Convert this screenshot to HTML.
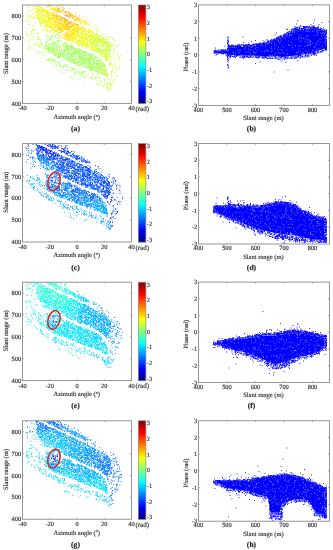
<!DOCTYPE html>
<html><head><meta charset="utf-8"><title>Figure</title>
<style>html,body{margin:0;padding:0;background:#fff;width:333px;height:550px;overflow:hidden}svg{display:block}</style>
</head><body>
<svg width="333" height="550" viewBox="0 0 333 550" text-rendering="geometricPrecision" font-family="'Liberation Serif', 'DejaVu Serif', serif"><defs><linearGradient id="jetg" x1="0" y1="0" x2="0" y2="1"><stop offset="0.0000" stop-color="#800000"/><stop offset="0.0312" stop-color="#9f0000"/><stop offset="0.0625" stop-color="#bf0000"/><stop offset="0.0938" stop-color="#df0000"/><stop offset="0.1250" stop-color="#ff0000"/><stop offset="0.1562" stop-color="#ff2000"/><stop offset="0.1875" stop-color="#ff4000"/><stop offset="0.2188" stop-color="#ff6000"/><stop offset="0.2500" stop-color="#ff8000"/><stop offset="0.2812" stop-color="#ff9f00"/><stop offset="0.3125" stop-color="#ffbf00"/><stop offset="0.3438" stop-color="#ffdf00"/><stop offset="0.3750" stop-color="#ffff00"/><stop offset="0.4062" stop-color="#dfff20"/><stop offset="0.4375" stop-color="#bfff40"/><stop offset="0.4688" stop-color="#9fff60"/><stop offset="0.5000" stop-color="#80ff80"/><stop offset="0.5312" stop-color="#60ff9f"/><stop offset="0.5625" stop-color="#40ffbf"/><stop offset="0.5938" stop-color="#20ffdf"/><stop offset="0.6250" stop-color="#00ffff"/><stop offset="0.6562" stop-color="#00dfff"/><stop offset="0.6875" stop-color="#00bfff"/><stop offset="0.7188" stop-color="#009fff"/><stop offset="0.7500" stop-color="#0080ff"/><stop offset="0.7812" stop-color="#0060ff"/><stop offset="0.8125" stop-color="#0040ff"/><stop offset="0.8438" stop-color="#0020ff"/><stop offset="0.8750" stop-color="#0000ff"/><stop offset="0.9062" stop-color="#0000df"/><stop offset="0.9375" stop-color="#0000bf"/><stop offset="0.9688" stop-color="#00009f"/><stop offset="1.0000" stop-color="#000080"/></linearGradient></defs>
<rect width="333" height="550" fill="#fff"/>
<g transform="scale(0.5)" stroke-width="1.7" stroke-linecap="square" fill="none" opacity="1.0"><path stroke="#59ffa6" d="M127 104h0m40 1h0m15 2h0m6 24h0"/><path stroke="#73ff8c" d="M116 69h0m-1 12h0m-19 2h0m10 3h0m-14 6h0m1 0h0m49 0h0m-34 2h0m35 1h0m-10 1h0m12 0h0m-2 1h0m11 0h0m-58 1h0m35 1h0m28 0h0m-24 1h0m-7 2h0m16 0h0m27 0h0m-16 1h0m-59 1h0m4 0h0m65 0h0m-30 2h0m4 0h0m14 0h0m1 1h0m-35 1h0m16 0h0m8 0h0m8 0h0m19 1h0m8 0h0m-22 1h0m10 0h0m5 0h0m19 0h0m-58 1h0m5 2h0m-15 1h0m42 0h0m2 0h0m18 0h0m-25 1h0m-19 1h0m31 0h0m11 0h0m-75 4h0m42 0h0m12 0h0m-51 1h0m33 0h0m57 0h0m-65 1h0m22 0h0m22 1h0m11 0h0m12 0h0m-32 1h0m-54 1h0m34 0h0m-3 1h0m46 0h0m-27 1h0m15 0h0m11 0h0m-31 1h0m36 0h0m-34 2h0m23 1h0m2 1h0m-58 1h0m49 3h0m11 0h0m-40 12h0m10 10h0m55 8h0"/><path stroke="#8cff73" d="M114 68h0m-61 2h0m68 2h0m-28 2h0m7 0h0m6 0h0m3 0h0m2 0h0m8 1h0m-20 1h0m3 2h0m-3 1h0m1 2h0m17 0h0m-24 1h0m28 0h0m-6 1h0m-24 1h0m23 0h0m103 0h0m-111 1h0m25 0h0m-26 1h0m27 0h0m-23 1h0m-40 1h0m33 0h0m6 0h0m1 0h0m24 0h0m-50 1h0m26 0h0m-8 1h0m1 0h0m8 0h0m-27 1h0m11 0h0m19 0h0m24 0h0m-2 1h0m1 0h0m-33 1h0m3 0h0m9 0h0m18 0h0m2 0h0m8 0h0m1 0h0m-41 1h0m32 0h0m5 0h0m4 0h0m-47 1h0m1 0h0m2 0h0m6 0h0m35 0h0m6 0h0m-32 1h0m19 0h0m2 0h0m1 0h0m7 0h0m-52 1h0m12 0h0m2 0h0m8 0h0m11 0h0m12 0h0m8 0h0m-37 1h0m1 0h0m24 0h0m2 0h0m12 0h0m7 0h0m65 0h0m-123 1h0m27 0h0m13 0h0m1 0h0m21 0h0m-62 1h0m10 0h0m1 0h0m42 0h0m2 0h0m2 0h0m7 0h0m50 0h0m-112 1h0m59 0h0m3 0h0m2 0h0m1 0h0m-90 1h0m33 0h0m1 0h0m27 0h0m25 0h0m62 0h0m-119 1h0m26 0h0m21 0h0m2 0h0m3 0h0m3 0h0m9 0h0m-86 1h0m21 0h0m1 0h0m27 0h0m13 0h0m4 0h0m10 0h0m5 0h0m-45 1h0m31 0h0m21 0h0m8 0h0m-38 1h0m7 0h0m1 0h0m24 0h0m4 0h0m-65 1h0m9 0h0m6 0h0m4 0h0m12 0h0m8 0h0m1 0h0m23 0h0m-39 1h0m5 0h0m1 0h0m25 0h0m1 0h0m6 0h0m11 0h0m-63 1h0m1 0h0m19 0h0m9 0h0m13 0h0m18 0h0m-71 1h0m2 0h0m7 0h0m9 0h0m15 0h0m1 0h0m2 0h0m15 0h0m16 0h0m2 0h0m3 0h0m2 0h0m-72 1h0m6 0h0m2 0h0m17 0h0m1 0h0m7 0h0m17 0h0m3 0h0m5 0h0m5 0h0m13 0h0m-50 1h0m6 0h0m3 0h0m6 0h0m1 0h0m7 0h0m18 0h0m-61 1h0m1 0h0m42 0h0m6 0h0m16 0h0m4 0h0m5 0h0m-61 1h0m3 0h0m3 0h0m6 0h0m6 0h0m15 0h0m1 0h0m17 0h0m8 0h0m8 0h0m-80 1h0m3 0h0m13 0h0m7 0h0m3 0h0m16 0h0m3 0h0m8 0h0m11 0h0m2 0h0m10 0h0m-73 1h0m12 0h0m1 0h0m3 0h0m12 0h0m44 0h0m1 0h0m-56 1h0m5 0h0m17 0h0m2 0h0m9 0h0m7 0h0m7 0h0m-52 1h0m5 0h0m9 0h0m1 0h0m25 0h0m3 0h0m3 0h0m7 0h0m6 0h0m-34 1h0m18 0h0m5 0h0m-81 1h0m5 0h0m3 0h0m40 0h0m23 0h0m3 0h0m9 0h0m11 0h0m-92 1h0m41 0h0m4 0h0m27 0h0m8 0h0m-34 1h0m13 0h0m16 0h0m3 0h0m3 0h0m6 0h0m2 0h0m4 0h0m1 0h0m4 0h0m1 0h0m3 0h0m-81 1h0m19 0h0m38 0h0m6 0h0m-73 1h0m31 0h0m9 0h0m2 0h0m6 0h0m12 0h0m7 0h0m7 0h0m-29 1h0m2 0h0m1 0h0m5 0h0m6 0h0m30 0h0m-91 1h0m45 0h0m7 0h0m1 0h0m3 0h0m13 0h0m1 0h0m4 0h0m5 0h0m-41 1h0m8 0h0m18 0h0m21 0h0m3 0h0m-18 1h0m3 0h0m3 0h0m7 0h0m1 0h0m3 0h0m9 0h0m1 0h0m-73 1h0m68 0h0m-82 1h0m76 0h0m3 0h0m3 0h0m-86 1h0m16 0h0m27 0h0m37 0h0m3 0h0m-70 1h0m35 0h0m34 0h0m9 0h0m-85 1h0m3 0h0m49 0h0m36 0h0m-85 1h0m3 0h0m7 0h0m1 0h0m50 0h0m18 0h0m7 0h0m-40 1h0m11 0h0m6 0h0m4 0h0m-10 1h0m4 0h0m2 0h0m18 0h0m-23 1h0m2 0h0m9 0h0m-47 1h0m54 0h0m-53 1h0m5 0h0m30 0h0m1 0h0m24 0h0m-22 1h0m6 0h0m-56 1h0m-19 1h0m74 0h0m1 0h0m-49 1h0m25 0h0m-44 1h0m23 0h0m13 0h0m36 1h0m9 0h0m-54 1h0m1 0h0m54 0h0m4 0h0m-48 1h0m5 0h0m46 1h0m-3 2h0m-43 2h0m6 2h0m19 1h0m2 1h0m-8 1h0m5 2h0m11 6h0m-4 4h0"/><path stroke="#a6ff59" d="M66 60h0m1 1h0m42 3h0m7 2h0m-41 1h0m43 3h0m-14 1h0m2 0h0m5 0h0m-17 1h0m-28 1h0m31 0h0m5 0h0m2 0h0m1 0h0m79 0h0m-109 1h0m1 0h0m138 0h0m-136 2h0m23 0h0m80 0h0m-79 1h0m13 0h0m-23 1h0m91 0h0m-105 1h0m108 0h0m2 0h0m16 0h0m-104 1h0m107 0h0m22 0h0m-148 1h0m25 0h0m85 0h0m10 0h0m8 1h0m2 0h0m2 0h0m-20 1h0m18 0h0m-159 1h0m41 0h0m17 0h0m15 0h0m75 0h0m-117 1h0m22 0h0m3 0h0m1 0h0m3 0h0m6 0h0m-25 1h0m96 0h0m-88 1h0m13 0h0m13 0h0m5 0h0m55 0h0m22 0h0m-138 1h0m11 0h0m28 0h0m2 0h0m12 0h0m5 0h0m52 0h0m31 0h0m-98 1h0m1 0h0m92 0h0m17 0h0m-136 1h0m28 0h0m10 0h0m1 0h0m64 0h0m-98 1h0m13 0h0m27 0h0m9 0h0m1 0h0m53 0h0m28 0h0m-118 1h0m1 0h0m6 0h0m3 0h0m5 0h0m8 0h0m4 0h0m5 0h0m7 0h0m46 0h0m5 0h0m18 0h0m-118 1h0m3 0h0m18 0h0m11 0h0m9 0h0m5 0h0m72 0h0m-121 1h0m3 0h0m50 0h0m60 0h0m10 0h0m17 0h0m-101 1h0m4 0h0m47 0h0m-87 1h0m1 0h0m3 0h0m11 0h0m1 0h0m1 0h0m6 0h0m9 0h0m7 0h0m-42 1h0m2 0h0m2 0h0m11 0h0m85 0h0m4 0h0m17 0h0m-123 1h0m3 0h0m3 0h0m1 0h0m2 0h0m3 0h0m1 0h0m2 0h0m1 0h0m13 0h0m9 0h0m7 0h0m2 0h0m1 0h0m4 0h0m5 0h0m3 0h0m49 0h0m27 0h0m-126 1h0m1 0h0m2 0h0m1 0h0m10 0h0m4 0h0m15 0h0m15 0h0m2 0h0m1 0h0m51 0h0m9 0h0m-112 1h0m1 0h0m7 0h0m21 0h0m8 0h0m5 0h0m8 0h0m13 0h0m43 0h0m-100 1h0m6 0h0m7 0h0m8 0h0m2 0h0m2 0h0m3 0h0m9 0h0m-48 1h0m2 0h0m13 0h0m2 0h0m2 0h0m1 0h0m8 0h0m1 0h0m9 0h0m5 0h0m2 0h0m2 0h0m15 0h0m52 0h0m-133 1h0m21 0h0m14 0h0m8 0h0m5 0h0m43 0h0m1 0h0m2 0h0m41 0h0m16 0h0m-124 1h0m25 0h0m7 0h0m17 0h0m2 0h0m4 0h0m5 0h0m7 0h0m26 0h0m2 0h0m-119 1h0m30 0h0m13 0h0m27 0h0m1 0h0m7 0h0m2 0h0m11 0h0m31 0h0m-103 1h0m9 0h0m1 0h0m14 0h0m2 0h0m8 0h0m25 0h0m3 0h0m3 0h0m4 0h0m2 0h0m27 0h0m14 0h0m2 0h0m-92 1h0m1 0h0m4 0h0m2 0h0m15 0h0m10 0h0m5 0h0m3 0h0m14 0h0m33 0h0m-97 1h0m5 0h0m7 0h0m3 0h0m1 0h0m16 0h0m2 0h0m2 0h0m1 0h0m6 0h0m3 0h0m6 0h0m4 0h0m-54 1h0m1 0h0m15 0h0m1 0h0m1 0h0m10 0h0m5 0h0m2 0h0m11 0h0m7 0h0m6 0h0m10 0h0m1 0h0m4 0h0m49 0h0m-123 1h0m6 0h0m2 0h0m5 0h0m2 0h0m2 0h0m19 0h0m17 0h0m2 0h0m18 0h0m24 0h0m-98 1h0m8 0h0m1 0h0m1 0h0m24 0h0m35 0h0m22 0h0m-82 1h0m10 0h0m19 0h0m6 0h0m2 0h0m18 0h0m4 0h0m3 0h0m2 0h0m-69 1h0m3 0h0m3 0h0m25 0h0m10 0h0m6 0h0m1 0h0m8 0h0m-56 1h0m12 0h0m55 0h0m31 0h0m-128 1h0m15 0h0m17 0h0m50 0h0m9 0h0m2 0h0m16 0h0m-68 1h0m16 0h0m13 0h0m8 0h0m20 0h0m10 0h0m5 0h0m41 0h0m-142 1h0m40 0h0m1 0h0m17 0h0m8 0h0m1 0h0m1 0h0m10 0h0m7 0h0m4 0h0m1 0h0m27 0h0m-113 1h0m2 0h0m31 0h0m16 0h0m16 0h0m2 0h0m12 0h0m5 0h0m4 0h0m-86 1h0m21 0h0m9 0h0m4 0h0m9 0h0m4 0h0m1 0h0m7 0h0m3 0h0m2 0h0m1 0h0m5 0h0m9 0h0m8 0h0m-94 1h0m3 0h0m13 0h0m19 0h0m11 0h0m2 0h0m11 0h0m3 0h0m2 0h0m4 0h0m2 0h0m13 0h0m2 0h0m11 0h0m5 0h0m-96 1h0m38 0h0m11 0h0m3 0h0m13 0h0m4 0h0m1 0h0m2 0h0m1 0h0m4 0h0m4 0h0m15 0h0m3 0h0m6 0h0m-55 1h0m11 0h0m6 0h0m2 0h0m8 0h0m-78 1h0m10 0h0m35 0h0m4 0h0m2 0h0m9 0h0m12 0h0m5 0h0m1 0h0m14 0h0m-85 1h0m16 0h0m31 0h0m16 0h0m2 0h0m5 0h0m7 0h0m8 0h0m-85 1h0m49 0h0m11 0h0m31 0h0m8 0h0m4 0h0m-63 1h0m3 0h0m5 0h0m1 0h0m15 0h0m4 0h0m5 0h0m14 0h0m5 0h0m5 0h0m2 0h0m-53 1h0m1 0h0m15 0h0m4 0h0m3 0h0m7 0h0m12 0h0m7 0h0m2 0h0m-38 1h0m4 0h0m3 0h0m3 0h0m3 0h0m3 0h0m2 0h0m7 0h0m2 0h0m6 0h0m-87 1h0m76 0h0m1 0h0m10 0h0m13 0h0m-94 1h0m39 0h0m11 0h0m6 0h0m4 0h0m4 0h0m3 0h0m2 0h0m2 0h0m2 0h0m16 0h0m-90 1h0m7 0h0m57 0h0m26 0h0m-32 1h0m2 0h0m3 0h0m2 0h0m4 0h0m10 0h0m2 0h0m14 0h0m1 0h0m-35 1h0m2 0h0m3 0h0m2 0h0m3 0h0m9 0h0m3 0h0m6 0h0m2 0h0m-34 1h0m9 0h0m1 0h0m2 0h0m2 0h0m6 0h0m4 0h0m5 0h0m12 0h0m-70 1h0m38 0h0m6 0h0m7 0h0m9 0h0m-82 1h0m8 0h0m48 0h0m16 0h0m4 0h0m1 0h0m3 0h0m1 0h0m-20 1h0m5 0h0m16 0h0m-57 1h0m13 0h0m18 0h0m20 0h0m3 0h0m6 0h0m-25 1h0m2 0h0m9 0h0m11 0h0m5 0h0m-56 1h0m30 0h0m2 0h0m6 0h0m2 0h0m10 0h0m1 0h0m-70 1h0m21 0h0m10 0h0m21 0h0m12 0h0m12 0h0m-12 1h0m2 0h0m3 0h0m-52 1h0m7 0h0m11 0h0m3 0h0m4 0h0m20 0h0m10 0h0m6 0h0m-47 1h0m44 0h0m-41 1h0m5 0h0m31 0h0m-44 1h0m7 0h0m38 0h0m9 0h0m4 0h0m-48 1h0m42 0h0m-2 1h0m7 0h0m-9 1h0m10 0h0m-49 1h0m27 0h0m-19 1h0m11 0h0m24 0h0m4 1h0m-67 1h0m44 0h0m-8 1h0m31 0h0m-70 1h0m26 0h0m15 0h0m29 0h0m-35 1h0m2 0h0m-33 1h0m34 0h0m-25 2h0m50 1h0m-39 2h0m43 2h0m-15 2h0m0 2h0m15 1h0m-6 1h0m4 4h0m10 2h0m2 0h0m-4 3h0"/><path stroke="#bfff40" d="M62 12h0m15 8h0m-18 1h0m-4 3h0m1 5h0m7 5h0m12 1h0m3 2h0m10 3h0m-7 1h0m6 1h0m1 1h0m-17 1h0m15 0h0m-27 2h0m22 0h0m-11 2h0m12 0h0m-25 1h0m24 1h0m10 3h0m-38 4h0m16 1h0m-4 2h0m-7 1h0m110 0h0m11 0h0m-116 2h0m33 0h0m106 1h0m-126 2h0m29 0h0m10 1h0m-62 1h0m15 0h0m10 0h0m95 0h0m18 0h0m-79 1h0m73 0h0m8 0h0m-137 1h0m3 0h0m57 0h0m55 0h0m23 0h0m-102 1h0m2 0h0m11 0h0m15 0h0m39 0h0m28 0h0m7 0h0m2 0h0m-93 1h0m74 0h0m10 0h0m-79 1h0m49 0h0m20 0h0m9 0h0m6 0h0m9 0h0m-87 1h0m47 0h0m33 0h0m26 0h0m-102 1h0m48 0h0m20 0h0m8 0h0m11 0h0m-130 1h0m77 0h0m21 0h0m23 0h0m-36 1h0m21 0h0m4 0h0m11 0h0m1 0h0m1 0h0m1 0h0m9 0h0m-144 1h0m39 0h0m15 0h0m72 0h0m35 0h0m-143 1h0m86 0h0m6 0h0m23 0h0m9 0h0m2 0h0m-133 1h0m45 0h0m60 0h0m5 0h0m7 0h0m8 0h0m5 0h0m-146 1h0m60 0h0m87 0h0m1 0h0m23 0h0m-173 1h0m121 0h0m11 0h0m4 0h0m5 0h0m1 0h0m1 0h0m-45 1h0m11 0h0m5 0h0m28 0h0m1 0h0m2 0h0m-20 1h0m3 0h0m3 0h0m8 0h0m2 0h0m10 0h0m5 0h0m1 0h0m-51 1h0m21 0h0m4 0h0m19 0h0m7 0h0m8 0h0m-137 1h0m100 0h0m19 0h0m5 0h0m1 0h0m4 0h0m1 0h0m-157 1h0m73 0h0m35 0h0m27 0h0m1 0h0m10 0h0m2 0h0m5 0h0m-138 1h0m23 0h0m32 0h0m91 0h0m-139 1h0m17 0h0m3 0h0m54 0h0m38 0h0m-121 1h0m12 0h0m37 0h0m12 0h0m2 0h0m51 0h0m2 0h0m10 0h0m12 0h0m26 0h0m-158 1h0m21 0h0m32 0h0m8 0h0m26 0h0m9 0h0m7 0h0m4 0h0m7 0h0m9 0h0m7 0h0m6 0h0m2 0h0m2 0h0m4 0h0m17 0h0m-148 1h0m1 0h0m18 0h0m23 0h0m46 0h0m15 0h0m22 0h0m5 0h0m6 0h0m-164 1h0m16 0h0m15 0h0m33 0h0m19 0h0m46 0h0m12 0h0m1 0h0m5 0h0m6 0h0m-159 1h0m24 0h0m11 0h0m8 0h0m77 0h0m5 0h0m40 0h0m-161 1h0m28 0h0m30 0h0m3 0h0m10 0h0m60 0h0m-17 1h0m22 0h0m16 0h0m7 0h0m-132 1h0m20 0h0m25 0h0m17 0h0m8 0h0m38 0h0m18 0h0m-156 1h0m84 0h0m45 0h0m4 0h0m9 0h0m9 0h0m4 0h0m-118 1h0m59 0h0m43 0h0m8 0h0m9 0h0m3 0h0m2 0h0m2 0h0m9 0h0m-119 1h0m20 0h0m28 0h0m31 0h0m2 0h0m7 0h0m2 0h0m2 0h0m11 0h0m3 0h0m-119 1h0m12 0h0m44 0h0m8 0h0m35 0h0m2 0h0m7 0h0m2 0h0m10 0h0m2 0h0m3 0h0m-121 1h0m30 0h0m1 0h0m13 0h0m47 0h0m7 0h0m1 0h0m-95 1h0m1 0h0m34 0h0m6 0h0m12 0h0m34 0h0m1 0h0m7 0h0m13 0h0m-109 1h0m11 0h0m26 0h0m16 0h0m10 0h0m36 0h0m11 0h0m2 0h0m2 0h0m2 0h0m-110 1h0m1 0h0m7 0h0m3 0h0m25 0h0m29 0h0m24 0h0m-116 1h0m3 0h0m69 0h0m58 0h0m1 0h0m3 0h0m-110 1h0m1 0h0m5 0h0m3 0h0m34 0h0m20 0h0m6 0h0m25 0h0m18 0h0m10 0h0m-122 1h0m20 0h0m1 0h0m1 0h0m74 0h0m7 0h0m26 0h0m-127 1h0m53 0h0m55 0h0m3 0h0m-105 1h0m97 0h0m15 0h0m-96 1h0m27 0h0m13 0h0m1 0h0m-80 1h0m33 0h0m2 0h0m11 0h0m6 0h0m24 0h0m35 0h0m14 0h0m2 0h0m-68 1h0m57 0h0m5 0h0m-48 1h0m12 0h0m4 0h0m8 0h0m3 0h0m18 0h0m-67 1h0m10 0h0m24 0h0m35 0h0m-96 1h0m27 0h0m27 0h0m2 0h0m38 0h0m4 0h0m-64 1h0m6 0h0m23 0h0m2 0h0m4 0h0m30 0h0m-45 1h0m11 0h0m6 0h0m24 0h0m-109 1h0m6 0h0m33 0h0m25 0h0m10 0h0m22 0h0m5 0h0m18 0h0m-125 1h0m51 0h0m49 0h0m16 0h0m-101 1h0m101 0h0m-72 1h0m14 0h0m14 0h0m9 0h0m11 0h0m9 0h0m17 0h0m-100 1h0m37 0h0m11 0h0m18 0h0m17 0h0m-48 1h0m18 0h0m16 0h0m1 0h0m10 0h0m-17 1h0m42 0h0m13 0h0m-122 1h0m39 0h0m-32 1h0m37 0h0m33 0h0m1 0h0m16 0h0m2 0h0m16 0h0m-32 1h0m17 0h0m11 0h0m2 0h0m-100 1h0m34 0h0m4 0h0m25 0h0m10 0h0m16 0h0m9 0h0m-88 1h0m27 0h0m2 0h0m37 0h0m9 0h0m-43 1h0m8 0h0m9 0h0m14 0h0m3 0h0m8 0h0m4 0h0m-81 1h0m38 0h0m67 0h0m7 0h0m-52 1h0m1 0h0m17 0h0m-79 1h0m57 0h0m8 0h0m7 0h0m7 0h0m1 0h0m15 0h0m-82 1h0m28 0h0m10 0h0m17 0h0m2 0h0m4 0h0m2 0h0m23 0h0m-79 1h0m38 0h0m27 0h0m26 0h0m-92 1h0m51 0h0m1 0h0m15 0h0m-63 1h0m63 0h0m-13 1h0m-18 1h0m6 0h0m20 0h0m3 0h0m2 0h0m2 0h0m-73 1h0m12 0h0m33 0h0m16 0h0m6 0h0m1 0h0m-51 1h0m34 0h0m2 0h0m2 0h0m8 0h0m7 0h0m1 0h0m-15 1h0m1 0h0m7 0h0m-8 1h0m1 0h0m1 0h0m6 0h0m8 0h0m1 0h0m8 0h0m-20 1h0m1 0h0m-77 1h0m53 0h0m25 0h0m8 0h0m-7 1h0m1 0h0m2 0h0m-48 1h0m46 0h0m2 0h0m7 0h0m-29 1h0m22 0h0m2 0h0m3 0h0m10 1h0m-10 1h0m3 0h0m-47 2h0m26 1h0m-56 1h0m59 0h0m1 0h0m-11 2h0m11 0h0m22 1h0m-12 1h0m8 0h0m14 1h0m-31 1h0m9 0h0m1 4h0m8 1h0m-5 2h0m8 0h0m-9 1h0m7 0h0m-19 1h0m5 2h0m9 1h0m2 1h0m-3 2h0m0 1h0m8 1h0m-4 4h0"/><path stroke="#d9ff26" d="M56 12h0m17 0h0m4 0h0m-11 1h0m-10 1h0m3 0h0m36 0h0m-12 1h0m1 0h0m-2 1h0m0 1h0m-8 1h0m5 0h0m1 0h0m-14 2h0m14 0h0m-1 1h0m-17 1h0m15 0h0m3 0h0m2 0h0m-9 1h0m13 0h0m2 0h0m-15 2h0m17 0h0m-16 1h0m5 1h0m14 1h0m-17 2h0m-24 2h0m2 0h0m43 1h0m-29 1h0m17 0h0m-20 2h0m2 0h0m6 0h0m1 0h0m3 0h0m6 0h0m9 0h0m-16 3h0m13 0h0m-35 1h0m35 0h0m13 0h0m72 0h0m-96 1h0m9 0h0m4 0h0m6 0h0m-17 1h0m1 0h0m-28 1h0m8 0h0m28 0h0m18 0h0m-22 1h0m18 0h0m-17 2h0m11 0h0m-17 1h0m3 0h0m7 0h0m10 0h0m63 0h0m9 0h0m5 0h0m-82 1h0m9 0h0m72 0h0m-118 1h0m112 0h0m-70 1h0m1 0h0m-12 1h0m2 1h0m3 0h0m10 0h0m1 0h0m-7 2h0m8 0h0m-4 1h0m-38 1h0m119 1h0m-98 1h0m8 0h0m14 0h0m43 1h0m43 0h0m-101 2h0m102 0h0m-83 2h0m62 1h0m4 0h0m1 0h0m4 0h0m3 0h0m10 0h0m-12 1h0m4 0h0m-124 1h0m-10 1h0m98 0h0m9 0h0m2 0h0m14 0h0m6 0h0m5 0h0m-11 1h0m13 0h0m4 0h0m19 0h0m-151 1h0m56 0h0m67 0h0m10 0h0m13 0h0m-59 1h0m12 0h0m2 0h0m1 0h0m35 0h0m-41 1h0m20 0h0m4 0h0m7 0h0m7 0h0m3 0h0m-63 1h0m23 0h0m8 0h0m18 0h0m2 0h0m18 0h0m-49 1h0m17 0h0m4 0h0m3 0h0m8 0h0m10 0h0m1 0h0m4 0h0m11 0h0m-146 1h0m85 0h0m1 0h0m6 0h0m5 0h0m26 0h0m19 0h0m12 0h0m-73 1h0m23 0h0m5 0h0m4 0h0m15 0h0m9 0h0m-42 1h0m7 0h0m2 0h0m1 0h0m10 0h0m8 0h0m1 0h0m2 0h0m12 0h0m1 0h0m2 0h0m17 0h0m-92 1h0m47 0h0m7 0h0m14 0h0m-141 1h0m18 0h0m73 0h0m31 0h0m3 0h0m1 0h0m5 0h0m3 0h0m20 0h0m13 0h0m-133 1h0m57 0h0m12 0h0m17 0h0m15 0h0m6 0h0m9 0h0m2 0h0m-81 1h0m29 0h0m11 0h0m4 0h0m3 0h0m1 0h0m15 0h0m7 0h0m3 0h0m2 0h0m-62 1h0m11 0h0m9 0h0m12 0h0m10 0h0m6 0h0m2 0h0m5 0h0m6 0h0m-101 1h0m49 0h0m26 0h0m1 0h0m1 0h0m13 0h0m3 0h0m10 0h0m10 0h0m-44 1h0m2 0h0m6 0h0m5 0h0m19 0h0m12 0h0m-68 1h0m8 0h0m7 0h0m15 0h0m4 0h0m7 0h0m7 0h0m2 0h0m-46 1h0m29 0h0m4 0h0m4 0h0m3 0h0m6 0h0m3 0h0m3 0h0m4 0h0m4 0h0m-138 1h0m79 0h0m20 0h0m12 0h0m1 0h0m1 0h0m-33 1h0m6 0h0m12 0h0m3 0h0m9 0h0m6 0h0m17 0h0m4 0h0m4 0h0m-133 1h0m75 0h0m6 0h0m10 0h0m2 0h0m6 0h0m2 0h0m19 0h0m5 0h0m8 0h0m-148 1h0m107 0h0m3 0h0m13 0h0m5 0h0m21 0h0m5 0h0m1 0h0m-95 1h0m31 0h0m33 0h0m7 0h0m3 0h0m27 0h0m3 0h0m-62 1h0m1 0h0m41 0h0m4 0h0m-137 1h0m29 0h0m56 0h0m5 0h0m5 0h0m14 0h0m18 0h0m1 0h0m9 0h0m-97 1h0m6 0h0m13 0h0m27 0h0m7 0h0m4 0h0m13 0h0m5 0h0m5 0h0m20 0h0m-33 1h0m5 0h0m2 0h0m20 0h0m6 0h0m-34 1h0m27 0h0m5 0h0m-112 1h0m66 0h0m37 0h0m7 0h0m-156 1h0m52 0h0m73 0h0m40 0h0m-156 1h0m25 0h0m103 0h0m-10 1h0m1 0h0m2 0h0m9 0h0m-85 1h0m67 0h0m3 0h0m3 0h0m7 0h0m3 0h0m-2 1h0m10 0h0m7 0h0m-59 1h0m51 0h0m3 0h0m7 0h0m17 0h0m-43 1h0m4 0h0m11 0h0m1 0h0m1 0h0m4 0h0m2 0h0m6 0h0m-95 1h0m69 0h0m16 0h0m4 0h0m16 0h0m-90 1h0m66 0h0m1 0h0m11 0h0m1 0h0m-14 1h0m6 0h0m-5 1h0m1 0h0m1 0h0m1 0h0m-122 2h0m55 0h0m70 0h0m4 0h0m7 0h0m-74 1h0m56 0h0m6 0h0m4 0h0m-122 1h0m127 0h0m11 0h0m14 0h0m-32 1h0m4 0h0m-9 1h0m3 0h0m5 0h0m3 0h0m2 0h0m4 0h0m-9 1h0m10 0h0m17 0h0m-29 1h0m2 1h0m24 1h0m1 0h0m3 0h0m-136 2h0m110 0h0m1 0h0m-1 1h0m15 0h0m-14 2h0m5 0h0m2 0h0m-121 2h0m49 2h0m73 2h0m-2 1h0m5 0h0m4 1h0m-63 1h0m43 1h0m10 0h0m8 1h0m-18 3h0m1 1h0m29 0h0m-1 1h0m-6 1h0m-39 2h0m2 0h0m28 1h0m-24 1h0m10 0h0m12 0h0m-18 1h0m-49 1h0m55 1h0m13 1h0m-13 1h0m3 2h0m21 1h0m-71 1h0m13 0h0m39 0h0m18 0h0m-5 3h0m2 4h0m-35 2h0m8 2h0m22 1h0m-4 1h0m-7 1h0m13 2h0m-12 1h0m7 1h0m-8 1h0m7 0h0m2 3h0m-8 2h0m2 4h0m3 0h0"/><path stroke="#f2ff0d" d="M94 11h0m-20 1h0m6 1h0m15 0h0m-15 2h0m3 1h0m-11 1h0m2 0h0m6 0h0m21 0h0m1 0h0m-34 1h0m17 0h0m-17 1h0m7 0h0m3 0h0m8 0h0m-16 1h0m22 0h0m-16 1h0m6 0h0m8 0h0m3 0h0m-8 1h0m5 0h0m-15 1h0m14 0h0m1 0h0m5 0h0m-19 1h0m2 0h0m1 0h0m4 0h0m2 0h0m-9 1h0m-1 1h0m5 0h0m13 0h0m3 0h0m-28 1h0m24 0h0m16 0h0m-12 1h0m-30 1h0m15 0h0m19 0h0m-22 1h0m1 0h0m8 0h0m9 0h0m-21 1h0m1 0h0m10 0h0m11 0h0m8 0h0m-21 1h0m7 0h0m-13 1h0m10 0h0m5 0h0m5 0h0m-29 1h0m5 0h0m4 0h0m5 0h0m5 0h0m1 0h0m5 0h0m-39 1h0m5 0h0m16 0h0m10 0h0m9 0h0m2 0h0m69 0h0m-87 1h0m7 0h0m3 0h0m8 0h0m71 0h0m-101 1h0m13 0h0m5 0h0m68 0h0m-75 1h0m9 0h0m3 0h0m7 0h0m63 0h0m-79 1h0m3 0h0m6 0h0m14 0h0m-19 1h0m7 0h0m5 0h0m8 0h0m55 0h0m-83 1h0m17 0h0m10 0h0m60 0h0m1 0h0m-87 2h0m6 0h0m2 0h0m-4 1h0m5 0h0m5 0h0m4 0h0m70 0h0m-86 1h0m6 0h0m21 0h0m65 0h0m-93 1h0m5 0h0m78 0h0m14 0h0m-90 1h0m9 0h0m18 0h0m57 0h0m5 0h0m1 0h0m-86 1h0m9 0h0m9 0h0m11 0h0m-21 1h0m8 0h0m63 0h0m-77 1h0m11 0h0m-8 1h0m10 0h0m10 0h0m58 0h0m-76 1h0m6 0h0m54 0h0m33 0h0m-89 1h0m7 0h0m55 0h0m-79 1h0m15 0h0m12 0h0m1 0h0m51 0h0m-68 1h0m8 0h0m24 0h0m22 0h0m-41 1h0m11 0h0m37 0h0m11 0h0m-65 1h0m2 0h0m75 0h0m-56 1h0m5 0h0m-24 1h0m4 0h0m10 0h0m31 0h0m7 0h0m34 0h0m-100 1h0m16 0h0m71 0h0m1 0h0m-83 1h0m14 0h0m13 0h0m35 0h0m3 0h0m5 0h0m6 0h0m7 0h0m5 0h0m16 0h0m-33 1h0m-46 1h0m6 0h0m15 0h0m22 0h0m11 0h0m7 0h0m-81 1h0m57 0h0m4 0h0m4 0h0m1 0h0m13 0h0m5 0h0m-85 1h0m1 0h0m48 0h0m25 0h0m-19 1h0m8 0h0m6 0h0m13 0h0m-48 1h0m32 0h0m4 0h0m2 0h0m-41 1h0m25 0h0m15 0h0m24 0h0m-44 1h0m6 0h0m9 0h0m5 0h0m20 0h0m-55 1h0m8 0h0m13 0h0m13 0h0m-36 1h0m10 0h0m11 0h0m1 0h0m10 0h0m10 0h0m3 0h0m1 0h0m7 0h0m4 0h0m-64 1h0m22 0h0m2 0h0m11 0h0m9 0h0m4 0h0m1 0h0m18 0h0m-55 1h0m21 0h0m12 0h0m19 0h0m-41 1h0m11 0h0m7 0h0m15 0h0m-43 1h0m11 0h0m2 0h0m27 0h0m12 0h0m-57 1h0m16 0h0m9 0h0m4 0h0m7 0h0m13 0h0m6 0h0m6 0h0m-48 1h0m5 0h0m6 0h0m14 0h0m3 0h0m13 0h0m4 0h0m15 0h0m-151 1h0m83 0h0m27 0h0m21 0h0m10 0h0m-61 1h0m2 0h0m2 0h0m8 0h0m17 0h0m7 0h0m3 0h0m1 0h0m3 0h0m37 0h0m-71 1h0m7 0h0m12 0h0m1 0h0m3 0h0m23 0h0m-56 1h0m21 0h0m5 0h0m19 0h0m13 0h0m-49 1h0m7 0h0m3 0h0m2 0h0m2 0h0m11 0h0m16 0h0m7 0h0m16 0h0m-51 1h0m1 0h0m2 0h0m4 0h0m4 0h0m16 0h0m4 0h0m20 0h0m-61 1h0m15 0h0m4 0h0m4 0h0m1 0h0m-28 1h0m23 0h0m8 0h0m-13 1h0m15 0h0m42 0h0m-62 1h0m2 0h0m4 0h0m1 0h0m5 0h0m15 0h0m1 0h0m19 0h0m12 0h0m-61 1h0m2 0h0m3 0h0m7 0h0m2 0h0m1 0h0m-11 1h0m6 0h0m3 0h0m3 0h0m3 0h0m9 0h0m2 0h0m29 0h0m-41 1h0m7 0h0m1 0h0m2 0h0m23 0h0m15 0h0m-45 1h0m39 0h0m-51 1h0m8 0h0m29 0h0m5 1h0m-40 1h0m12 0h0m15 0h0m31 0h0m-52 1h0m1 0h0m5 1h0m9 1h0m3 0h0m9 0h0m1 0h0m-12 1h0m29 0h0m-38 1h0m5 0h0m1 0h0m8 2h0m2 1h0m16 0h0m-15 3h0m20 2h0m-7 1h0m8 1h0m8 0h0m-22 1h0m12 1h0m-9 2h0m9 2h0m12 1h0m-15 1h0m2 1h0m7 0h0m8 2h0m9 0h0m5 0h0m-16 17h0m-1 5h0m-1 1h0m8 3h0m-22 4h0m13 5h0m0 14h0m-1 2h0"/><path stroke="#ff7300" d="M139 27h0m-9 4h0m6 13h0"/><path stroke="#ff8c00" d="M133 31h0m-23 1h0m26 1h0m2 0h0m-10 3h0m-6 1h0m6 0h0m1 0h0m-5 1h0m9 2h0m1 0h0m16 0h0m-28 4h0m20 0h0m-4 1h0m2 1h0m-2 1h0m-2 1h0m1 2h0"/><path stroke="#ffa600" d="M125 11h0m-4 1h0m-3 2h0m7 1h0m-7 2h0m-3 1h0m1 0h0m11 1h0m-13 1h0m12 1h0m-9 2h0m7 0h0m6 0h0m-2 1h0m5 0h0m4 0h0m-7 1h0m1 0h0m3 2h0m8 0h0m-30 1h0m27 1h0m-26 1h0m28 0h0m1 0h0m2 0h0m-35 1h0m26 0h0m8 0h0m-29 1h0m4 0h0m2 0h0m16 0h0m9 0h0m-29 1h0m17 0h0m9 0h0m-19 1h0m-1 1h0m17 0h0m16 0h0m-29 1h0m19 0h0m-18 1h0m17 0h0m-24 1h0m28 0h0m-24 1h0m5 0h0m-6 1h0m9 0h0m-2 1h0m20 0h0m4 0h0m-26 2h0m4 0h0m8 0h0m-10 2h0m18 0h0m-11 1h0m1 0h0m5 0h0m3 0h0m-22 1h0m6 1h0m5 0h0m7 0h0m-20 5h0m4 1h0m17 0h0m-7 1h0m-22 1h0m6 1h0m1 0h0m9 0h0m16 4h0m-25 3h0m10 6h0"/><path stroke="#ffbf00" d="M99 11h0m14 1h0m15 5h0m12 0h0m-33 1h0m5 0h0m-7 1h0m3 0h0m9 0h0m-2 1h0m4 0h0m1 0h0m-5 1h0m-5 1h0m1 0h0m4 1h0m5 0h0m-3 1h0m21 0h0m-18 1h0m3 0h0m11 0h0m4 0h0m-31 1h0m32 2h0m13 0h0m-55 1h0m35 0h0m4 0h0m2 1h0m1 0h0m2 1h0m3 0h0m1 0h0m-50 1h0m18 0h0m2 0h0m1 0h0m16 0h0m15 0h0m2 0h0m10 0h0m-49 1h0m2 0h0m7 0h0m31 0h0m-29 1h0m20 0h0m8 0h0m3 0h0m-29 1h0m-14 1h0m3 0h0m1 0h0m1 0h0m42 0h0m-55 1h0m6 0h0m38 0h0m10 0h0m-40 1h0m11 0h0m23 0h0m3 0h0m5 0h0m-42 1h0m5 0h0m3 0h0m10 0h0m17 0h0m10 0h0m-42 1h0m1 0h0m11 0h0m1 0h0m4 0h0m-17 1h0m13 0h0m5 0h0m-24 1h0m3 0h0m16 0h0m1 0h0m-21 1h0m9 0h0m9 0h0m2 0h0m-2 1h0m-10 1h0m16 0h0m6 0h0m-23 1h0m13 0h0m5 0h0m-14 1h0m3 0h0m7 0h0m20 0h0m-35 1h0m6 0h0m9 0h0m-7 1h0m2 0h0m1 0h0m5 0h0m14 0h0m4 0h0m2 0h0m2 0h0m-23 1h0m1 0h0m12 0h0m-15 1h0m1 0h0m3 0h0m10 0h0m3 0h0m1 0h0m6 0h0m-31 1h0m11 0h0m10 0h0m-11 1h0m1 0h0m3 0h0m1 0h0m4 0h0m14 0h0m-16 1h0m1 0h0m10 0h0m-34 1h0m12 0h0m9 0h0m2 0h0m2 0h0m-8 1h0m5 0h0m11 0h0m4 0h0m1 0h0m-36 1h0m13 0h0m4 0h0m16 0h0m9 0h0m-45 1h0m14 0h0m3 0h0m2 0h0m1 0h0m-13 1h0m7 0h0m8 0h0m4 0h0m5 0h0m7 1h0m1 0h0m-31 1h0m14 1h0m-18 3h0m18 1h0m-5 2h0m7 0h0m-15 1h0m13 0h0m6 0h0m8 0h0m-19 5h0m3 3h0"/><path stroke="#ffd900" d="M97 10h0m10 1h0m8 1h0m-21 1h0m3 0h0m5 0h0m9 3h0m4 0h0m12 0h0m-23 1h0m5 0h0m1 1h0m-25 1h0m22 0h0m13 0h0m-35 1h0m24 0h0m1 0h0m-23 1h0m33 0h0m3 0h0m1 0h0m-8 1h0m1 0h0m-24 1h0m20 0h0m-17 1h0m23 0h0m-24 1h0m10 0h0m48 0h0m-59 1h0m-5 1h0m15 0h0m2 0h0m1 1h0m20 0h0m24 0h0m-52 1h0m9 0h0m-22 1h0m12 0h0m7 0h0m3 0h0m-21 1h0m16 0h0m3 0h0m5 0h0m3 0h0m-22 1h0m13 0h0m7 0h0m5 0h0m26 0h0m3 0h0m4 0h0m-32 1h0m30 0h0m-39 1h0m3 0h0m1 0h0m4 0h0m30 0h0m-45 1h0m6 0h0m6 0h0m2 0h0m31 0h0m-49 1h0m1 0h0m5 0h0m11 0h0m45 0h0m-45 1h0m-13 1h0m10 0h0m5 0h0m42 0h0m-62 1h0m9 0h0m11 0h0m2 0h0m36 0h0m3 0h0m-60 1h0m8 0h0m2 0h0m16 0h0m35 0h0m-49 1h0m14 0h0m5 0h0m26 0h0m1 0h0m-58 1h0m12 0h0m14 0h0m1 0h0m1 0h0m7 0h0m27 0h0m-45 1h0m54 0h0m1 0h0m-56 1h0m5 0h0m1 0h0m39 0h0m11 0h0m-77 1h0m9 0h0m14 0h0m27 0h0m19 0h0m8 0h0m-79 1h0m15 0h0m13 0h0m51 0h0m-60 1h0m11 0h0m5 0h0m21 0h0m-23 1h0m4 0h0m1 0h0m2 0h0m7 0h0m5 0h0m5 0h0m2 0h0m2 0h0m-38 1h0m9 0h0m3 0h0m5 0h0m19 0h0m2 0h0m5 0h0m21 0h0m-70 1h0m1 0h0m5 0h0m3 0h0m6 0h0m1 0h0m23 0h0m2 0h0m4 0h0m-41 1h0m1 0h0m3 0h0m3 0h0m9 0h0m8 0h0m-36 1h0m22 0h0m5 0h0m4 0h0m5 0h0m9 0h0m7 0h0m-26 1h0m1 0h0m4 0h0m1 0h0m14 0h0m1 0h0m11 0h0m-69 1h0m12 0h0m15 0h0m7 0h0m1 0h0m9 0h0m2 0h0m9 0h0m10 0h0m2 0h0m39 0h0m-79 1h0m18 0h0m31 0h0m-55 1h0m2 0h0m3 0h0m3 0h0m14 0h0m3 0h0m3 0h0m28 0h0m-49 1h0m5 0h0m2 0h0m3 0h0m19 0h0m10 0h0m2 0h0m5 0h0m5 0h0m-63 1h0m16 0h0m1 0h0m28 0h0m7 0h0m5 0h0m6 0h0m3 0h0m-52 1h0m16 0h0m1 0h0m3 0h0m2 0h0m5 0h0m8 0h0m-36 1h0m1 0h0m1 0h0m1 0h0m4 0h0m8 0h0m1 0h0m10 0h0m-33 1h0m15 0h0m8 0h0m1 0h0m12 0h0m1 0h0m3 0h0m5 0h0m-55 1h0m12 0h0m2 0h0m7 0h0m2 0h0m1 0h0m2 0h0m21 0h0m5 0h0m1 0h0m-6 1h0m-26 1h0m12 0h0m20 0h0m1 0h0m1 0h0m18 0h0m-57 1h0m18 0h0m1 0h0m10 0h0m10 0h0m21 0h0m-52 1h0m7 0h0m3 0h0m7 0h0m8 0h0m7 0h0m-26 1h0m14 0h0m3 0h0m1 0h0m-6 1h0m8 0h0m14 0h0m16 0h0m-45 1h0m38 0h0m-38 1h0m11 0h0m19 0h0m-32 1h0m7 0h0m1 0h0m7 0h0m-8 1h0m5 0h0m-13 1h0m4 0h0m2 0h0m5 0h0m1 0h0m19 0h0m-40 1h0m11 0h0m4 0h0m3 0h0m-18 1h0m5 0h0m6 1h0m5 0h0m4 0h0m22 0h0m-36 1h0m3 1h0m8 0h0m-10 1h0m68 0h0m-62 1h0m0 1h0m9 0h0m21 0h0m-9 9h0m8 0h0m68 47h0"/><path stroke="#fff200" d="M100 11h0m2 0h0m3 0h0m-4 1h0m-31 1h0m5 0h0m21 1h0m1 0h0m10 0h0m-34 2h0m2 1h0m12 1h0m13 0h0m8 0h0m-28 1h0m10 0h0m-11 1h0m10 0h0m-11 1h0m6 0h0m8 0h0m5 0h0m-11 1h0m6 0h0m3 0h0m-17 1h0m6 0h0m-12 1h0m12 0h0m7 0h0m2 0h0m7 0h0m3 0h0m-21 1h0m1 0h0m1 0h0m12 0h0m4 0h0m5 1h0m-14 1h0m4 0h0m8 0h0m-1 1h0m4 0h0m-21 1h0m1 0h0m-14 1h0m23 0h0m9 0h0m-43 1h0m22 0h0m8 0h0m10 0h0m-8 1h0m9 0h0m4 0h0m1 0h0m-47 1h0m20 2h0m2 0h0m2 0h0m17 0h0m4 0h0m-14 1h0m11 0h0m1 0h0m-26 1h0m20 0h0m2 0h0m3 0h0m2 0h0m-28 1h0m23 0h0m10 0h0m-13 1h0m4 0h0m5 0h0m5 0h0m-14 1h0m15 0h0m4 0h0m47 0h0m3 0h0m-62 1h0m2 0h0m4 0h0m61 0h0m-84 1h0m3 0h0m5 0h0m2 0h0m7 0h0m11 0h0m44 0h0m7 0h0m1 0h0m-72 1h0m2 0h0m3 0h0m14 0h0m1 0h0m40 0h0m-64 1h0m7 0h0m4 0h0m24 0h0m37 0h0m-65 1h0m7 0h0m5 0h0m2 0h0m47 0h0m3 0h0m-67 1h0m7 0h0m7 0h0m4 0h0m10 0h0m41 0h0m-60 1h0m20 0h0m41 0h0m-54 1h0m15 0h0m50 0h0m-82 1h0m1 0h0m1 0h0m4 0h0m10 0h0m1 0h0m2 0h0m4 0h0m2 0h0m-24 1h0m11 0h0m2 0h0m8 0h0m4 0h0m3 0h0m4 0h0m2 0h0m3 0h0m25 0h0m1 0h0m-75 1h0m40 0h0m1 0h0m-58 1h0m33 0h0m8 0h0m5 0h0m18 0h0m29 0h0m5 0h0m-69 1h0m15 0h0m7 0h0m3 0h0m11 0h0m22 0h0m-55 1h0m11 0h0m9 0h0m3 0h0m37 0h0m7 0h0m2 0h0m-57 1h0m23 0h0m15 0h0m1 0h0m2 0h0m5 0h0m1 0h0m10 0h0m16 0h0m-62 1h0m27 0h0m-48 1h0m30 0h0m5 0h0m1 0h0m9 0h0m6 0h0m5 0h0m11 0h0m-78 1h0m16 0h0m42 0h0m1 0h0m1 0h0m12 0h0m-66 1h0m15 0h0m11 0h0m24 0h0m15 0h0m2 0h0m5 0h0m-73 1h0m20 0h0m11 0h0m26 0h0m6 0h0m2 0h0m15 0h0m-85 1h0m13 0h0m4 0h0m8 0h0m1 0h0m36 0h0m16 0h0m1 0h0m-65 1h0m8 0h0m11 0h0m13 0h0m6 0h0m2 0h0m27 0h0m1 0h0m2 0h0m5 0h0m-64 1h0m1 0h0m24 0h0m1 0h0m3 0h0m1 0h0m3 0h0m5 0h0m15 0h0m3 0h0m4 0h0m9 0h0m-40 1h0m10 0h0m6 0h0m25 0h0m-39 1h0m1 0h0m10 0h0m5 0h0m-42 1h0m18 0h0m9 0h0m3 0h0m12 0h0m13 0h0m-39 1h0m32 0h0m-28 1h0m9 0h0m5 0h0m-15 1h0m4 0h0m4 0h0m6 0h0m32 0h0m-53 1h0m7 0h0m3 0h0m1 0h0m-12 1h0m10 0h0m5 0h0m3 0h0m-17 1h0m4 0h0m11 0h0m4 0h0m5 0h0m14 0h0m8 0h0m-41 1h0m14 0h0m18 0h0m15 0h0m-54 1h0m4 0h0m6 0h0m45 0h0m4 0h0m-42 1h0m18 0h0m-35 1h0m14 0h0m3 0h0m1 0h0m-9 1h0m8 0h0m4 0h0m4 0h0m17 0h0m-38 1h0m6 0h0m4 0h0m20 0h0m10 0h0m2 0h0m1 0h0m21 0h0m9 0h0m-63 1h0m4 0h0m-8 1h0m5 0h0m5 0h0m55 0h0m-44 1h0m-20 1h0m20 0h0m3 0h0m2 0h0m-21 1h0m1 0h0m25 0h0m-26 1h0m12 0h0m4 0h0m10 1h0m6 0h0m4 0h0m-28 1h0m44 1h0m-34 1h0m-2 1h0m6 0h0m9 1h0m-2 1h0m-92 1h0m95 0h0m5 0h0m5 1h0m2 0h0m3 1h0m-7 4h0m22 1h0m-10 3h0m29 43h0m4 1h0m-3 16h0"/></g>
<g transform="scale(0.5)" stroke-width="1.7" stroke-linecap="square" fill="none" opacity="1.0"><path stroke="#0000d9" d="M107 293h0"/><path stroke="#0000f2" d="M95 291h0m1 1h0m15 0h0m-9 1h0m9 0h0m-29 1h0m7 1h0m3 1h0m17 0h0m-22 1h0m9 2h0m-14 2h0m11 1h0m30 3h0m-10 1h0m-2 54h0m-8 10h0"/><path stroke="#000dff" d="M90 288h0m7 0h0m-5 1h0m13 0h0m-30 3h0m35 0h0m13 0h0m-25 1h0m-21 1h0m6 0h0m2 0h0m23 0h0m7 0h0m-32 1h0m3 0h0m1 0h0m-7 1h0m22 0h0m-20 1h0m11 0h0m13 0h0m10 0h0m8 0h0m-41 1h0m8 0h0m1 0h0m31 0h0m-36 1h0m2 0h0m4 0h0m-1 1h0m-4 1h0m30 0h0m4 0h0m6 0h0m-36 1h0m4 0h0m5 0h0m34 0h0m-57 1h0m45 0h0m-41 1h0m10 0h0m1 0h0m2 0h0m4 0h0m6 0h0m24 0h0m-37 1h0m2 0h0m-1 1h0m5 0h0m3 1h0m7 0h0m2 0h0m-24 1h0m11 0h0m19 1h0m36 2h0m-40 1h0m-2 2h0m-3 3h0m60 1h0m-42 1h0m6 3h0m48 2h0m-29 2h0m-20 7h0m67 0h0m-25 1h0m-16 6h0m33 4h0m39 12h0m-75 2h0m78 3h0m-24 3h0m-47 4h0m76 2h0m-92 1h0m-36 2h0m105 2h0m0 3h0m20 0h0m6 2h0m-27 1h0m-13 3h0m-51 4h0m71 1h0m-7 4h0m-3 1h0m22 6h0m-4 11h0m8 12h0"/><path stroke="#0026ff" d="M91 287h0m-18 1h0m26 1h0m7 0h0m-5 1h0m-27 1h0m2 0h0m22 0h0m20 0h0m14 0h0m-54 1h0m26 0h0m30 0h0m-53 1h0m2 0h0m-31 1h0m50 0h0m1 0h0m2 0h0m1 0h0m7 0h0m1 0h0m3 0h0m14 0h0m-50 1h0m29 0h0m4 0h0m-35 1h0m36 0h0m14 0h0m-43 1h0m19 0h0m6 0h0m14 0h0m-41 1h0m1 0h0m1 0h0m41 0h0m-51 1h0m9 0h0m43 0h0m-54 1h0m6 0h0m13 0h0m5 0h0m31 0h0m-42 1h0m1 0h0m2 0h0m6 0h0m1 0h0m22 0h0m-19 1h0m0 0h0m22 0h0m-31 1h0m3 0h0m8 0h0m0 0h0m23 0h0m2 0h0m8 0h0m2 0h0m6 0h0m1 0h0m-58 1h0m5 0h0m10 0h0m8 0h0m21 0h0m3 0h0m-57 1h0m8 0h0m23 0h0m30 0h0m-42 1h0m13 0h0m0 0h0m3 0h0m-12 1h0m8 0h0m26 0h0m-28 1h0m1 0h0m11 0h0m-2 1h0m-13 1h0m0 0h0m5 0h0m3 0h0m2 0h0m2 0h0m32 0h0m-61 1h0m12 0h0m6 0h0m5 0h0m3 0h0m4 0h0m1 0h0m25 0h0m6 0h0m-43 1h0m3 0h0m3 0h0m6 0h0m32 0h0m7 0h0m-56 1h0m10 0h0m1 0h0m43 0h0m4 0h0m-66 1h0m21 0h0m-13 1h0m8 0h0m17 0h0m2 0h0m26 1h0m3 0h0m-46 1h0m5 0h0m9 0h0m29 0h0m7 0h0m-48 1h0m2 0h0m20 0h0m5 0h0m14 0h0m4 0h0m-21 1h0m25 0h0m-40 1h0m11 0h0m-13 1h0m53 0h0m-25 1h0m-1 1h0m5 0h0m23 0h0m-50 1h0m42 0h0m9 0h0m4 0h0m-33 1h0m27 0h0m2 0h0m2 0h0m-38 1h0m42 0h0m-53 1h0m30 0h0m-23 1h0m-14 1h0m1 0h0m16 0h0m26 0h0m-44 1h0m16 0h0m19 0h0m-21 1h0m18 0h0m40 0h0m-69 2h0m5 0h0m13 0h0m2 0h0m26 1h0m-46 1h0m28 0h0m24 0h0m-9 1h0m31 0h0m-77 1h0m28 0h0m29 0h0m1 0h0m1 0h0m-52 1h0m33 0h0m17 0h0m-46 1h0m2 0h0m2 0h0m33 0h0m12 0h0m-61 2h0m53 0h0m-35 1h0m37 0h0m5 0h0m4 0h0m-48 1h0m45 0h0m14 0h0m-41 1h0m26 0h0m1 0h0m10 0h0m-53 1h0m19 1h0m-23 1h0m16 0h0m-18 1h0m27 0h0m10 0h0m1 1h0m23 0h0m28 0h0m-81 1h0m14 0h0m-11 1h0m-2 1h0m-31 1h0m4 0h0m26 0h0m11 0h0m24 0h0m3 0h0m4 0h0m-72 1h0m62 0h0m15 0h0m34 0h0m-114 1h0m7 0h0m18 0h0m19 0h0m32 0h0m13 0h0m-82 1h0m19 0h0m35 0h0m33 0h0m-49 1h0m54 0h0m1 0h0m-91 1h0m115 0h0m-75 1h0m11 0h0m19 1h0m19 0h0m9 0h0m3 0h0m-111 1h0m62 0h0m48 0h0m-11 1h0m29 0h0m-38 1h0m15 0h0m21 0h0m-67 1h0m54 0h0m9 0h0m-117 1h0m2 0h0m95 0h0m11 0h0m1 0h0m-108 1h0m3 0h0m42 0h0m40 0h0m18 0h0m6 0h0m-53 1h0m5 0h0m31 0h0m14 0h0m-47 1h0m32 0h0m11 0h0m7 0h0m-51 1h0m8 0h0m25 0h0m2 0h0m11 0h0m1 0h0m-52 1h0m40 0h0m9 0h0m2 0h0m6 0h0m-49 1h0m46 0h0m16 0h0m-128 1h0m6 0h0m78 0h0m12 0h0m3 0h0m15 0h0m-23 1h0m-92 1h0m67 0h0m62 0h0m7 0h0m-56 2h0m33 0h0m-31 1h0m1 1h0m10 0h0m-50 1h0m57 0h0m13 0h0m-21 1h0m-52 1h0m69 0h0m1 0h0m-11 2h0m3 0h0m11 0h0m-21 1h0m8 0h0m11 0h0m6 0h0m-53 2h0m38 0h0m5 0h0m6 0h0m2 0h0m21 1h0m-22 1h0m-35 1h0m28 0h0m-4 1h0m2 0h0m8 0h0m-30 1h0m20 0h0m7 0h0m0 0h0m1 0h0m-3 1h0m2 0h0m10 0h0m-42 1h0m26 0h0m37 1h0m-31 1h0m9 0h0m-47 2h0m37 0h0m2 6h0m6 0h0m0 1h0m-5 1h0m15 13h0m-3 4h0m-2 2h0m-4 3h0m9 1h0m-9 7h0m2 3h0m1 7h0m-3 7h0m2 1h0m-2 1h0"/><path stroke="#0040ff" d="M122 287h0m-67 1h0m46 2h0m8 0h0m-34 1h0m3 0h0m1 0h0m25 0h0m1 0h0m-21 1h0m17 0h0m-26 1h0m3 0h0m1 0h0m29 0h0m2 1h0m1 0h0m-33 1h0m8 0h0m27 0h0m18 0h0m-56 1h0m1 0h0m1 1h0m55 0h0m3 0h0m-82 1h0m29 0h0m5 0h0m-15 1h0m9 0h0m10 0h0m37 0h0m-42 2h0m17 0h0m-36 1h0m7 0h0m5 0h0m1 0h0m4 0h0m4 0h0m4 1h0m1 0h0m34 0h0m1 0h0m8 0h0m-35 1h0m23 0h0m9 0h0m16 0h0m-53 1h0m32 0h0m1 0h0m12 0h0m-40 1h0m34 0h0m4 0h0m-77 1h0m16 0h0m14 0h0m4 0h0m7 0h0m32 0h0m-50 1h0m30 0h0m16 0h0m3 0h0m11 0h0m-58 1h0m7 0h0m2 0h0m8 0h0m2 0h0m5 0h0m35 0h0m-66 1h0m3 0h0m37 0h0m22 0h0m-85 1h0m19 0h0m16 0h0m14 0h0m12 0h0m5 0h0m13 0h0m2 0h0m-62 1h0m13 0h0m19 0h0m11 0h0m32 0h0m-50 1h0m2 0h0m15 0h0m4 0h0m20 0h0m13 0h0m-46 1h0m5 0h0m1 0h0m11 0h0m19 0h0m4 0h0m5 0h0m-78 1h0m24 0h0m54 0h0m5 0h0m-66 1h0m7 0h0m16 0h0m6 0h0m9 0h0m2 0h0m13 0h0m4 0h0m5 0h0m8 0h0m5 0h0m-65 1h0m12 0h0m6 0h0m11 0h0m4 0h0m17 0h0m4 0h0m7 0h0m-68 1h0m22 0h0m8 0h0m9 0h0m1 0h0m3 0h0m15 0h0m1 0h0m9 0h0m-108 1h0m21 0h0m18 0h0m6 0h0m3 0h0m2 0h0m23 0h0m3 0h0m1 0h0m20 0h0m15 0h0m-75 1h0m12 0h0m9 0h0m13 0h0m1 0h0m1 0h0m1 0h0m2 0h0m5 0h0m0 0h0m2 0h0m30 0h0m6 0h0m-73 1h0m42 0h0m20 0h0m4 0h0m-51 1h0m4 0h0m4 0h0m5 0h0m12 0h0m3 0h0m18 0h0m1 0h0m4 0h0m-52 1h0m7 0h0m0 0h0m16 0h0m5 0h0m2 0h0m13 0h0m8 0h0m9 0h0m-58 1h0m9 0h0m5 0h0m6 0h0m4 0h0m1 0h0m28 0h0m-58 1h0m8 0h0m1 0h0m4 0h0m2 0h0m8 0h0m4 0h0m-13 1h0m45 0h0m-58 1h0m1 0h0m23 0h0m4 0h0m0 0h0m1 0h0m1 0h0m11 0h0m-41 1h0m5 0h0m1 0h0m7 0h0m-15 1h0m2 0h0m11 0h0m11 0h0m8 0h0m3 0h0m12 0h0m2 0h0m-50 1h0m7 0h0m6 0h0m3 0h0m7 0h0m2 0h0m2 0h0m4 0h0m18 0h0m3 0h0m1 0h0m-38 1h0m20 0h0m6 0h0m2 0h0m22 0h0m-52 1h0m10 0h0m1 0h0m6 0h0m10 0h0m-34 1h0m10 0h0m9 0h0m3 0h0m2 0h0m29 0h0m2 0h0m8 0h0m-65 1h0m1 0h0m13 0h0m9 0h0m4 0h0m13 0h0m4 0h0m7 0h0m7 0h0m-59 1h0m5 0h0m6 0h0m5 0h0m15 0h0m2 0h0m8 0h0m1 0h0m3 0h0m5 0h0m7 0h0m2 0h0m8 0h0m-63 1h0m18 0h0m6 0h0m4 0h0m21 0h0m5 0h0m3 0h0m-58 1h0m7 0h0m13 0h0m6 0h0m57 0h0m-79 1h0m2 0h0m4 0h0m0 0h0m22 0h0m2 0h0m3 0h0m7 0h0m4 0h0m7 0h0m6 0h0m-60 1h0m8 0h0m24 0h0m1 0h0m3 0h0m4 0h0m6 0h0m1 0h0m12 0h0m15 0h0m-72 1h0m4 0h0m6 0h0m24 0h0m9 0h0m13 0h0m2 0h0m-65 1h0m12 0h0m7 0h0m0 0h0m1 0h0m3 0h0m1 0h0m9 0h0m11 0h0m14 0h0m3 0h0m2 0h0m13 0h0m-45 1h0m3 0h0m1 0h0m36 0h0m-47 1h0m13 0h0m8 0h0m3 0h0m3 0h0m1 0h0m11 0h0m1 0h0m-49 1h0m21 0h0m1 0h0m3 0h0m22 0h0m16 0h0m13 0h0m-79 1h0m11 0h0m1 0h0m1 0h0m16 0h0m32 0h0m11 0h0m-73 1h0m18 0h0m2 0h0m5 0h0m3 0h0m15 0h0m3 0h0m10 0h0m15 0h0m-82 1h0m15 0h0m1 0h0m9 0h0m5 0h0m2 0h0m11 0h0m10 0h0m21 0h0m6 0h0m-75 1h0m4 0h0m11 0h0m17 0h0m2 0h0m29 0h0m8 0h0m9 0h0m-48 1h0m8 0h0m8 0h0m4 0h0m7 0h0m2 0h0m24 0h0m-82 1h0m11 0h0m15 0h0m1 0h0m17 0h0m4 0h0m9 0h0m1 0h0m17 0h0m6 0h0m-74 1h0m11 0h0m12 0h0m5 0h0m9 0h0m1 0h0m4 0h0m4 0h0m19 0h0m11 0h0m1 0h0m-96 1h0m20 0h0m3 0h0m14 0h0m7 0h0m12 0h0m7 0h0m28 0h0m-72 1h0m3 0h0m9 0h0m4 0h0m1 0h0m21 0h0m4 0h0m1 0h0m11 0h0m8 0h0m6 0h0m-76 1h0m13 0h0m4 0h0m12 0h0m3 0h0m3 0h0m12 0h0m6 0h0m6 0h0m14 0h0m9 0h0m4 0h0m-73 1h0m11 0h0m13 0h0m5 0h0m13 0h0m15 0h0m11 0h0m6 0h0m2 0h0m-99 1h0m26 0h0m12 0h0m6 0h0m3 0h0m1 0h0m19 0h0m31 0h0m2 0h0m3 0h0m-75 1h0m9 0h0m4 0h0m15 0h0m3 0h0m27 0h0m19 0h0m1 0h0m-111 1h0m45 0h0m14 0h0m11 0h0m30 0h0m-68 1h0m26 0h0m4 0h0m0 0h0m4 0h0m14 0h0m7 0h0m2 0h0m1 0h0m-45 1h0m2 0h0m0 0h0m2 0h0m28 0h0m10 0h0m15 0h0m7 0h0m-111 1h0m50 0h0m8 0h0m10 0h0m25 0h0m6 0h0m1 0h0m6 0h0m-105 1h0m7 0h0m47 0h0m9 0h0m14 0h0m14 0h0m32 0h0m-82 1h0m31 0h0m12 0h0m2 0h0m16 0h0m1 0h0m4 0h0m4 0h0m2 0h0m-66 1h0m0 0h0m22 0h0m10 0h0m18 0h0m7 0h0m-53 1h0m23 0h0m3 0h0m9 0h0m2 0h0m4 0h0m7 0h0m5 0h0m1 0h0m1 0h0m9 0h0m-80 1h0m18 0h0m8 0h0m6 0h0m8 0h0m27 0h0m1 0h0m6 0h0m14 0h0m-64 1h0m1 0h0m4 0h0m13 0h0m27 0h0m9 0h0m-114 1h0m62 0h0m10 0h0m5 0h0m46 0h0m-63 1h0m8 0h0m11 0h0m3 0h0m8 0h0m22 0h0m-76 1h0m9 0h0m17 0h0m2 0h0m5 0h0m1 0h0m17 0h0m5 0h0m9 0h0m12 0h0m-73 1h0m32 0h0m3 0h0m5 0h0m3 0h0m7 0h0m9 0h0m13 0h0m10 0h0m15 0h0m-130 1h0m34 0h0m7 0h0m23 0h0m32 0h0m2 0h0m3 0h0m1 0h0m5 0h0m5 0h0m1 0h0m-117 1h0m13 0h0m62 0h0m6 0h0m1 0h0m7 0h0m2 0h0m11 0h0m13 0h0m-37 1h0m9 0h0m14 0h0m-104 1h0m1 0h0m50 0h0m46 0h0m7 0h0m12 0h0m-34 1h0m13 0h0m8 0h0m10 0h0m7 0h0m-92 1h0m4 0h0m50 0h0m6 0h0m15 0h0m1 0h0m7 0h0m1 0h0m-54 1h0m21 0h0m12 0h0m24 0h0m-99 1h0m36 0h0m33 0h0m12 1h0m8 0h0m7 0h0m-70 1h0m9 0h0m4 0h0m38 0h0m1 0h0m13 0h0m1 0h0m8 0h0m7 0h0m-67 1h0m44 0h0m8 0h0m7 0h0m22 0h0m-93 1h0m3 0h0m26 0h0m28 0h0m3 0h0m2 0h0m6 0h0m-91 1h0m19 0h0m5 0h0m6 0h0m19 0h0m30 0h0m17 0h0m-64 1h0m17 0h0m36 0h0m9 0h0m0 0h0m-59 1h0m57 0h0m4 0h0m7 0h0m-38 1h0m28 0h0m9 0h0m-80 1h0m13 0h0m12 0h0m3 0h0m-25 1h0m40 0h0m14 0h0m15 0h0m-28 1h0m15 0h0m3 2h0m3 0h0m-41 1h0m45 0h0m-34 1h0m9 0h0m21 0h0m-27 1h0m41 0h0m-63 1h0m21 0h0m6 0h0m21 0h0m4 1h0m31 0h0m-64 1h0m47 0h0m-73 1h0m28 0h0m39 0h0m7 1h0m-6 1h0m1 0h0m-2 2h0m15 0h0m5 0h0m-3 1h0m-5 2h0m-16 2h0m2 0h0m15 1h0m-9 3h0m1 4h0m8 9h0m-10 1h0m-2 1h0m10 0h0m-12 10h0m9 0h0m-10 1h0m1 5h0m4 1h0m-4 1h0m4 6h0"/><path stroke="#0059ff" d="M72 288h0m-6 1h0m6 0h0m-15 1h0m0 1h0m28 2h0m-6 1h0m-25 3h0m3 0h0m17 0h0m-1 1h0m63 2h0m-79 1h0m17 0h0m2 0h0m55 0h0m-67 1h0m12 1h0m0 1h0m1 0h0m1 1h0m60 0h0m-64 1h0m58 0h0m-59 1h0m2 0h0m2 0h0m61 0h0m9 0h0m-71 1h0m27 0h0m-29 1h0m2 0h0m16 0h0m42 0h0m-81 1h0m51 0h0m-29 1h0m12 0h0m56 0h0m5 0h0m10 0h0m-79 1h0m3 0h0m3 0h0m0 0h0m2 0h0m6 0h0m56 0h0m-69 1h0m0 0h0m7 0h0m10 0h0m26 0h0m20 0h0m20 0h0m-75 1h0m6 0h0m8 0h0m22 0h0m6 0h0m17 0h0m4 0h0m-91 1h0m1 0h0m22 0h0m3 0h0m1 0h0m8 0h0m7 0h0m3 0h0m3 1h0m26 0h0m-58 1h0m8 0h0m2 0h0m2 0h0m1 0h0m9 0h0m1 0h0m3 0h0m2 0h0m5 0h0m10 0h0m2 0h0m-24 1h0m1 0h0m11 0h0m13 0h0m4 0h0m-46 1h0m12 0h0m6 0h0m1 0h0m1 0h0m7 0h0m4 0h0m19 0h0m-47 1h0m13 0h0m19 0h0m11 0h0m2 0h0m13 0h0m13 0h0m9 0h0m-81 1h0m4 0h0m10 0h0m4 0h0m6 0h0m14 0h0m6 0h0m5 0h0m1 0h0m-44 1h0m3 0h0m2 0h0m42 0h0m-43 1h0m26 0h0m48 0h0m4 0h0m-76 1h0m12 0h0m1 0h0m23 0h0m5 0h0m11 0h0m1 0h0m-44 1h0m13 0h0m55 0h0m-82 1h0m15 0h0m6 0h0m16 0h0m9 0h0m2 0h0m7 0h0m5 0h0m7 0h0m-48 1h0m16 0h0m2 0h0m3 0h0m4 0h0m19 0h0m4 0h0m-43 1h0m11 0h0m24 0h0m7 0h0m-29 1h0m9 0h0m12 0h0m2 0h0m4 0h0m-48 1h0m3 0h0m12 0h0m4 0h0m6 0h0m2 0h0m1 0h0m13 0h0m-52 1h0m16 0h0m11 0h0m4 0h0m1 0h0m12 0h0m3 0h0m9 0h0m15 0h0m-60 1h0m1 0h0m10 0h0m26 0h0m3 0h0m4 0h0m5 0h0m5 0h0m1 0h0m2 0h0m-93 1h0m42 0h0m5 0h0m8 0h0m2 0h0m3 0h0m16 0h0m12 0h0m3 0h0m11 0h0m-54 1h0m20 0h0m6 0h0m14 0h0m10 0h0m1 0h0m3 0h0m-53 1h0m4 0h0m1 0h0m3 0h0m7 0h0m25 0h0m6 0h0m-50 1h0m8 0h0m7 0h0m6 0h0m12 0h0m2 0h0m12 0h0m-41 1h0m13 0h0m10 0h0m-36 1h0m13 0h0m19 0h0m14 0h0m3 0h0m7 0h0m5 0h0m11 0h0m1 0h0m-23 1h0m4 0h0m5 0h0m4 0h0m4 0h0m1 0h0m-49 1h0m25 0h0m10 0h0m12 0h0m8 0h0m11 0h0m-80 1h0m3 0h0m2 0h0m0 0h0m6 0h0m3 0h0m12 0h0m6 0h0m2 0h0m4 0h0m4 0h0m14 0h0m4 0h0m1 0h0m7 0h0m-65 1h0m10 0h0m2 0h0m1 0h0m1 0h0m10 0h0m17 0h0m1 0h0m6 0h0m2 0h0m16 0h0m-62 1h0m29 0h0m9 0h0m3 0h0m6 0h0m2 0h0m-58 1h0m7 0h0m6 0h0m3 0h0m32 0h0m17 0h0m-7 1h0m4 0h0m7 0h0m2 0h0m9 0h0m-69 1h0m11 0h0m2 0h0m20 0h0m16 0h0m11 0h0m1 0h0m7 0h0m-79 1h0m7 0h0m13 0h0m21 0h0m4 0h0m4 0h0m0 0h0m1 0h0m5 0h0m4 0h0m6 0h0m2 0h0m-65 1h0m2 0h0m32 0h0m16 0h0m10 0h0m1 0h0m14 0h0m-49 1h0m11 0h0m3 0h0m14 0h0m9 0h0m6 0h0m6 0h0m3 0h0m-79 1h0m3 0h0m10 0h0m11 0h0m32 0h0m1 0h0m6 0h0m4 0h0m7 0h0m15 0h0m-86 1h0m29 0h0m18 0h0m7 0h0m9 0h0m2 0h0m12 0h0m-49 1h0m22 0h0m0 0h0m3 0h0m2 0h0m6 0h0m8 0h0m2 0h0m9 0h0m3 0h0m19 0h0m-88 1h0m7 0h0m4 0h0m2 0h0m15 0h0m4 0h0m41 0h0m-70 1h0m3 0h0m8 0h0m1 0h0m1 0h0m18 0h0m32 0h0m13 0h0m5 0h0m-80 1h0m27 0h0m8 0h0m7 0h0m0 0h0m8 0h0m5 0h0m8 0h0m3 0h0m28 0h0m-90 1h0m1 0h0m6 0h0m2 0h0m7 0h0m24 0h0m2 0h0m1 0h0m4 0h0m9 0h0m-54 1h0m2 0h0m3 0h0m18 0h0m8 0h0m6 0h0m4 0h0m2 0h0m10 0h0m4 0h0m6 0h0m8 0h0m-57 1h0m4 0h0m9 0h0m3 0h0m20 0h0m10 0h0m27 0h0m-84 1h0m2 0h0m12 0h0m7 0h0m4 0h0m14 0h0m11 0h0m0 0h0m9 0h0m8 0h0m-68 1h0m23 0h0m2 0h0m2 0h0m3 0h0m8 0h0m16 0h0m8 0h0m-55 1h0m7 0h0m14 0h0m8 0h0m0 0h0m3 0h0m19 0h0m-46 1h0m5 0h0m4 0h0m8 0h0m20 0h0m8 0h0m8 0h0m-43 1h0m2 0h0m11 0h0m22 0h0m19 0h0m-51 1h0m6 0h0m19 0h0m4 0h0m24 0h0m5 0h0m-69 1h0m4 0h0m10 0h0m17 0h0m6 0h0m4 0h0m-73 1h0m46 0h0m39 0h0m3 0h0m1 0h0m-95 1h0m1 0h0m24 0h0m14 0h0m15 0h0m15 0h0m14 0h0m0 0h0m9 0h0m6 0h0m1 0h0m-77 1h0m2 0h0m24 0h0m17 0h0m3 0h0m1 0h0m15 0h0m2 0h0m29 0h0m-97 1h0m26 0h0m11 0h0m8 0h0m4 0h0m23 0h0m-80 1h0m44 0h0m4 0h0m3 0h0m5 0h0m6 0h0m13 0h0m14 0h0m2 0h0m2 0h0m-110 1h0m17 0h0m47 0h0m8 0h0m26 0h0m1 0h0m-103 1h0m71 0h0m3 0h0m2 0h0m6 0h0m7 0h0m13 0h0m6 0h0m-73 1h0m3 0h0m0 0h0m6 0h0m5 0h0m21 0h0m1 0h0m23 0h0m22 0h0m-48 1h0m9 0h0m5 0h0m1 0h0m6 0h0m1 0h0m2 0h0m13 0h0m5 0h0m-113 1h0m72 0h0m9 0h0m15 0h0m1 0h0m11 0h0m-104 1h0m25 0h0m5 0h0m2 0h0m4 0h0m6 0h0m10 0h0m26 0h0m3 0h0m2 0h0m3 0h0m7 0h0m13 0h0m1 0h0m-98 1h0m4 0h0m32 0h0m4 0h0m1 0h0m1 0h0m23 0h0m15 0h0m-60 1h0m18 0h0m36 0h0m4 0h0m2 0h0m6 0h0m13 0h0m7 0h0m0 0h0m-70 1h0m39 0h0m1 0h0m4 0h0m9 0h0m3 0h0m0 0h0m-109 1h0m33 0h0m1 0h0m1 0h0m5 0h0m9 0h0m4 0h0m6 0h0m13 0h0m-39 1h0m25 0h0m5 0h0m3 0h0m6 0h0m34 0h0m9 0h0m-107 1h0m43 0h0m2 0h0m8 0h0m10 0h0m27 0h0m6 0h0m3 0h0m11 0h0m3 0h0m-75 1h0m19 0h0m35 0h0m10 0h0m5 0h0m-98 1h0m31 0h0m6 0h0m6 0h0m11 0h0m8 0h0m25 0h0m0 0h0m8 0h0m-58 1h0m3 0h0m5 0h0m19 0h0m33 0h0m3 0h0m-65 1h0m5 0h0m14 0h0m14 0h0m29 0h0m-94 1h0m46 0h0m4 0h0m42 0h0m1 0h0m-77 1h0m23 0h0m27 0h0m3 0h0m27 0h0m-86 1h0m19 0h0m5 0h0m27 0h0m38 0h0m-98 1h0m31 0h0m21 0h0m23 0h0m1 0h0m14 0h0m-54 1h0m15 0h0m4 0h0m5 0h0m2 0h0m4 0h0m-36 1h0m1 0h0m14 0h0m14 0h0m10 0h0m-62 1h0m30 0h0m30 0h0m-38 1h0m3 0h0m23 0h0m9 0h0m1 0h0m1 0h0m2 0h0m-6 1h0m6 0h0m7 0h0m1 0h0m20 0h0m19 0h0m-86 1h0m19 0h0m18 0h0m-46 1h0m18 0h0m23 0h0m-19 1h0m16 0h0m8 0h0m1 0h0m36 0h0m1 1h0m-32 1h0m1 0h0m6 0h0m-45 1h0m3 0h0m17 0h0m19 1h0m9 0h0m-52 2h0m57 0h0m-44 1h0m78 3h0m-32 7h0m24 3h0m-6 3h0m6 2h0m-9 7h0m3 4h0m1 0h0m-5 16h0"/><path stroke="#0073ff" d="M56 293h0m7 7h0m-7 4h0m7 2h0m13 2h0m5 1h0m-2 2h0m11 0h0m-12 1h0m3 0h0m-17 1h0m12 0h0m7 0h0m-18 2h0m14 0h0m8 0h0m3 0h0m32 0h0m-52 1h0m17 0h0m1 0h0m36 0h0m36 0h0m-95 1h0m12 0h0m1 0h0m5 0h0m10 0h0m2 0h0m-13 1h0m1 0h0m7 0h0m7 1h0m13 0h0m-44 1h0m4 0h0m18 0h0m1 0h0m3 0h0m31 0h0m-35 1h0m-8 2h0m11 0h0m4 0h0m10 0h0m3 0h0m1 0h0m27 0h0m4 0h0m-49 1h0m2 0h0m4 0h0m6 0h0m-17 1h0m1 0h0m10 0h0m12 0h0m15 0h0m-40 1h0m10 0h0m2 0h0m53 0h0m-57 1h0m45 0h0m21 0h0m-71 1h0m14 0h0m12 0h0m-21 1h0m6 0h0m43 0h0m-25 1h0m-9 1h0m-9 1h0m50 0h0m-46 1h0m1 0h0m10 0h0m35 0h0m-34 1h0m1 1h0m1 0h0m1 0h0m45 0h0m4 0h0m-60 1h0m1 0h0m21 0h0m28 0h0m-48 1h0m32 0h0m8 0h0m-46 1h0m11 0h0m11 0h0m40 0h0m-66 1h0m17 0h0m4 0h0m10 0h0m-17 1h0m43 0h0m27 0h0m-18 1h0m18 0h0m-36 1h0m9 0h0m3 0h0m11 0h0m-48 1h0m-11 1h0m12 0h0m15 0h0m11 0h0m13 0h0m4 0h0m20 0h0m-52 1h0m6 0h0m5 0h0m0 0h0m21 0h0m-35 1h0m38 0h0m10 0h0m-64 1h0m71 0h0m9 0h0m6 0h0m-81 1h0m24 0h0m50 0h0m-33 1h0m-20 1h0m25 0h0m10 0h0m-40 1h0m18 0h0m35 0h0m1 0h0m-95 1h0m38 0h0m8 0h0m17 0h0m37 0h0m10 0h0m-39 1h0m18 0h0m9 0h0m-53 1h0m60 0h0m9 0h0m-92 1h0m3 0h0m7 0h0m76 0h0m2 0h0m-100 1h0m13 0h0m17 0h0m21 0h0m7 0h0m24 0h0m3 0h0m8 0h0m5 0h0m-84 1h0m26 0h0m6 0h0m2 0h0m-1 1h0m22 0h0m15 0h0m-73 1h0m39 0h0m21 0h0m6 0h0m-83 1h0m22 0h0m29 0h0m38 0h0m10 0h0m-80 1h0m1 0h0m44 0h0m23 0h0m5 0h0m9 0h0m-45 1h0m18 0h0m-76 1h0m8 0h0m43 0h0m16 1h0m29 1h0m-65 1h0m7 0h0m3 0h0m1 0h0m39 0h0m12 0h0m7 0h0m-75 2h0m5 0h0m5 0h0m4 0h0m41 0h0m15 0h0m-86 1h0m2 0h0m24 0h0m7 0h0m4 0h0m-49 1h0m2 0h0m28 0h0m0 0h0m5 1h0m4 0h0m9 0h0m49 0h0m-74 1h0m1 0h0m12 0h0m11 0h0m32 0h0m-71 1h0m31 0h0m7 0h0m3 0h0m42 0h0m-68 1h0m1 0h0m0 0h0m14 0h0m1 0h0m1 0h0m17 0h0m22 0h0m-59 1h0m10 0h0m63 0h0m-76 1h0m25 0h0m18 0h0m64 0h0m-87 1h0m3 0h0m25 0h0m-34 1h0m5 0h0m23 0h0m38 0h0m-95 1h0m14 0h0m5 0h0m2 0h0m4 0h0m7 0h0m1 0h0m4 0h0m21 0h0m6 0h0m33 0h0m31 0h0m-110 1h0m4 0h0m1 0h0m4 0h0m22 0h0m1 0h0m4 0h0m13 0h0m35 0h0m-81 1h0m6 0h0m1 0h0m1 0h0m5 0h0m2 0h0m11 0h0m5 0h0m1 0h0m7 0h0m2 0h0m10 0h0m-53 1h0m4 0h0m7 0h0m30 0h0m1 0h0m8 0h0m2 0h0m2 0h0m1 0h0m2 0h0m-35 1h0m5 0h0m4 0h0m5 0h0m2 0h0m14 0h0m8 0h0m3 0h0m-93 1h0m31 0h0m25 0h0m7 0h0m16 0h0m1 0h0m0 0h0m6 0h0m-43 1h0m2 0h0m7 0h0m17 0h0m10 0h0m6 0h0m-60 1h0m3 0h0m7 0h0m12 0h0m7 0h0m23 0h0m10 0h0m-54 1h0m10 0h0m18 0h0m1 0h0m14 0h0m5 0h0m9 0h0m11 0h0m-58 1h0m10 0h0m1 0h0m24 0h0m1 0h0m9 0h0m-54 1h0m13 0h0m2 0h0m4 0h0m4 0h0m18 0h0m7 0h0m8 0h0m1 0h0m11 0h0m2 0h0m2 0h0m-94 1h0m39 0h0m4 0h0m12 0h0m8 0h0m3 0h0m5 0h0m11 0h0m13 0h0m-76 1h0m5 0h0m7 0h0m13 0h0m3 0h0m15 0h0m9 0h0m-71 1h0m52 0h0m30 0h0m12 0h0m1 0h0m-64 1h0m8 0h0m60 0h0m0 0h0m-74 1h0m3 0h0m21 0h0m2 0h0m7 0h0m2 0h0m1 0h0m0 0h0m12 0h0m3 0h0m1 0h0m12 0h0m8 0h0m6 0h0m10 0h0m-66 1h0m19 0h0m7 0h0m2 0h0m1 0h0m26 0h0m-95 1h0m40 0h0m9 0h0m1 0h0m4 0h0m34 0h0m8 0h0m-71 1h0m35 0h0m11 0h0m3 0h0m4 0h0m18 0h0m3 0h0m-65 1h0m15 0h0m13 0h0m19 0h0m11 0h0m3 0h0m-100 1h0m59 0h0m38 0h0m5 0h0m-53 1h0m10 0h0m1 0h0m1 0h0m10 0h0m5 0h0m7 0h0m4 0h0m-35 1h0m12 0h0m5 0h0m15 0h0m18 0h0m-46 1h0m9 0h0m19 0h0m7 0h0m5 0h0m-42 1h0m17 0h0m-18 1h0m36 0h0m7 0h0m7 0h0m-48 1h0m5 1h0m12 0h0m0 0h0m15 0h0m11 0h0m0 0h0m9 0h0m-5 1h0m-39 1h0m30 0h0m-26 1h0m22 0h0m-24 1h0m3 0h0m4 0h0m7 0h0m2 0h0m-8 1h0m20 0h0m-41 1h0m27 0h0m19 0h0m1 0h0m-56 1h0m32 0h0m11 0h0m-48 2h0m9 2h0m86 1h0m-20 2h0m2 1h0m-5 3h0m-1 1h0m2 0h0m6 2h0m-2 1h0m2 0h0m-32 3h0m29 1h0m12 2h0m-21 8h0m0 1h0m3 0h0m1 1h0m8 0h0m4 2h0m-5 8h0"/><path stroke="#008cff" d="M58 306h0m17 3h0m-8 6h0m13 1h0m-4 1h0m3 0h0m3 0h0m3 1h0m9 0h0m-16 1h0m9 0h0m6 0h0m-15 1h0m1 1h0m2 1h0m9 0h0m-21 1h0m27 0h0m-43 1h0m13 0h0m17 0h0m6 0h0m3 0h0m-21 1h0m11 0h0m16 0h0m6 0h0m-18 1h0m1 0h0m12 0h0m-38 1h0m20 1h0m11 0h0m4 0h0m13 0h0m-42 1h0m26 0h0m17 0h0m-12 1h0m-16 1h0m15 0h0m0 0h0m12 0h0m-31 1h0m6 0h0m6 0h0m18 0h0m2 0h0m-45 1h0m22 0h0m6 1h0m-7 1h0m2 0h0m12 0h0m3 0h0m4 0h0m-45 1h0m32 0h0m-3 1h0m4 0h0m5 0h0m2 0h0m-7 1h0m1 1h0m-3 1h0m3 0h0m8 0h0m31 0h0m12 4h0m-38 4h0m4 0h0m-22 1h0m15 0h0m-11 1h0m2 0h0m6 0h0m19 0h0m-28 1h0m22 0h0m-23 1h0m50 1h0m-49 1h0m9 0h0m86 0h0m-114 1h0m4 1h0m22 0h0m2 0h0m-24 4h0m22 0h0m-5 1h0m20 0h0m-57 1h0m41 0h0m6 0h0m2 0h0m8 0h0m-22 1h0m8 1h0m24 0h0m-29 1h0m1 0h0m1 0h0m6 0h0m7 0h0m8 0h0m-5 1h0m10 0h0m-25 1h0m21 0h0m7 0h0m1 0h0m2 0h0m2 0h0m3 0h0m-45 1h0m74 0h0m-30 1h0m-38 1h0m11 0h0m-23 1h0m9 0h0m1 0h0m1 0h0m38 0h0m-21 1h0m19 0h0m3 0h0m1 0h0m13 0h0m-34 1h0m29 0h0m-49 1h0m10 0h0m5 0h0m14 0h0m4 0h0m-29 1h0m20 0h0m12 0h0m-30 1h0m8 0h0m2 0h0m2 0h0m30 0h0m-46 1h0m20 0h0m20 0h0m1 0h0m5 0h0m-45 1h0m5 0h0m23 0h0m3 0h0m-35 1h0m18 0h0m34 0h0m-16 1h0m4 0h0m34 0h0m-68 1h0m15 0h0m19 0h0m12 0h0m-44 1h0m7 0h0m54 0h0m-65 1h0m10 0h0m28 0h0m40 0h0m-74 1h0m2 0h0m3 0h0m1 0h0m3 0h0m9 0h0m3 0h0m9 0h0m-25 1h0m1 0h0m5 0h0m2 0h0m27 0h0m3 0h0m22 0h0m-57 1h0m1 0h0m3 0h0m3 0h0m18 0h0m27 0h0m2 0h0m14 0h0m-59 1h0m1 0h0m1 0h0m17 0h0m8 0h0m13 0h0m-38 1h0m9 0h0m13 0h0m14 0h0m9 0h0m-53 1h0m21 0h0m8 0h0m21 0h0m-42 1h0m3 0h0m1 0h0m4 0h0m2 0h0m12 0h0m48 0h0m-107 1h0m32 0h0m7 0h0m2 0h0m1 0h0m2 0h0m11 0h0m5 0h0m17 0h0m5 0h0m-44 1h0m29 0h0m2 0h0m-66 1h0m5 0h0m54 0h0m22 0h0m4 0h0m4 0h0m10 0h0m8 0h0m4 0h0m-106 1h0m33 0h0m11 0h0m8 0h0m19 0h0m-38 1h0m7 0h0m9 0h0m3 0h0m4 0h0m10 0h0m1 0h0m15 0h0m-51 1h0m24 0h0m23 0h0m6 0h0m24 0h0m-93 1h0m40 0h0m2 0h0m20 0h0m1 0h0m17 0h0m15 0h0m1 0h0m-105 1h0m1 0h0m52 0h0m12 0h0m5 0h0m5 0h0m15 0h0m-53 1h0m3 0h0m1 0h0m5 0h0m1 0h0m12 0h0m13 0h0m6 0h0m4 0h0m22 0h0m-56 1h0m2 0h0m20 0h0m20 0h0m5 0h0m7 0h0m23 0h0m-84 1h0m15 0h0m2 0h0m18 0h0m9 0h0m3 0h0m0 0h0m15 0h0m-85 1h0m27 0h0m2 0h0m8 0h0m3 0h0m19 0h0m1 0h0m19 0h0m8 0h0m2 0h0m-82 1h0m37 0h0m20 0h0m1 0h0m8 0h0m1 0h0m10 0h0m0 0h0m-47 1h0m2 0h0m19 0h0m3 0h0m16 0h0m-43 1h0m11 0h0m4 0h0m24 0h0m17 0h0m2 0h0m-55 1h0m1 0h0m2 0h0m4 0h0m4 0h0m5 0h0m20 0h0m-27 1h0m3 0h0m4 0h0m3 0h0m9 0h0m2 0h0m21 0h0m-74 1h0m29 0h0m20 0h0m1 0h0m4 0h0m11 0h0m-35 1h0m2 0h0m13 0h0m3 0h0m1 0h0m15 0h0m-21 1h0m0 0h0m2 0h0m1 0h0m6 0h0m1 0h0m3 0h0m-50 1h0m51 0h0m10 0h0m1 0h0m7 0h0m7 0h0m-37 1h0m8 0h0m12 0h0m7 0h0m-73 1h0m16 0h0m30 0h0m6 0h0m7 0h0m4 0h0m2 0h0m5 0h0m6 0h0m2 0h0m-35 1h0m3 0h0m7 1h0m7 0h0m3 0h0m12 0h0m3 0h0m-3 1h0m-69 1h0m59 0h0m8 0h0m1 0h0m4 0h0m-68 1h0m23 0h0m20 0h0m11 0h0m-55 1h0m12 0h0m39 0h0m10 0h0m8 0h0m6 0h0m-23 1h0m0 0h0m16 2h0m5 0h0m-32 2h0m31 1h0m-31 1h0m4 0h0m21 0h0m4 0h0m3 0h0m1 0h0m2 0h0m-5 1h0m-46 2h0m19 0h0m33 3h0m-31 2h0m2 0h0m-3 1h0m8 0h0m3 1h0m-4 1h0m16 2h0m0 3h0m11 1h0m-14 3h0m16 2h0m-11 2h0m13 2h0m-5 2h0m2 0h0m0 4h0m2 0h0"/><path stroke="#00a6ff" d="M80 314h0m-2 2h0m12 3h0m2 0h0m0 3h0m-4 1h0m-6 3h0m1 0h0m10 0h0m9 0h0m-5 1h0m5 1h0m-9 1h0m1 1h0m2 0h0m-1 1h0m-8 1h0m18 0h0m0 2h0m-10 2h0m16 0h0m-30 1h0m9 0h0m1 0h0m12 0h0m-11 1h0m5 1h0m8 0h0m-14 7h0m89 1h0m-84 3h0m-41 1h0m44 1h0m-33 2h0m29 0h0m-34 1h0m34 0h0m2 0h0m-4 1h0m1 1h0m26 2h0m-47 1h0m28 0h0m-41 1h0m14 0h0m6 0h0m13 0h0m-38 1h0m3 0h0m-5 1h0m39 1h0m-6 1h0m50 0h0m-43 1h0m6 0h0m9 1h0m-44 1h0m66 0h0m5 0h0m-39 1h0m24 0h0m-60 1h0m18 0h0m21 0h0m1 0h0m37 0h0m-53 1h0m5 0h0m8 0h0m-4 2h0m3 0h0m3 0h0m1 0h0m-32 1h0m22 0h0m44 0h0m1 0h0m-68 1h0m34 0h0m26 0h0m1 0h0m10 0h0m-70 1h0m26 0h0m6 0h0m-25 1h0m13 0h0m7 0h0m11 0h0m-39 1h0m26 0h0m6 0h0m10 0h0m-1 1h0m-5 1h0m1 0h0m5 0h0m-39 1h0m31 0h0m-5 1h0m22 0h0m15 0h0m-24 2h0m26 0h0m-56 1h0m2 1h0m37 0h0m-28 1h0m-8 1h0m11 0h0m16 1h0m12 0h0m65 0h0m-98 1h0m23 0h0m21 0h0m-37 1h0m17 0h0m18 0h0m-14 1h0m-15 1h0m18 0h0m10 0h0m4 0h0m5 0h0m4 0h0m11 0h0m-60 1h0m27 0h0m3 0h0m1 0h0m11 0h0m11 0h0m-14 1h0m33 0h0m2 0h0m-34 1h0m17 0h0m-48 1h0m34 0h0m22 0h0m-28 1h0m26 0h0m13 0h0m30 0h0m-50 1h0m18 0h0m-65 1h0m1 0h0m13 0h0m20 0h0m-21 1h0m30 0h0m25 0h0m6 0h0m2 0h0m19 0h0m-92 1h0m14 0h0m30 0h0m6 0h0m5 0h0m5 0h0m5 0h0m3 0h0m5 0h0m-58 1h0m38 0h0m3 0h0m9 0h0m3 0h0m2 0h0m-69 1h0m15 0h0m10 0h0m29 0h0m11 0h0m1 0h0m16 0h0m7 0h0m-39 1h0m11 0h0m1 0h0m25 0h0m2 0h0m9 0h0m-49 1h0m18 0h0m18 0h0m7 0h0m0 0h0m11 0h0m-49 1h0m4 0h0m9 0h0m3 0h0m6 0h0m19 0h0m-74 1h0m50 0h0m4 0h0m7 0h0m8 0h0m4 0h0m4 0h0m-67 1h0m53 0h0m14 0h0m2 0h0m4 0h0m-83 1h0m47 0h0m7 0h0m1 0h0m6 0h0m3 0h0m1 0h0m15 0h0m-42 1h0m15 0h0m13 0h0m1 0h0m7 0h0m3 0h0m-76 1h0m45 0h0m6 0h0m33 0h0m-59 1h0m21 0h0m2 0h0m14 0h0m5 0h0m2 0h0m6 0h0m6 0h0m-55 1h0m49 0h0m4 0h0m-65 1h0m11 0h0m34 0h0m16 0h0m-69 1h0m1 0h0m10 0h0m30 0h0m6 0h0m9 0h0m1 0h0m2 0h0m4 0h0m10 0h0m3 0h0m2 0h0m-59 1h0m55 0h0m3 0h0m2 0h0m-58 1h0m31 0h0m6 0h0m7 0h0m10 0h0m-53 1h0m38 0h0m1 0h0m3 0h0m3 0h0m7 0h0m-61 1h0m10 0h0m6 0h0m31 0h0m3 0h0m10 0h0m3 0h0m0 0h0m2 0h0m0 0h0m-16 1h0m3 0h0m6 0h0m2 0h0m-39 1h0m2 0h0m25 0h0m-42 1h0m6 0h0m13 0h0m28 0h0m3 0h0m7 0h0m3 0h0m-10 1h0m2 0h0m4 0h0m-55 1h0m61 0h0m-8 1h0m-67 1h0m28 0h0m1 0h0m4 1h0m0 2h0m6 1h0m5 0h0m-2 1h0m5 0h0m5 0h0m7 0h0m3 0h0m-24 1h0m-35 2h0m64 2h0m-3 1h0m-31 2h0m23 0h0m15 1h0m7 0h0m-16 2h0m-9 1h0m24 0h0m-15 1h0m12 2h0m3 2h0m-4 1h0m3 1h0m1 4h0m2 1h0m2 1h0m-1 2h0"/><path stroke="#00bfff" d="M74 351h0m-13 2h0m41 2h0m-37 2h0m11 0h0m1 0h0m-1 1h0m-8 1h0m1 1h0m10 5h0m13 0h0m-23 2h0m-8 1h0m2 0h0m2 0h0m1 0h0m13 0h0m3 1h0m10 0h0m-26 1h0m-4 2h0m7 1h0m12 0h0m31 0h0m-48 2h0m4 2h0m39 0h0m-30 5h0m27 0h0m2 0h0m-23 7h0m39 1h0m35 0h0m-29 3h0m3 0h0m5 0h0m-39 1h0m-1 1h0m-3 1h0m48 1h0m-33 3h0m28 0h0m-36 1h0m69 0h0m-51 2h0m61 0h0m16 0h0m1 2h0m-28 1h0m24 0h0m-71 1h0m5 1h0m46 0h0m8 0h0m4 0h0m-52 1h0m32 1h0m38 0h0m-32 1h0m25 0h0m4 0h0m2 0h0m6 0h0m-87 1h0m7 0h0m-3 1h0m86 0h0m-80 2h0m65 0h0m17 0h0m-85 1h0m6 0h0m14 0h0m49 0h0m5 0h0m1 0h0m3 0h0m4 0h0m-14 1h0m15 0h0m-8 1h0m7 1h0m-11 1h0m-29 1h0m43 0h0m-11 1h0m5 1h0m-52 1h0m48 0h0m-47 1h0m51 0h0m7 0h0m-1 1h0m-1 1h0m-42 1h0m2 0h0m-4 1h0m-15 2h0m17 0h0m-28 1h0m12 0h0m39 2h0m10 1h0m-55 2h0m23 2h0m-2 3h0m33 4h0m8 0h0m10 12h0"/><path stroke="#00d9ff" d="M62 355h0m4 3h0m11 1h0m-2 2h0m6 3h0m-24 3h0m19 0h0m-6 7h0m5 6h0m5 1h0m11 7h0m6 12h0m91 6h0m-77 1h0m20 7h0m70 0h0m5 1h0m-81 1h0m3 0h0m70 2h0m-52 3h0m63 1h0m-4 2h0m-76 1h0m38 0h0m-11 1h0m10 0h0m1 0h0m-10 3h0m35 1h0m-52 2h0"/><path stroke="#00f2ff" d="M121 409h0"/></g>
<g transform="scale(0.5)" stroke-width="1.7" stroke-linecap="square" fill="none" opacity="1.0"><path stroke="#000dff" d="M113 643h0"/><path stroke="#0026ff" d="M106 636h0m-2 12h0"/><path stroke="#0040ff" d="M106 631h0m6 12h0m0 2h0m-5 8h0"/><path stroke="#0059ff" d="M111 632h0m-3 1h0m-1 10h0m3 1h0m0 2h0m1 3h0m-7 1h0m5 1h0m-4 1h0m113 11h0"/><path stroke="#0073ff" d="M202 616h0m3 11h0m-90 4h0m0 0h0m90 0h0m-98 1h0m-2 1h0m4 1h0m120 1h0m-121 3h0m64 0h0m19 0h0m11 2h0m-95 1h0m127 2h0m-27 1h0m6 0h0m15 0h0m-124 1h0m83 0h0m0 0h0m9 0h0m25 0h0m-12 1h0m-21 1h0m-82 2h0m109 0h0m4 0h0m2 0h0m-21 3h0m-96 1h0m86 0h0m13 3h0m-4 2h0m10 0h0m33 0h0m-47 1h0m24 1h0m1 1h0m15 0h0m-27 2h0m-2 1h0m4 1h0m3 1h0m20 0h0m1 21h0m-13 14h0"/><path stroke="#008cff" d="M169 609h0m18 0h0m9 3h0m-21 4h0m-9 1h0m16 0h0m22 0h0m-23 1h0m3 0h0m-13 1h0m9 2h0m0 2h0m26 1h0m-29 1h0m5 0h0m-70 1h0m66 0h0m1 0h0m11 0h0m2 0h0m7 1h0m4 0h0m-11 1h0m17 0h0m-7 1h0m-14 1h0m10 0h0m-17 1h0m10 0h0m-10 1h0m6 0h0m5 0h0m2 0h0m13 0h0m-95 1h0m51 0h0m24 0h0m24 0h0m-3 1h0m1 0h0m3 0h0m1 0h0m-12 1h0m-27 1h0m8 0h0m8 0h0m13 0h0m-97 1h0m84 0h0m21 0h0m-51 1h0m35 0h0m13 0h0m2 0h0m12 0h0m-10 1h0m1 0h0m-26 1h0m16 0h0m-10 1h0m5 0h0m15 0h0m-111 1h0m63 0h0m31 0h0m3 0h0m7 0h0m2 0h0m15 0h0m-118 1h0m92 0h0m9 0h0m-22 1h0m8 0h0m2 0h0m4 0h0m2 0h0m-3 1h0m1 0h0m14 0h0m-36 1h0m5 0h0m20 0h0m7 0h0m26 0h0m-54 1h0m22 0h0m1 0h0m5 0h0m12 0h0m1 0h0m18 0h0m-30 1h0m23 0h0m-52 1h0m23 0h0m2 0h0m1 0h0m8 0h0m-108 1h0m91 0h0m12 0h0m4 0h0m16 0h0m4 0h0m-40 1h0m11 0h0m11 0h0m1 0h0m-111 1h0m4 0h0m78 0h0m5 0h0m16 0h0m19 0h0m3 0h0m-27 1h0m16 0h0m10 0h0m-48 1h0m41 0h0m5 0h0m8 0h0m-33 1h0m6 0h0m3 0h0m24 0h0m1 0h0m-48 1h0m4 0h0m17 1h0m14 0h0m-26 1h0m1 0h0m13 0h0m-11 1h0m3 0h0m28 0h0m-21 1h0m0 0h0m4 0h0m-11 1h0m1 0h0m1 0h0m21 0h0m-50 1h0m40 0h0m4 1h0m5 0h0m14 0h0m-36 1h0m18 0h0m1 0h0m-13 1h0m3 0h0m2 0h0m22 0h0m-21 1h0m-6 1h0m1 0h0m1 0h0m6 1h0m15 0h0m-41 1h0m21 0h0m21 0h0m1 0h0m-25 2h0m3 0h0m20 0h0m-8 1h0m-13 1h0m22 0h0m-20 1h0m4 0h0m5 0h0m-31 1h0m28 0h0m-5 1h0m-15 1h0m27 0h0m-5 5h0m8 2h0m8 0h0m-10 1h0m11 2h0m-8 7h0m-6 10h0"/><path stroke="#00a6ff" d="M157 592h0m5 2h0m5 1h0m2 1h0m3 3h0m-11 1h0m11 0h0m4 0h0m-6 1h0m2 0h0m2 0h0m4 1h0m-6 2h0m13 0h0m7 4h0m-28 2h0m2 0h0m2 0h0m-6 3h0m7 0h0m2 1h0m3 0h0m1 0h0m27 1h0m-36 1h0m8 0h0m3 0h0m17 1h0m-18 1h0m6 0h0m-16 1h0m7 0h0m1 0h0m1 0h0m-7 1h0m8 0h0m-8 1h0m2 0h0m28 0h0m7 0h0m-34 1h0m7 0h0m-13 1h0m3 0h0m4 0h0m8 0h0m6 0h0m5 0h0m5 0h0m-35 1h0m8 0h0m2 0h0m19 0h0m1 0h0m3 0h0m1 0h0m22 0h0m-60 1h0m13 0h0m15 0h0m-25 1h0m6 0h0m2 0h0m3 0h0m5 0h0m7 0h0m20 0h0m15 0h0m-27 1h0m-13 1h0m2 0h0m14 0h0m14 0h0m-96 1h0m65 0h0m13 0h0m-21 1h0m25 0h0m-6 1h0m1 0h0m1 0h0m9 0h0m9 0h0m-47 1h0m3 0h0m26 0h0m6 0h0m2 0h0m2 0h0m-41 1h0m24 0h0m1 0h0m5 0h0m2 0h0m1 0h0m1 0h0m4 0h0m4 0h0m2 0h0m1 0h0m-41 1h0m10 0h0m19 0h0m0 0h0m3 0h0m-33 1h0m7 0h0m2 0h0m3 0h0m6 0h0m7 0h0m19 0h0m-50 1h0m8 0h0m15 0h0m7 0h0m3 0h0m18 0h0m1 0h0m-42 1h0m1 0h0m6 0h0m4 0h0m9 0h0m11 0h0m3 0h0m4 0h0m8 0h0m-40 1h0m15 0h0m3 0h0m2 0h0m6 0h0m1 0h0m3 0h0m2 0h0m5 0h0m4 0h0m3 0h0m-44 1h0m4 0h0m8 0h0m6 0h0m8 0h0m2 0h0m2 0h0m5 0h0m7 0h0m2 0h0m-29 1h0m4 0h0m9 0h0m6 0h0m2 0h0m16 0h0m-52 1h0m8 0h0m4 0h0m5 0h0m3 0h0m8 0h0m6 0h0m10 0h0m3 0h0m-64 1h0m5 0h0m3 0h0m6 0h0m0 0h0m1 0h0m27 0h0m10 0h0m9 0h0m-54 1h0m20 0h0m5 0h0m23 0h0m10 0h0m-62 1h0m12 0h0m15 0h0m4 0h0m4 0h0m0 0h0m16 0h0m6 0h0m0 0h0m3 0h0m2 0h0m-107 1h0m50 0h0m6 0h0m2 0h0m7 0h0m22 0h0m8 0h0m2 0h0m16 0h0m-55 1h0m3 0h0m11 0h0m3 0h0m1 1h0m24 0h0m3 0h0m-39 1h0m10 0h0m5 0h0m0 0h0m22 0h0m1 0h0m2 0h0m-103 1h0m59 0h0m11 0h0m3 0h0m4 0h0m7 0h0m1 0h0m9 0h0m8 0h0m4 0h0m-20 1h0m20 0h0m18 0h0m-54 1h0m7 0h0m5 0h0m10 0h0m4 0h0m7 0h0m-12 1h0m4 0h0m5 0h0m3 0h0m4 0h0m-26 1h0m3 0h0m10 0h0m17 0h0m-41 1h0m34 0h0m3 0h0m-75 1h0m56 0h0m5 0h0m13 0h0m-125 1h0m107 0h0m13 0h0m5 0h0m-23 1h0m1 0h0m6 0h0m13 0h0m9 0h0m14 0h0m-94 1h0m61 0h0m1 0h0m-4 1h0m4 0h0m-9 1h0m-57 1h0m57 0h0m7 0h0m5 0h0m1 0h0m8 0h0m-17 1h0m3 0h0m2 0h0m4 0h0m-13 1h0m2 0h0m8 0h0m9 0h0m-85 1h0m68 0h0m8 0h0m1 0h0m6 0h0m19 0h0m10 1h0m-90 1h0m57 0h0m4 0h0m-79 1h0m56 0h0m13 0h0m-14 1h0m16 0h0m7 0h0m0 0h0m-57 1h0m31 0h0m31 1h0m-8 1h0m1 0h0m1 0h0m2 0h0m-31 1h0m7 0h0m37 0h0m-5 1h0m-57 1h0m67 0h0m-54 1h0m9 1h0m32 0h0m21 0h0m-46 1h0m26 1h0m22 0h0m-43 1h0m1 0h0m-36 1h0m26 0h0m11 0h0m-29 1h0m7 0h0m11 1h0m3 0h0m1 0h0m29 0h0m1 1h0m-45 1h0m14 0h0m3 0h0m3 0h0m-32 1h0m54 0h0m-23 1h0m28 0h0m-3 1h0m-21 1h0m-10 1h0m38 4h0m4 2h0m-15 9h0m1 2h0m9 1h0m-6 2h0m-5 5h0m-25 1h0m27 3h0m0 8h0m0 8h0"/><path stroke="#00bfff" d="M165 594h0m2 3h0m-4 1h0m4 1h0m4 0h0m-9 2h0m-7 1h0m19 0h0m1 0h0m-7 1h0m6 1h0m-20 1h0m24 0h0m-20 1h0m-9 1h0m39 0h0m-6 1h0m6 0h0m5 0h0m-34 1h0m31 0h0m-32 1h0m8 0h0m2 0h0m3 0h0m6 0h0m-8 1h0m4 0h0m26 0h0m-38 1h0m12 0h0m-27 1h0m32 0h0m-16 1h0m15 0h0m-29 1h0m4 0h0m8 0h0m7 0h0m2 0h0m-26 1h0m20 0h0m4 0h0m11 0h0m-41 1h0m13 0h0m18 0h0m11 0h0m-22 1h0m1 0h0m2 0h0m12 0h0m1 0h0m5 0h0m-8 1h0m10 0h0m7 0h0m-56 1h0m26 0h0m3 0h0m3 0h0m2 0h0m4 0h0m6 0h0m1 0h0m1 0h0m9 0h0m17 0h0m-51 1h0m12 0h0m2 0h0m11 0h0m8 0h0m2 0h0m-35 1h0m7 0h0m7 0h0m20 0h0m3 0h0m2 0h0m9 0h0m13 0h0m-80 1h0m25 0h0m5 0h0m4 0h0m26 0h0m-39 1h0m8 0h0m3 0h0m17 0h0m2 0h0m-44 1h0m20 0h0m2 0h0m1 0h0m5 0h0m5 0h0m10 0h0m3 0h0m-24 1h0m1 0h0m12 0h0m2 0h0m-27 1h0m3 0h0m23 0h0m7 0h0m4 0h0m-33 1h0m4 0h0m1 0h0m2 0h0m14 0h0m6 0h0m1 0h0m14 0h0m-45 1h0m15 0h0m0 0h0m7 0h0m6 0h0m9 0h0m-28 1h0m0 0h0m25 0h0m16 0h0m-30 1h0m0 0h0m7 0h0m5 0h0m2 0h0m17 0h0m4 0h0m4 0h0m-66 1h0m19 0h0m12 0h0m29 0h0m-71 1h0m15 0h0m2 0h0m7 0h0m4 0h0m4 0h0m6 0h0m5 0h0m12 0h0m29 0h0m-45 1h0m2 0h0m3 0h0m14 0h0m9 0h0m1 0h0m11 0h0m-59 1h0m6 0h0m2 0h0m16 0h0m2 0h0m14 0h0m-52 1h0m9 0h0m7 0h0m5 0h0m35 0h0m-55 1h0m18 0h0m1 0h0m19 0h0m2 0h0m8 0h0m5 0h0m-71 1h0m21 0h0m18 0h0m10 0h0m18 0h0m12 0h0m4 0h0m-48 1h0m17 0h0m7 0h0m18 0h0m4 0h0m-57 1h0m7 0h0m2 0h0m13 0h0m16 0h0m-67 1h0m7 0h0m7 0h0m31 0h0m9 0h0m1 0h0m7 0h0m33 0h0m-51 1h0m12 0h0m2 0h0m38 0h0m1 0h0m-61 1h0m10 0h0m3 0h0m0 0h0m8 0h0m7 0h0m-84 1h0m73 0h0m3 0h0m3 0h0m2 0h0m1 0h0m4 0h0m18 0h0m-96 1h0m12 0h0m38 0h0m4 0h0m5 0h0m52 0h0m-59 1h0m13 0h0m1 0h0m1 0h0m3 0h0m9 0h0m6 0h0m1 0h0m3 0h0m10 0h0m-89 1h0m44 0h0m8 0h0m7 0h0m2 0h0m13 0h0m27 0h0m-47 1h0m4 0h0m6 0h0m8 0h0m12 0h0m14 0h0m1 0h0m-119 1h0m25 0h0m4 0h0m48 0h0m9 0h0m22 0h0m-110 1h0m4 0h0m29 0h0m1 0h0m2 0h0m5 0h0m54 0h0m-88 1h0m79 0h0m-44 1h0m64 0h0m-91 1h0m26 0h0m45 0h0m15 0h0m-99 1h0m11 0h0m33 0h0m46 0h0m1 0h0m32 0h0m-113 1h0m25 0h0m26 0h0m34 0h0m4 0h0m10 0h0m-67 1h0m6 0h0m13 0h0m39 0h0m9 0h0m-76 1h0m19 0h0m14 0h0m27 0h0m2 0h0m18 0h0m2 0h0m2 0h0m24 0h0m-141 1h0m17 0h0m11 0h0m21 0h0m1 0h0m3 0h0m22 0h0m31 0h0m2 0h0m5 0h0m-54 1h0m36 0h0m0 0h0m20 0h0m2 0h0m1 0h0m4 0h0m-105 1h0m21 0h0m41 0h0m28 0h0m-88 1h0m19 0h0m34 0h0m29 0h0m9 0h0m-54 1h0m19 0h0m7 0h0m24 0h0m-66 1h0m19 0h0m13 0h0m-59 1h0m5 0h0m12 0h0m22 0h0m17 0h0m45 0h0m5 0h0m-96 1h0m8 0h0m33 0h0m9 0h0m15 0h0m17 0h0m-55 1h0m7 0h0m5 0h0m16 0h0m33 0h0m-82 1h0m8 0h0m38 0h0m6 0h0m7 0h0m20 0h0m9 0h0m4 0h0m-53 1h0m12 0h0m30 0h0m6 0h0m4 0h0m-87 1h0m3 0h0m0 0h0m27 0h0m52 0h0m-32 1h0m13 0h0m3 0h0m1 0h0m35 0h0m-55 1h0m32 0h0m34 0h0m-112 1h0m4 0h0m38 0h0m3 0h0m10 0h0m54 0h0m-99 1h0m38 0h0m8 0h0m1 0h0m7 0h0m5 0h0m-50 1h0m2 0h0m9 0h0m0 0h0m18 0h0m11 0h0m-36 1h0m34 0h0m5 0h0m2 0h0m3 0h0m5 0h0m-22 1h0m15 0h0m8 0h0m-63 1h0m50 0h0m1 0h0m-44 1h0m14 0h0m9 0h0m19 1h0m4 0h0m9 0h0m26 0h0m-84 1h0m56 0h0m-32 2h0m1 0h0m9 0h0m6 0h0m1 0h0m7 0h0m24 0h0m10 0h0m-51 1h0m13 0h0m-57 1h0m40 0h0m29 0h0m-91 1h0m76 0h0m6 0h0m46 0h0m-62 1h0m14 0h0m1 0h0m17 0h0m-47 1h0m43 0h0m2 0h0m-64 1h0m40 0h0m1 0h0m13 0h0m7 0h0m6 0h0m-25 1h0m13 0h0m3 0h0m11 0h0m-76 1h0m53 0h0m9 0h0m2 0h0m9 0h0m3 0h0m-28 1h0m11 0h0m12 0h0m-29 1h0m4 0h0m8 1h0m-5 1h0m16 0h0m5 0h0m2 0h0m5 0h0m-20 1h0m2 0h0m8 0h0m6 0h0m26 0h0m-43 1h0m6 0h0m6 0h0m21 0h0m-29 1h0m16 0h0m3 0h0m-22 1h0m9 0h0m14 0h0m-14 1h0m30 1h0m-52 2h0m31 3h0m-1 2h0m-26 2h0m10 0h0m3 2h0m-3 2h0m25 1h0m-14 1h0m3 1h0m17 3h0m4 0h0m-22 1h0m4 1h0m14 0h0m-7 2h0m9 0h0m-17 2h0m1 1h0m4 0h0m2 2h0m-2 3h0"/><path stroke="#00d9ff" d="M116 575h0m39 8h0m-24 1h0m15 1h0m11 3h0m2 1h0m-10 2h0m11 1h0m-9 2h0m8 0h0m4 0h0m-3 1h0m1 0h0m3 0h0m0 0h0m-2 1h0m-19 2h0m13 0h0m15 0h0m-9 1h0m11 0h0m-92 1h0m92 0h0m-82 1h0m75 0h0m1 0h0m-20 1h0m5 0h0m14 0h0m4 0h0m7 0h0m-124 1h0m115 0h0m-15 1h0m36 1h0m-96 1h0m65 0h0m-51 1h0m34 0h0m6 0h0m12 0h0m1 0h0m-46 1h0m43 0h0m2 0h0m-25 1h0m5 0h0m8 0h0m4 0h0m16 0h0m-83 1h0m59 0h0m1 0h0m19 0h0m-23 1h0m27 0h0m4 0h0m-84 1h0m69 0h0m4 0h0m6 0h0m-68 1h0m37 0h0m-44 1h0m54 0h0m5 0h0m11 0h0m9 0h0m8 0h0m-29 1h0m15 0h0m-74 1h0m47 0h0m12 0h0m7 0h0m8 0h0m1 0h0m-10 1h0m7 0h0m-31 1h0m9 0h0m22 0h0m1 0h0m14 0h0m-32 1h0m13 0h0m2 0h0m21 0h0m-45 1h0m18 0h0m-16 1h0m2 0h0m3 0h0m2 0h0m1 0h0m2 0h0m12 0h0m7 0h0m5 0h0m1 0h0m-18 1h0m3 0h0m-25 1h0m12 1h0m14 0h0m5 0h0m20 1h0m2 0h0m-51 1h0m10 0h0m3 0h0m1 0h0m4 0h0m-100 1h0m42 0h0m39 0h0m24 0h0m-78 1h0m13 0h0m55 0h0m14 0h0m3 0h0m9 0h0m-82 1h0m41 0h0m7 0h0m4 0h0m1 0h0m5 0h0m5 0h0m17 0h0m11 0h0m15 0h0m-96 1h0m36 0h0m1 0h0m42 0h0m-118 1h0m18 0h0m23 0h0m5 0h0m3 0h0m34 0h0m11 0h0m5 0h0m6 0h0m39 0h0m-91 1h0m1 0h0m19 0h0m21 0h0m28 0h0m-91 1h0m41 0h0m9 0h0m2 0h0m0 0h0m2 0h0m3 0h0m0 0h0m37 0h0m-136 1h0m21 0h0m30 0h0m13 0h0m2 0h0m26 0h0m12 0h0m-56 1h0m40 0h0m15 0h0m11 0h0m29 0h0m20 0h0m-55 1h0m23 0h0m-82 1h0m14 0h0m2 0h0m24 0h0m5 0h0m3 0h0m2 0h0m-54 1h0m21 0h0m26 0h0m11 0h0m0 0h0m-75 1h0m15 0h0m21 0h0m27 0h0m7 0h0m2 0h0m9 0h0m0 0h0m1 0h0m1 0h0m23 0h0m-99 1h0m5 0h0m83 0h0m1 0h0m14 0h0m8 0h0m-102 1h0m62 0h0m4 0h0m23 0h0m-93 1h0m7 0h0m17 0h0m10 0h0m7 0h0m38 0h0m19 0h0m-73 1h0m53 0h0m15 0h0m50 0h0m-140 1h0m9 0h0m11 0h0m2 0h0m12 1h0m31 0h0m3 0h0m7 0h0m16 0h0m12 0h0m-65 1h0m1 0h0m74 0h0m-114 1h0m22 0h0m17 0h0m12 0h0m-50 1h0m10 0h0m29 0h0m1 0h0m2 0h0m39 0h0m38 0h0m-112 1h0m38 0h0m3 0h0m32 0h0m32 0h0m-121 1h0m26 0h0m20 0h0m10 0h0m10 0h0m22 0h0m28 0h0m-114 1h0m13 0h0m10 0h0m4 0h0m6 0h0m7 0h0m-36 1h0m2 0h0m33 0h0m1 0h0m4 0h0m12 0h0m4 0h0m5 0h0m32 0h0m-88 1h0m23 0h0m8 0h0m3 0h0m5 0h0m16 0h0m2 0h0m4 0h0m-63 1h0m24 0h0m6 0h0m17 0h0m19 0h0m-69 1h0m6 0h0m7 0h0m32 0h0m7 0h0m13 0h0m4 0h0m28 0h0m-70 1h0m3 0h0m7 0h0m13 0h0m27 0h0m-66 1h0m2 0h0m23 0h0m6 0h0m22 0h0m2 0h0m-57 1h0m5 0h0m6 0h0m5 0h0m12 0h0m8 0h0m10 0h0m1 0h0m12 0h0m5 0h0m3 0h0m-70 1h0m3 0h0m1 0h0m15 0h0m1 0h0m4 0h0m6 0h0m6 0h0m0 0h0m17 0h0m7 0h0m5 0h0m1 0h0m8 0h0m29 0h0m-92 1h0m16 0h0m27 0h0m4 0h0m4 0h0m17 0h0m16 0h0m22 0h0m-134 1h0m27 0h0m10 0h0m2 0h0m12 0h0m5 0h0m3 0h0m12 0h0m9 0h0m1 0h0m3 0h0m6 0h0m4 0h0m32 0h0m-98 1h0m21 0h0m12 0h0m13 0h0m1 0h0m11 0h0m1 0h0m6 0h0m-70 1h0m1 0h0m18 0h0m3 0h0m6 0h0m6 0h0m7 0h0m65 0h0m-127 1h0m0 0h0m28 0h0m1 0h0m2 0h0m3 0h0m6 0h0m11 0h0m2 0h0m5 0h0m10 0h0m6 0h0m2 0h0m24 0h0m-60 1h0m6 0h0m1 0h0m15 0h0m1 0h0m19 0h0m7 0h0m2 0h0m1 0h0m-59 1h0m2 0h0m9 0h0m5 0h0m2 0h0m7 0h0m3 0h0m4 0h0m18 0h0m4 0h0m41 0h0m17 0h0m-142 1h0m35 0h0m5 0h0m4 0h0m5 0h0m11 0h0m6 0h0m5 0h0m6 0h0m13 0h0m6 0h0m8 0h0m-106 1h0m32 0h0m13 0h0m50 0h0m4 0h0m22 0h0m-119 1h0m42 0h0m10 0h0m24 0h0m5 0h0m9 0h0m10 0h0m8 0h0m4 0h0m-100 1h0m18 0h0m7 0h0m3 0h0m2 0h0m17 0h0m7 0h0m3 0h0m6 0h0m5 0h0m5 0h0m1 0h0m15 0h0m-68 1h0m12 0h0m4 0h0m6 0h0m16 0h0m1 0h0m4 0h0m-73 1h0m40 0h0m8 0h0m13 0h0m9 0h0m12 0h0m3 0h0m0 0h0m1 0h0m7 0h0m7 0h0m9 0h0m-74 1h0m5 0h0m3 0h0m4 0h0m22 0h0m1 0h0m10 0h0m2 0h0m7 0h0m15 0h0m1 0h0m-100 1h0m46 0h0m13 0h0m10 0h0m3 0h0m19 0h0m7 0h0m8 0h0m1 0h0m-90 1h0m26 0h0m23 0h0m3 0h0m27 0h0m26 0h0m-83 1h0m28 0h0m5 0h0m19 0h0m8 0h0m1 0h0m6 0h0m-36 1h0m5 0h0m3 0h0m3 0h0m11 0h0m2 0h0m2 0h0m-84 1h0m42 0h0m11 0h0m1 0h0m3 0h0m10 0h0m10 0h0m10 0h0m-84 1h0m37 0h0m9 0h0m3 0h0m1 0h0m12 0h0m0 0h0m2 0h0m4 0h0m11 0h0m1 0h0m2 0h0m-31 1h0m3 0h0m8 0h0m3 1h0m2 0h0m-64 1h0m45 0h0m1 0h0m6 0h0m1 0h0m6 0h0m17 0h0m4 0h0m2 0h0m-37 1h0m4 0h0m3 0h0m7 0h0m2 0h0m13 0h0m8 0h0m2 0h0m14 0h0m-97 1h0m42 0h0m2 0h0m11 0h0m5 0h0m1 0h0m0 0h0m5 0h0m12 0h0m2 0h0m-34 1h0m2 0h0m7 0h0m8 0h0m26 0h0m7 0h0m-91 1h0m53 0h0m25 0h0m11 0h0m-42 1h0m10 0h0m3 0h0m27 0h0m-69 1h0m38 0h0m6 0h0m5 0h0m3 0h0m18 0h0m-81 1h0m41 0h0m3 0h0m2 0h0m6 0h0m15 0h0m16 0h0m2 0h0m-78 1h0m36 0h0m8 0h0m6 0h0m1 0h0m8 0h0m2 0h0m4 0h0m6 0h0m1 0h0m19 0h0m-93 1h0m15 0h0m35 0h0m14 0h0m17 0h0m1 0h0m-29 1h0m1 0h0m1 0h0m4 0h0m15 0h0m8 0h0m-63 1h0m30 0h0m1 0h0m1 0h0m14 0h0m13 0h0m-25 1h0m7 0h0m1 0h0m6 0h0m16 0h0m-17 1h0m18 0h0m19 0h0m-83 1h0m33 0h0m12 0h0m-26 1h0m25 0h0m2 0h0m0 0h0m6 0h0m-85 1h0m79 0h0m11 0h0m3 0h0m-12 1h0m0 0h0m-54 1h0m60 1h0m2 0h0m4 0h0m-73 1h0m68 0h0m7 0h0m0 1h0m2 0h0m-6 1h0m-22 1h0m19 0h0m3 0h0m3 0h0m4 0h0m-28 1h0m24 0h0m-50 1h0m22 0h0m27 0h0m4 0h0m-75 1h0m72 0h0m-31 2h0m7 0h0m-42 1h0m43 0h0m11 3h0m18 1h0m-2 2h0m-9 1h0m11 0h0m-12 1h0m5 1h0m8 0h0m-11 1h0m2 0h0m6 1h0m2 0h0m8 0h0m-16 1h0m3 0h0m3 1h0m1 2h0m2 0h0m-6 1h0m8 0h0m-9 3h0m8 5h0"/><path stroke="#00f2ff" d="M73 565h0m-11 1h0m6 2h0m54 0h0m-40 3h0m-28 2h0m11 0h0m13 2h0m33 1h0m-28 7h0m55 0h0m-48 1h0m36 0h0m-45 1h0m21 0h0m36 1h0m5 0h0m4 0h0m-65 2h0m65 0h0m2 1h0m1 0h0m-97 1h0m114 0h0m-112 1h0m72 0h0m-30 1h0m60 0h0m-64 1h0m56 0h0m5 0h0m3 0h0m-39 1h0m32 0h0m6 0h0m-64 1h0m5 0h0m57 0h0m-77 1h0m17 0h0m29 0h0m5 0h0m38 0h0m-85 1h0m20 0h0m56 0h0m7 0h0m-82 1h0m1 0h0m12 0h0m51 0h0m11 0h0m-88 1h0m10 0h0m8 0h0m55 0h0m5 0h0m-65 1h0m7 0h0m2 0h0m15 0h0m13 0h0m29 0h0m-67 1h0m6 0h0m6 0h0m2 0h0m16 0h0m14 0h0m7 0h0m14 0h0m2 0h0m1 0h0m-63 1h0m12 0h0m42 0h0m1 0h0m-60 1h0m5 0h0m7 0h0m6 0h0m2 0h0m11 0h0m14 0h0m11 0h0m6 0h0m2 0h0m4 0h0m1 0h0m1 0h0m1 0h0m19 0h0m-86 1h0m9 0h0m4 0h0m9 0h0m7 0h0m19 0h0m3 0h0m9 0h0m3 0h0m7 0h0m3 0h0m-69 1h0m2 0h0m10 0h0m50 0h0m-97 1h0m8 0h0m35 0h0m2 0h0m11 0h0m29 0h0m10 0h0m6 0h0m-61 1h0m24 0h0m20 0h0m4 0h0m1 0h0m5 0h0m6 0h0m1 0h0m-41 1h0m44 0h0m3 0h0m0 0h0m-63 1h0m11 0h0m7 0h0m4 0h0m13 0h0m22 0h0m-82 1h0m1 0h0m16 0h0m4 0h0m4 0h0m2 0h0m1 0h0m7 0h0m18 0h0m10 0h0m10 0h0m2 0h0m9 0h0m3 0h0m-64 1h0m8 0h0m35 0h0m3 0h0m22 0h0m-101 1h0m27 0h0m3 0h0m11 0h0m6 0h0m1 0h0m9 0h0m12 0h0m11 0h0m10 0h0m-65 1h0m6 0h0m36 0h0m1 0h0m7 0h0m9 0h0m9 0h0m-94 1h0m48 0h0m-14 1h0m7 0h0m26 0h0m6 0h0m2 0h0m10 0h0m4 0h0m-52 1h0m11 0h0m19 0h0m2 0h0m7 0h0m3 0h0m7 0h0m0 0h0m5 0h0m-87 1h0m33 0h0m32 0h0m4 0h0m3 0h0m16 0h0m-50 1h0m15 0h0m3 0h0m8 0h0m10 0h0m2 0h0m4 0h0m8 0h0m3 0h0m4 0h0m18 0h0m-51 1h0m4 0h0m2 0h0m2 0h0m1 0h0m8 0h0m9 0h0m30 0h0m-118 1h0m37 0h0m11 0h0m5 0h0m18 0h0m2 0h0m8 0h0m-38 1h0m12 0h0m13 0h0m6 0h0m1 0h0m18 0h0m-36 1h0m1 0h0m20 0h0m-38 1h0m24 0h0m2 0h0m8 0h0m2 0h0m-15 1h0m2 0h0m10 0h0m3 0h0m11 0h0m-42 1h0m15 0h0m20 0h0m3 0h0m10 0h0m-90 1h0m65 0h0m7 0h0m9 0h0m39 0h0m-112 1h0m37 0h0m8 0h0m8 0h0m6 0h0m15 0h0m-83 1h0m3 0h0m25 0h0m44 0h0m3 0h0m2 0h0m-78 1h0m27 0h0m5 0h0m36 0h0m1 0h0m2 0h0m0 0h0m3 1h0m-54 1h0m39 0h0m5 0h0m0 0h0m27 0h0m-25 1h0m15 0h0m1 0h0m-66 1h0m17 0h0m16 0h0m3 0h0m15 0h0m-39 1h0m1 0h0m45 0h0m-6 1h0m1 0h0m0 0h0m12 0h0m12 0h0m-75 1h0m8 0h0m3 0h0m54 0h0m-86 1h0m76 0h0m16 0h0m-100 1h0m21 0h0m5 0h0m19 0h0m22 0h0m-66 1h0m92 0h0m10 0h0m-58 1h0m7 0h0m8 0h0m-54 1h0m29 0h0m9 0h0m17 0h0m-61 1h0m35 0h0m5 0h0m28 0h0m55 0h0m-103 1h0m18 0h0m26 0h0m16 0h0m3 0h0m-77 1h0m34 0h0m38 0h0m2 1h0m1 0h0m-75 1h0m17 0h0m2 0h0m11 0h0m7 0h0m2 0h0m18 0h0m12 0h0m3 0h0m7 0h0m-58 1h0m15 0h0m1 0h0m2 0h0m27 0h0m2 0h0m6 0h0m-56 1h0m6 0h0m62 0h0m19 0h0m-83 1h0m9 0h0m30 0h0m4 0h0m8 0h0m3 0h0m10 0h0m-48 1h0m17 0h0m20 0h0m8 0h0m-61 1h0m11 0h0m4 0h0m15 0h0m11 0h0m5 0h0m5 0h0m-40 1h0m47 0h0m-78 1h0m45 0h0m3 0h0m1 0h0m16 0h0m16 0h0m6 0h0m-58 1h0m1 0h0m4 0h0m3 0h0m15 0h0m33 0h0m4 0h0m6 0h0m-64 1h0m4 0h0m9 0h0m2 0h0m2 0h0m5 0h0m19 0h0m1 0h0m17 0h0m5 0h0m1 0h0m2 0h0m1 0h0m-31 1h0m12 0h0m2 0h0m7 0h0m6 0h0m9 0h0m-68 1h0m2 0h0m9 0h0m1 0h0m1 0h0m1 0h0m2 0h0m16 0h0m1 0h0m9 0h0m1 0h0m18 0h0m1 0h0m-64 1h0m15 0h0m6 0h0m2 0h0m11 0h0m3 0h0m21 0h0m2 0h0m2 0h0m1 0h0m2 0h0m11 0h0m-100 1h0m30 0h0m14 0h0m15 0h0m24 0h0m-58 1h0m20 0h0m4 0h0m43 0h0m8 0h0m-67 1h0m3 0h0m1 0h0m11 0h0m7 0h0m17 0h0m3 0h0m8 0h0m-75 1h0m38 0h0m5 0h0m2 0h0m8 0h0m25 0h0m13 0h0m1 0h0m7 0h0m-98 1h0m28 0h0m8 0h0m18 0h0m10 0h0m6 0h0m19 0h0m3 0h0m3 0h0m7 0h0m-75 1h0m3 0h0m22 0h0m3 0h0m22 0h0m1 0h0m7 0h0m14 0h0m7 0h0m-80 1h0m6 0h0m13 0h0m5 0h0m11 0h0m2 0h0m1 0h0m9 0h0m24 0h0m-100 1h0m27 0h0m6 0h0m11 0h0m30 0h0m8 0h0m11 0h0m-64 1h0m14 0h0m19 0h0m3 0h0m4 0h0m4 0h0m6 0h0m20 0h0m11 0h0m-96 1h0m33 0h0m6 0h0m17 0h0m0 0h0m1 0h0m13 0h0m-50 1h0m5 0h0m3 0h0m8 0h0m4 0h0m5 0h0m12 0h0m11 0h0m2 0h0m10 0h0m4 0h0m10 0h0m5 0h0m-69 1h0m3 0h0m2 0h0m4 0h0m7 0h0m10 0h0m-20 1h0m8 0h0m6 0h0m22 0h0m2 0h0m13 0h0m2 0h0m12 0h0m-61 1h0m4 0h0m5 0h0m0 0h0m3 0h0m4 0h0m10 0h0m5 0h0m-32 1h0m11 0h0m12 0h0m30 0h0m-49 1h0m2 0h0m4 0h0m2 0h0m10 0h0m19 0h0m-78 1h0m13 0h0m0 0h0m4 0h0m23 0h0m6 0h0m11 0h0m1 0h0m12 0h0m-29 1h0m1 0h0m1 0h0m2 0h0m1 0h0m9 0h0m9 0h0m5 0h0m5 0h0m2 0h0m10 0h0m1 0h0m-71 1h0m32 0h0m42 0h0m15 0h0m-56 1h0m2 0h0m12 0h0m21 0h0m7 0h0m-81 1h0m10 0h0m25 0h0m8 0h0m5 0h0m8 0h0m5 0h0m15 0h0m3 0h0m12 0h0m-74 1h0m38 0h0m7 0h0m9 0h0m27 0h0m-95 1h0m37 0h0m5 0h0m33 0h0m-70 1h0m4 0h0m6 0h0m1 0h0m1 0h0m26 0h0m2 0h0m1 0h0m1 0h0m5 0h0m14 0h0m8 0h0m4 0h0m-76 1h0m54 0h0m19 0h0m6 0h0m1 0h0m-68 1h0m4 0h0m26 0h0m7 1h0m19 0h0m8 0h0m2 0h0m12 0h0m-90 1h0m17 0h0m43 0h0m12 0h0m1 0h0m-63 1h0m43 0h0m27 0h0m8 0h0m-76 1h0m2 0h0m17 0h0m21 0h0m6 0h0m9 0h0m9 0h0m7 0h0m-24 1h0m1 0h0m-2 1h0m6 0h0m5 0h0m15 0h0m11 0h0m-72 1h0m43 0h0m2 0h0m23 0h0m7 0h0m1 0h0m-66 1h0m35 0h0m10 0h0m21 1h0m-7 2h0m5 0h0m-41 1h0m38 0h0m-63 1h0m19 0h0m9 0h0m29 0h0m14 0h0m-22 1h0m4 0h0m-75 1h0m26 0h0m12 0h0m36 0h0m10 0h0m-73 1h0m70 0h0m1 0h0m-49 1h0m4 0h0m19 0h0m29 0h0m9 0h0m-8 1h0m-42 1h0m4 0h0m4 0h0m-12 1h0m52 0h0m0 1h0m-37 1h0m35 0h0m4 0h0m-42 1h0m41 0h0m-34 2h0m1 0h0m-11 1h0m19 0h0m-43 1h0m7 0h0m63 1h0m-26 1h0m8 0h0m-40 3h0m38 1h0m7 3h0m10 0h0m2 0h0m-6 2h0m11 3h0m-9 4h0m5 6h0"/><path stroke="#0dfff2" d="M53 565h0m41 0h0m4 0h0m2 1h0m8 0h0m14 0h0m-58 1h0m17 0h0m-12 1h0m7 0h0m-24 1h0m5 0h0m52 0h0m1 0h0m-5 1h0m3 0h0m-41 1h0m63 0h0m-50 1h0m7 0h0m2 0h0m25 0h0m-48 1h0m12 0h0m1 0h0m10 0h0m18 0h0m-25 2h0m40 0h0m-64 1h0m31 0h0m6 0h0m14 0h0m-49 1h0m35 0h0m34 0h0m-53 1h0m6 0h0m3 0h0m1 0h0m1 0h0m5 0h0m2 0h0m19 0h0m25 0h0m-63 1h0m58 0h0m-1 1h0m1 0h0m1 0h0m-69 1h0m26 0h0m0 0h0m5 0h0m7 0h0m27 0h0m-68 1h0m16 0h0m5 0h0m2 0h0m20 0h0m19 0h0m2 0h0m4 0h0m3 0h0m-41 1h0m8 0h0m30 0h0m2 0h0m8 0h0m-55 1h0m-12 1h0m19 0h0m5 0h0m46 0h0m1 0h0m3 0h0m-59 1h0m7 0h0m16 0h0m25 0h0m6 0h0m-66 1h0m12 0h0m3 0h0m13 0h0m13 0h0m16 0h0m16 0h0m-70 1h0m13 0h0m4 0h0m10 0h0m33 0h0m4 0h0m1 0h0m2 0h0m0 0h0m1 0h0m-73 1h0m7 0h0m11 0h0m56 0h0m3 0h0m-52 1h0m15 0h0m10 0h0m2 0h0m4 0h0m17 0h0m-69 1h0m21 0h0m1 0h0m5 0h0m7 0h0m6 0h0m0 0h0m29 0h0m8 0h0m-72 1h0m5 0h0m4 0h0m35 0h0m-45 1h0m8 0h0m2 0h0m26 0h0m2 0h0m14 0h0m18 0h0m-69 1h0m1 0h0m1 0h0m20 0h0m6 0h0m11 0h0m11 0h0m-56 1h0m9 0h0m1 0h0m8 0h0m4 0h0m5 0h0m51 0h0m1 0h0m-78 1h0m40 0h0m11 0h0m-35 1h0m18 0h0m2 0h0m2 0h0m2 0h0m13 0h0m-46 1h0m14 0h0m1 0h0m1 0h0m4 0h0m21 0h0m14 0h0m-42 1h0m0 0h0m2 0h0m2 0h0m31 0h0m-37 1h0m7 0h0m1 0h0m16 0h0m5 0h0m-68 1h0m23 0h0m1 0h0m25 0h0m3 0h0m4 0h0m20 0h0m5 0h0m7 0h0m6 0h0m-67 1h0m7 0h0m11 0h0m25 0h0m12 0h0m-79 1h0m29 0h0m3 0h0m29 0h0m15 0h0m5 0h0m2 0h0m5 0h0m-90 1h0m28 0h0m10 0h0m7 0h0m5 0h0m3 0h0m10 0h0m8 0h0m2 0h0m8 0h0m0 0h0m5 0h0m1 0h0m-50 1h0m7 0h0m1 0h0m8 0h0m3 0h0m3 0h0m2 0h0m7 0h0m2 0h0m15 1h0m-51 1h0m12 0h0m28 0h0m2 0h0m4 0h0m-41 1h0m1 0h0m18 0h0m4 0h0m20 0h0m14 0h0m-60 1h0m4 0h0m12 0h0m1 0h0m18 0h0m9 0h0m9 0h0m-77 1h0m37 0h0m4 0h0m17 0h0m9 0h0m5 0h0m-88 1h0m43 0h0m9 0h0m25 0h0m8 0h0m12 0h0m4 0h0m-42 1h0m0 0h0m10 0h0m4 0h0m12 0h0m1 0h0m3 0h0m-25 1h0m1 0h0m13 0h0m23 0h0m2 0h0m-65 1h0m3 0h0m13 0h0m6 0h0m2 0h0m5 0h0m2 0h0m13 0h0m11 0h0m-52 1h0m11 0h0m2 0h0m10 0h0m7 0h0m2 0h0m5 0h0m2 0h0m-81 1h0m59 0h0m2 0h0m5 0h0m4 0h0m3 0h0m1 0h0m11 0h0m13 0h0m-41 1h0m3 0h0m4 0h0m7 0h0m18 0h0m-35 1h0m1 0h0m1 0h0m6 0h0m19 0h0m-21 1h0m11 0h0m5 0h0m0 0h0m14 0h0m-35 1h0m7 0h0m28 0h0m12 0h0m-83 1h0m48 0h0m6 0h0m12 0h0m10 0h0m3 0h0m-26 1h0m2 0h0m-59 1h0m40 0h0m16 0h0m2 0h0m11 0h0m14 0h0m-2 1h0m3 0h0m-74 1h0m52 0h0m2 0h0m-71 1h0m4 0h0m51 0h0m2 0h0m29 0h0m-43 1h0m14 0h0m3 0h0m3 0h0m10 0h0m9 1h0m8 0h0m-80 1h0m71 1h0m-37 1h0m27 0h0m-55 1h0m9 2h0m54 0h0m1 1h0m-69 1h0m35 0h0m-28 1h0m44 3h0m-46 1h0m-23 2h0m38 0h0m36 0h0m-46 1h0m18 0h0m26 1h0m6 0h0m-49 1h0m13 0h0m1 0h0m19 0h0m13 0h0m11 0h0m-59 2h0m49 1h0m-43 1h0m5 0h0m46 0h0m-69 1h0m73 0h0m-13 1h0m2 0h0m19 0h0m-29 1h0m3 0h0m33 0h0m-48 1h0m34 0h0m-71 1h0m24 0h0m16 0h0m36 0h0m-27 1h0m-45 1h0m19 0h0m23 0h0m-13 1h0m8 0h0m-32 1h0m48 0h0m-31 1h0m5 0h0m26 0h0m-1 1h0m-19 1h0m24 0h0m3 0h0m29 0h0m-50 1h0m71 0h0m-67 2h0m18 0h0m-27 1h0m26 0h0m13 0h0m14 0h0m-53 1h0m7 0h0m11 0h0m33 0h0m3 0h0m5 0h0m18 0h0m-93 1h0m4 0h0m64 0h0m18 0h0m-16 2h0m-17 1h0m4 0h0m-6 1h0m25 0h0m-40 1h0m29 0h0m-63 1h0m47 1h0m11 1h0m39 0h0m-84 1h0m1 0h0m44 0h0m23 0h0m5 0h0m-45 1h0m17 0h0m30 0h0m-72 1h0m45 0h0m4 0h0m-44 2h0m-12 1h0m61 1h0m11 0h0m-44 1h0m19 0h0m-34 1h0m15 1h0m29 1h0m7 0h0m6 0h0m-28 1h0m-1 1h0m64 1h0m-40 1h0m-32 5h0m15 4h0m18 0h0m-2 1h0m38 0h0m6 1h0m-58 1h0m-2 1h0m7 0h0m9 0h0m-3 1h0m43 0h0m-66 1h0m37 4h0m-22 6h0"/><path stroke="#26ffd9" d="M92 565h0m10 1h0m1 0h0m-30 1h0m2 0h0m3 0h0m24 0h0m6 0h0m23 0h0m-33 1h0m2 0h0m8 0h0m4 0h0m-14 1h0m5 0h0m1 0h0m27 0h0m-53 1h0m5 0h0m0 0h0m31 0h0m1 0h0m-46 1h0m15 0h0m16 0h0m11 0h0m-7 1h0m8 0h0m3 0h0m-32 1h0m2 0h0m27 0h0m9 0h0m1 0h0m-41 2h0m53 0h0m-59 1h0m10 0h0m0 0h0m5 0h0m2 0h0m5 0h0m17 0h0m-36 1h0m2 0h0m6 0h0m3 0h0m24 0h0m-58 1h0m33 0h0m7 0h0m7 0h0m10 0h0m10 0h0m2 0h0m5 0h0m1 0h0m-58 1h0m16 0h0m5 0h0m5 0h0m20 0h0m5 0h0m7 0h0m5 0h0m-82 1h0m27 0h0m2 0h0m12 0h0m6 0h0m-27 1h0m8 0h0m7 0h0m5 0h0m2 0h0m10 0h0m1 0h0m2 0h0m26 0h0m-53 1h0m1 0h0m2 0h0m11 0h0m5 0h0m2 0h0m1 0h0m0 0h0m35 0h0m-61 1h0m13 0h0m2 0h0m4 0h0m5 0h0m24 0h0m-51 1h0m12 0h0m3 0h0m12 0h0m1 0h0m5 0h0m34 0h0m0 0h0m1 0h0m-67 1h0m1 0h0m3 0h0m5 0h0m4 0h0m5 0h0m1 0h0m4 0h0m1 0h0m6 0h0m6 0h0m3 0h0m-21 1h0m6 0h0m1 0h0m-27 1h0m17 0h0m10 0h0m15 0h0m17 0h0m6 0h0m6 0h0m4 0h0m-84 1h0m21 0h0m24 0h0m6 0h0m21 0h0m-49 1h0m1 0h0m27 0h0m2 0h0m4 0h0m17 0h0m-60 1h0m10 0h0m14 0h0m0 0h0m21 0h0m-61 1h0m23 0h0m7 0h0m1 0h0m13 0h0m40 0h0m-83 1h0m13 0h0m12 0h0m2 0h0m9 0h0m1 0h0m1 0h0m3 0h0m12 0h0m-38 1h0m6 0h0m1 0h0m5 0h0m13 0h0m4 0h0m2 0h0m5 0h0m3 0h0m4 0h0m2 0h0m7 0h0m1 0h0m-53 1h0m19 0h0m24 0h0m2 0h0m6 0h0m5 0h0m-58 1h0m12 0h0m2 0h0m1 0h0m10 0h0m9 0h0m4 0h0m5 0h0m5 0h0m-40 1h0m7 0h0m22 0h0m5 0h0m8 0h0m1 0h0m7 0h0m0 0h0m-32 1h0m25 0h0m5 0h0m9 0h0m-51 1h0m3 0h0m14 0h0m16 0h0m10 0h0m9 0h0m-62 1h0m30 0h0m3 0h0m13 0h0m4 0h0m1 0h0m9 0h0m1 0h0m-52 1h0m11 0h0m12 0h0m2 0h0m1 0h0m14 0h0m11 0h0m4 0h0m0 0h0m-55 1h0m19 0h0m7 0h0m4 0h0m2 0h0m1 0h0m-23 1h0m6 0h0m27 0h0m6 0h0m-37 1h0m8 0h0m9 0h0m7 0h0m8 0h0m-44 1h0m6 0h0m2 0h0m0 0h0m16 0h0m8 0h0m-10 1h0m6 0h0m3 0h0m2 0h0m6 0h0m5 0h0m-15 1h0m3 0h0m0 0h0m12 0h0m2 0h0m1 0h0m1 0h0m-32 1h0m6 0h0m2 0h0m23 0h0m-17 1h0m3 0h0m1 0h0m1 0h0m3 0h0m19 0h0m-43 1h0m20 0h0m6 0h0m-32 1h0m27 0h0m5 0h0m1 0h0m-21 1h0m10 0h0m7 0h0m-9 1h0m12 0h0m7 0h0m-30 1h0m21 0h0m-41 1h0m31 0h0m5 0h0m19 0h0m-22 1h0m4 0h0m3 0h0m0 0h0m7 0h0m-35 2h0m9 0h0m11 1h0m-8 2h0m5 0h0m11 0h0m2 1h0m7 0h0m12 0h0m-27 1h0m6 2h0m18 2h0m-15 4h0m9 1h0m-73 5h0m-7 2h0m18 0h0m-17 5h0m28 2h0m46 3h0m-78 1h0m86 0h0m-14 7h0m-20 3h0m18 6h0m-7 3h0m22 0h0m-22 10h0m31 15h0m10 4h0m30 12h0"/><path stroke="#40ffbf" d="M70 565h0m43 0h0m-19 1h0m10 0h0m5 0h0m-37 1h0m2 1h0m31 0h0m6 0h0m-2 1h0m-33 1h0m35 0h0m1 0h0m-22 2h0m20 0h0m7 0h0m3 0h0m-45 1h0m38 0h0m-5 1h0m-23 1h0m33 0h0m-44 1h0m7 0h0m38 0h0m3 0h0m-64 1h0m33 0h0m8 0h0m13 0h0m-52 1h0m28 0h0m5 0h0m1 0h0m5 0h0m15 0h0m3 0h0m0 0h0m13 0h0m-53 1h0m10 0h0m13 0h0m27 0h0m-38 1h0m8 0h0m8 0h0m-22 1h0m9 0h0m3 0h0m3 0h0m41 0h0m-59 1h0m6 0h0m10 0h0m3 0h0m14 0h0m23 0h0m-47 1h0m22 0h0m21 0h0m-6 1h0m14 0h0m-41 1h0m31 0h0m-40 1h0m17 0h0m34 0h0m-56 1h0m10 0h0m7 0h0m12 0h0m2 0h0m-21 1h0m-13 1h0m27 1h0m2 0h0m17 0h0m-26 1h0m6 0h0m6 0h0m1 0h0m6 0h0m-30 1h0m15 0h0m-20 1h0m22 0h0m18 0h0m-31 2h0m22 0h0m13 0h0m2 0h0m3 1h0m-53 1h0m1 0h0m2 0h0m28 0h0m27 0h0m-15 1h0m5 0h0m-16 1h0m15 0h0m3 0h0m2 1h0m2 0h0m1 0h0m-16 1h0m12 0h0m2 0h0m0 1h0m-12 1h0m11 0h0m4 0h0m-29 1h0m5 0h0m9 0h0m-10 1h0m19 0h0m-18 1h0m1 0h0m3 0h0m-20 1h0m32 0h0m4 0h0m-4 1h0m-3 1h0m3 1h0m-17 3h0m0 2h0m7 0h0m1 1h0m-19 3h0m24 7h0"/><path stroke="#59ffa6" d="M101 567h0m28 2h0m-32 1h0m16 0h0m-6 1h0m14 3h0m-23 9h0m10 0h0m-8 1h0m11 2h0m1 0h0m6 1h0m-11 5h0m-13 2h0m31 1h0m-38 1h0m40 2h0m-7 3h0m7 2h0"/><path stroke="#73ff8c" d="M111 583h0m-6 6h0"/></g>
<g transform="scale(0.5)" stroke-width="1.7" stroke-linecap="square" fill="none" opacity="1.0"><path stroke="#0000bf" d="M112 923h0"/><path stroke="#0000d9" d="M111 912h0m-4 1h0m4 2h0m-4 1h0m3 1h0m-1 1h0m1 1h0m-1 1h0m-4 4h0m-3 2h0m1 2h0m3 0h0m-2 3h0"/><path stroke="#0000f2" d="M106 911h0m2 1h0m6 1h0m-10 3h0m3 2h0m3 5h0m0 4h0"/><path stroke="#000dff" d="M106 909h0m9 0h0m-9 4h0m9 0h0m-3 8h0m-5 2h0m-3 5h0m3 0h0m-4 1h0m1 0h0m2 0h0"/><path stroke="#0026ff" d="M93 857h0m10 60h0"/><path stroke="#0040ff" d="M101 843h0m-8 1h0m-11 2h0m15 0h0m-13 2h0m2 0h0m1 2h0m17 0h0m-18 1h0m36 0h0m-36 2h0m0 2h0m6 0h0m26 0h0m71 49h0m-9 3h0m-66 4h0m101 1h0m-1 1h0m-4 6h0m-14 2h0m10 4h0m8 5h0m7 0h0m-3 1h0m11 0h0m-5 4h0m-5 1h0m4 0h0m-4 3h0m-13 1h0m8 3h0m-9 3h0m4 2h0m14 12h0"/><path stroke="#0059ff" d="M106 842h0m-3 1h0m4 0h0m-32 1h0m42 0h0m-21 1h0m10 0h0m15 0h0m-42 1h0m6 1h0m1 0h0m20 0h0m3 0h0m1 0h0m-2 1h0m-31 1h0m30 0h0m6 0h0m2 0h0m-39 1h0m6 0h0m10 0h0m21 0h0m-27 1h0m5 0h0m-9 1h0m11 0h0m20 0h0m-23 1h0m1 0h0m24 0h0m-31 1h0m10 0h0m17 0h0m4 0h0m11 0h0m-44 1h0m14 0h0m-12 1h0m17 0h0m-11 1h0m6 0h0m24 0h0m16 0h0m-45 1h0m65 2h0m-44 3h0m34 5h0m26 11h0m16 9h0m-11 11h0m12 2h0m-14 1h0m-7 1h0m22 3h0m15 1h0m-6 2h0m11 0h0m17 0h0m-51 1h0m6 0h0m13 1h0m-1 2h0m-29 1h0m23 0h0m26 0h0m-52 1h0m50 0h0m-2 1h0m16 1h0m-48 1h0m50 0h0m-13 1h0m5 1h0m-19 1h0m-9 1h0m5 0h0m10 1h0m21 0h0m-12 1h0m-15 1h0m1 0h0m4 0h0m12 0h0m15 0h0m-45 1h0m2 0h0m14 0h0m6 0h0m14 0h0m-9 2h0m6 0h0m-29 1h0m25 0h0m1 0h0m16 0h0m-51 1h0m17 0h0m19 0h0m18 0h0m-57 1h0m36 0h0m-9 1h0m4 0h0m8 0h0m-29 1h0m2 0h0m24 0h0m1 0h0m-17 1h0m10 0h0m16 0h0m-36 1h0m14 1h0m16 0h0m1 0h0m-18 1h0m13 0h0m2 0h0m-14 1h0m2 0h0m33 0h0m-34 1h0m5 1h0m13 0h0m-14 1h0m8 0h0m-4 1h0m2 0h0m-5 2h0m5 0h0m5 0h0m3 1h0m-11 2h0m0 1h0m15 0h0m-15 1h0m2 0h0m14 1h0m12 0h0m-4 2h0m2 2h0m-22 5h0m21 1h0m-20 2h0m11 0h0m12 8h0m-7 2h0m-1 4h0m0 4h0m-7 1h0m-2 10h0m-3 1h0m4 9h0"/><path stroke="#0073ff" d="M73 842h0m3 0h0m12 0h0m2 0h0m6 0h0m10 0h0m6 0h0m7 0h0m-3 1h0m-17 1h0m-26 1h0m7 0h0m19 0h0m3 0h0m2 0h0m1 0h0m2 0h0m2 0h0m0 0h0m1 0h0m-29 1h0m29 0h0m-31 1h0m0 0h0m21 0h0m1 0h0m6 0h0m8 0h0m7 0h0m-49 1h0m25 0h0m1 0h0m13 0h0m-36 1h0m33 0h0m8 0h0m3 0h0m3 0h0m6 0h0m-54 1h0m10 0h0m32 0h0m-32 1h0m33 0h0m6 0h0m-31 1h0m15 0h0m1 0h0m1 0h0m13 0h0m13 0h0m1 0h0m-56 1h0m44 0h0m-40 1h0m38 0h0m3 0h0m-50 1h0m4 0h0m3 0h0m7 0h0m8 0h0m17 0h0m2 0h0m3 0h0m7 0h0m4 0h0m-49 1h0m2 0h0m4 0h0m6 0h0m4 0h0m2 0h0m19 0h0m7 0h0m23 0h0m-64 1h0m4 0h0m2 0h0m40 0h0m3 0h0m-59 1h0m47 0h0m-41 1h0m11 0h0m2 0h0m9 0h0m5 0h0m3 0h0m-34 1h0m5 0h0m3 0h0m12 0h0m37 0h0m-50 2h0m50 0h0m-49 1h0m8 0h0m52 1h0m-25 1h0m33 1h0m-35 1h0m34 0h0m-21 1h0m19 0h0m-36 1h0m35 0h0m-41 1h0m23 0h0m-38 1h0m74 3h0m2 0h0m1 1h0m2 0h0m-28 1h0m22 0h0m-42 1h0m23 0h0m21 1h0m4 0h0m-3 1h0m-1 1h0m-17 1h0m20 0h0m19 3h0m-49 1h0m26 1h0m8 0h0m0 0h0m-31 3h0m36 4h0m-10 1h0m1 1h0m11 0h0m3 1h0m3 0h0m-35 1h0m27 0h0m5 0h0m-6 1h0m-9 1h0m3 0h0m8 1h0m10 0h0m9 0h0m-58 1h0m54 0h0m-23 1h0m6 0h0m1 1h0m2 0h0m5 0h0m20 0h0m-20 1h0m10 0h0m24 0h0m-47 1h0m2 0h0m13 0h0m6 0h0m-13 1h0m30 0h0m-42 2h0m1 0h0m55 0h0m-66 2h0m17 0h0m12 0h0m5 0h0m-21 1h0m2 0h0m10 0h0m16 0h0m7 0h0m5 0h0m9 0h0m-70 1h0m41 0h0m5 0h0m-7 1h0m-16 1h0m0 0h0m5 0h0m14 0h0m4 0h0m2 0h0m7 0h0m1 0h0m3 0h0m4 0h0m2 0h0m-49 1h0m24 0h0m16 0h0m2 0h0m3 0h0m19 0h0m-62 1h0m6 0h0m35 0h0m-29 1h0m30 0h0m5 0h0m13 0h0m-74 1h0m18 0h0m3 0h0m14 0h0m8 0h0m3 0h0m4 0h0m4 0h0m22 0h0m-56 1h0m11 0h0m3 0h0m5 0h0m18 0h0m2 0h0m-44 1h0m15 0h0m6 0h0m4 0h0m10 0h0m6 0h0m7 0h0m-48 1h0m9 0h0m5 0h0m1 0h0m12 0h0m2 0h0m10 0h0m13 0h0m-106 1h0m91 0h0m9 0h0m15 0h0m-69 1h0m5 0h0m11 0h0m9 0h0m12 0h0m1 0h0m19 0h0m-4 1h0m-40 1h0m2 0h0m5 0h0m4 0h0m11 0h0m17 0h0m2 0h0m-82 1h0m52 0h0m6 0h0m2 0h0m7 0h0m-15 1h0m34 0h0m-30 1h0m8 0h0m2 0h0m10 0h0m17 0h0m-55 1h0m27 0h0m6 0h0m-15 1h0m6 0h0m4 0h0m11 0h0m3 0h0m20 0h0m-45 1h0m12 0h0m0 0h0m2 0h0m3 0h0m13 0h0m-41 1h0m17 0h0m2 0h0m7 0h0m1 0h0m2 0h0m1 0h0m1 0h0m2 0h0m1 0h0m-19 1h0m5 0h0m2 0h0m-7 1h0m3 0h0m1 0h0m8 0h0m2 0h0m31 0h0m-70 1h0m36 0h0m4 0h0m2 0h0m5 0h0m3 0h0m-74 1h0m44 0h0m6 0h0m3 0h0m8 0h0m1 0h0m7 0h0m1 0h0m-6 1h0m5 0h0m-61 1h0m50 0h0m32 0h0m-111 1h0m79 0h0m7 0h0m-59 1h0m61 0h0m4 0h0m2 0h0m1 0h0m-20 1h0m3 0h0m0 0h0m15 1h0m11 0h0m-20 1h0m3 0h0m1 0h0m3 0h0m1 0h0m18 0h0m6 0h0m-35 1h0m7 0h0m1 0h0m9 0h0m-31 1h0m15 0h0m-22 1h0m12 0h0m10 0h0m3 0h0m20 0h0m3 0h0m-60 1h0m38 0h0m3 0h0m1 0h0m1 0h0m6 0h0m2 0h0m7 0h0m-19 1h0m4 0h0m-4 1h0m5 0h0m0 0h0m27 0h0m-30 1h0m13 2h0m-7 1h0m13 0h0m-6 1h0m-28 1h0m30 0h0m14 0h0m-27 1h0m1 2h0m9 4h0m17 1h0m-20 2h0m5 4h0m8 0h0m-1 3h0m-13 6h0m9 0h0m6 2h0m-14 10h0m1 6h0m0 1h0m2 3h0m1 7h0"/><path stroke="#008cff" d="M71 843h0m3 0h0m3 0h0m19 0h0m3 0h0m16 0h0m-41 1h0m29 0h0m-7 1h0m2 1h0m3 0h0m7 0h0m-39 2h0m5 0h0m7 0h0m0 1h0m2 0h0m49 0h0m-52 2h0m1 0h0m34 0h0m-38 2h0m3 0h0m10 0h0m24 0h0m0 0h0m8 0h0m-45 1h0m18 0h0m34 0h0m1 0h0m-31 1h0m19 1h0m17 0h0m-68 1h0m7 0h0m1 0h0m1 0h0m3 0h0m9 0h0m12 0h0m3 0h0m1 0h0m2 0h0m11 0h0m14 0h0m13 0h0m-37 1h0m2 0h0m14 0h0m17 0h0m-66 1h0m5 0h0m1 0h0m25 0h0m2 0h0m15 0h0m2 0h0m10 0h0m1 0h0m-57 1h0m0 0h0m2 0h0m3 0h0m8 0h0m34 0h0m-42 1h0m6 0h0m2 0h0m7 0h0m40 0h0m-62 1h0m12 0h0m3 0h0m15 0h0m8 0h0m14 0h0m16 0h0m1 0h0m12 0h0m-92 1h0m19 0h0m26 0h0m5 0h0m14 0h0m9 0h0m0 0h0m13 0h0m-75 1h0m13 0h0m11 0h0m5 0h0m13 0h0m31 0h0m-42 1h0m5 0h0m1 0h0m4 0h0m26 0h0m5 0h0m4 0h0m1 0h0m-77 1h0m12 0h0m6 0h0m21 0h0m8 0h0m-45 1h0m13 0h0m28 0h0m0 0h0m3 0h0m3 0h0m16 0h0m7 0h0m8 0h0m-79 1h0m49 0h0m2 0h0m0 0h0m15 0h0m2 0h0m6 0h0m4 0h0m3 0h0m-44 1h0m4 0h0m9 0h0m25 0h0m6 0h0m-74 1h0m19 0h0m25 0h0m23 0h0m8 0h0m-61 1h0m22 0h0m1 0h0m29 0h0m-32 1h0m6 0h0m35 0h0m7 0h0m-63 1h0m15 0h0m33 0h0m6 0h0m8 0h0m-57 1h0m68 0h0m-121 1h0m44 0h0m2 0h0m20 0h0m12 0h0m6 0h0m1 0h0m1 0h0m21 0h0m-62 1h0m26 0h0m10 0h0m24 0h0m3 0h0m7 0h0m-79 1h0m42 0h0m34 0h0m-39 1h0m16 0h0m2 0h0m5 0h0m18 0h0m-70 1h0m51 0h0m25 0h0m3 0h0m4 0h0m-87 1h0m37 0h0m6 0h0m2 0h0m16 0h0m19 0h0m-48 1h0m2 0h0m5 0h0m47 0h0m-98 1h0m7 0h0m50 0h0m5 0h0m-48 1h0m49 0h0m15 0h0m-49 1h0m18 0h0m14 1h0m6 0h0m0 0h0m3 0h0m6 0h0m7 0h0m-43 1h0m12 0h0m7 0h0m17 0h0m2 0h0m8 0h0m-50 1h0m34 0h0m17 0h0m0 0h0m16 0h0m-83 1h0m33 1h0m14 0h0m3 0h0m4 0h0m1 0h0m12 0h0m1 0h0m-109 1h0m70 0h0m19 0h0m9 0h0m15 0h0m0 0h0m-26 1h0m1 0h0m6 0h0m19 0h0m2 0h0m13 0h0m-54 1h0m3 0h0m4 0h0m3 0h0m21 0h0m-17 1h0m40 0h0m-49 1h0m6 0h0m32 0h0m-30 1h0m14 0h0m7 0h0m-26 1h0m16 0h0m11 0h0m1 0h0m11 0h0m-15 1h0m19 0h0m-50 1h0m5 0h0m22 0h0m7 0h0m17 0h0m1 0h0m-43 1h0m13 0h0m5 0h0m26 0h0m-43 1h0m4 0h0m41 0h0m-42 1h0m23 0h0m0 0h0m1 0h0m4 0h0m2 0h0m4 0h0m2 0h0m5 0h0m-61 1h0m12 0h0m13 0h0m10 0h0m0 0h0m22 0h0m-47 1h0m6 0h0m16 0h0m6 0h0m7 0h0m4 0h0m-17 1h0m13 0h0m1 0h0m23 0h0m-36 1h0m15 0h0m5 0h0m1 0h0m5 0h0m1 0h0m0 0h0m7 0h0m8 0h0m-75 1h0m26 0h0m6 0h0m1 0h0m3 0h0m4 0h0m3 0h0m2 0h0m2 0h0m11 0h0m7 0h0m1 0h0m-53 1h0m9 0h0m7 0h0m20 0h0m2 0h0m21 0h0m-49 1h0m30 0h0m4 0h0m1 0h0m8 0h0m12 0h0m-65 1h0m12 0h0m2 0h0m12 0h0m2 0h0m1 0h0m5 0h0m6 0h0m25 0h0m-65 1h0m27 0h0m4 0h0m9 0h0m13 0h0m7 0h0m-32 1h0m9 0h0m2 0h0m7 0h0m2 0h0m-52 1h0m0 0h0m26 0h0m18 0h0m1 0h0m21 0h0m9 0h0m-69 1h0m6 0h0m13 0h0m17 0h0m3 0h0m5 0h0m8 0h0m0 0h0m4 0h0m-58 1h0m20 0h0m9 0h0m11 0h0m23 0h0m7 0h0m-59 1h0m4 0h0m9 0h0m4 0h0m16 0h0m3 0h0m5 0h0m-76 1h0m34 0h0m8 0h0m3 0h0m11 0h0m1 0h0m7 0h0m1 0h0m1 0h0m1 0h0m1 0h0m13 0h0m7 0h0m-46 1h0m40 0h0m8 0h0m10 0h0m-84 1h0m18 0h0m17 0h0m12 0h0m5 0h0m12 0h0m15 0h0m2 0h0m4 0h0m-91 1h0m28 0h0m12 0h0m0 0h0m8 0h0m2 0h0m24 0h0m-74 1h0m24 0h0m3 0h0m4 0h0m21 0h0m13 0h0m0 0h0m3 0h0m0 0h0m11 0h0m10 0h0m0 0h0m1 0h0m-55 1h0m1 0h0m33 0h0m6 0h0m20 0h0m-94 1h0m10 0h0m45 0h0m14 0h0m20 0h0m9 0h0m-55 1h0m4 0h0m19 0h0m7 0h0m1 0h0m9 0h0m1 0h0m1 0h0m19 0h0m-69 1h0m6 0h0m18 0h0m14 0h0m-41 1h0m6 0h0m18 0h0m26 0h0m-70 1h0m34 0h0m11 0h0m3 0h0m15 0h0m15 0h0m0 0h0m-100 1h0m50 0h0m5 0h0m7 0h0m8 0h0m22 0h0m2 0h0m-70 1h0m42 0h0m20 0h0m2 0h0m-51 1h0m48 0h0m8 0h0m-115 1h0m47 0h0m1 0h0m12 0h0m34 0h0m4 0h0m6 0h0m-39 1h0m26 0h0m1 0h0m14 0h0m6 0h0m4 0h0m-77 1h0m46 0h0m12 0h0m22 0h0m-99 1h0m26 0h0m10 0h0m5 0h0m4 0h0m-55 1h0m38 0h0m24 0h0m19 0h0m13 0h0m3 0h0m10 0h0m1 0h0m-99 1h0m16 0h0m64 0h0m10 0h0m-71 1h0m1 0h0m1 0h0m57 0h0m-89 1h0m12 0h0m21 0h0m20 0h0m11 0h0m1 0h0m2 0h0m51 0h0m-75 1h0m9 0h0m38 0h0m2 0h0m-69 1h0m22 0h0m5 1h0m8 0h0m12 0h0m4 0h0m4 0h0m19 0h0m-52 1h0m1 0h0m28 0h0m47 0h0m-108 1h0m31 0h0m28 0h0m5 0h0m3 0h0m35 0h0m11 0h0m-85 1h0m4 0h0m8 0h0m29 0h0m25 0h0m23 0h0m1 0h0m-72 1h0m5 0h0m8 0h0m1 0h0m28 0h0m2 0h0m-37 1h0m5 0h0m11 0h0m2 0h0m19 0h0m-45 1h0m52 0h0m6 0h0m-51 1h0m4 0h0m-7 1h0m26 0h0m-38 1h0m17 0h0m8 0h0m1 0h0m7 0h0m5 0h0m25 0h0m22 0h0m-89 1h0m16 0h0m20 0h0m27 0h0m-56 1h0m-1 1h0m19 0h0m25 0h0m-10 1h0m22 0h0m29 0h0m-43 1h0m28 0h0m4 0h0m-60 1h0m28 0h0m-26 1h0m63 0h0m-78 1h0m79 0h0m-23 1h0m-50 1h0m-10 1h0m45 2h0m37 0h0m-1 1h0m-67 3h0m50 1h0m4 1h0m10 0h0m-1 1h0m-89 7h0m80 0h0m12 2h0m-10 4h0m6 2h0m-8 1h0m2 2h0m0 1h0m-4 4h0m-25 1h0m13 0h0m13 7h0m4 0h0m-3 9h0"/><path stroke="#00a6ff" d="M53 843h0m21 1h0m25 2h0m-24 3h0m2 1h0m26 0h0m7 1h0m-31 2h0m-24 1h0m0 0h0m63 0h0m-43 1h0m8 0h0m17 0h0m30 1h0m-55 1h0m27 0h0m-25 1h0m19 0h0m-20 1h0m3 0h0m14 0h0m2 1h0m3 0h0m3 0h0m5 0h0m0 0h0m-31 1h0m9 0h0m3 0h0m7 0h0m2 0h0m17 0h0m22 0h0m-54 1h0m16 0h0m2 0h0m37 0h0m6 0h0m1 0h0m-84 1h0m18 0h0m23 0h0m1 0h0m33 0h0m7 0h0m5 0h0m-86 1h0m14 0h0m24 0h0m13 0h0m4 0h0m3 0h0m22 0h0m6 0h0m-93 1h0m1 0h0m19 0h0m7 0h0m3 0h0m1 0h0m24 0h0m0 0h0m2 0h0m52 0h0m-87 1h0m6 0h0m8 0h0m6 0h0m2 0h0m21 0h0m33 0h0m-71 1h0m14 0h0m3 0h0m15 0h0m12 0h0m3 0h0m14 0h0m-59 1h0m2 0h0m19 0h0m45 0h0m-72 1h0m6 0h0m8 0h0m14 0h0m2 0h0m11 0h0m3 0h0m1 0h0m-42 1h0m5 0h0m4 0h0m10 0h0m3 0h0m13 0h0m1 0h0m7 0h0m-20 1h0m9 0h0m10 0h0m1 0h0m27 0h0m12 0h0m2 0h0m-77 1h0m22 0h0m11 0h0m3 0h0m2 0h0m2 0h0m6 0h0m2 0h0m20 0h0m0 0h0m11 0h0m-87 1h0m13 0h0m4 0h0m3 0h0m5 0h0m5 0h0m1 0h0m0 0h0m1 0h0m3 0h0m2 0h0m10 0h0m2 0h0m3 0h0m11 0h0m-62 1h0m4 0h0m3 0h0m50 0h0m20 0h0m2 0h0m-73 1h0m0 0h0m10 0h0m12 0h0m24 0h0m10 0h0m5 0h0m-57 1h0m10 0h0m2 0h0m5 0h0m12 0h0m2 0h0m4 0h0m5 0h0m5 0h0m2 0h0m1 0h0m10 0h0m18 0h0m-51 1h0m2 0h0m13 0h0m14 0h0m1 0h0m-64 1h0m3 0h0m3 0h0m7 0h0m6 0h0m15 0h0m2 0h0m17 0h0m15 0h0m-41 1h0m19 0h0m12 0h0m6 0h0m3 0h0m2 0h0m21 0h0m-82 1h0m40 0h0m7 0h0m4 0h0m2 0h0m13 0h0m-43 1h0m6 0h0m9 0h0m8 0h0m8 0h0m12 0h0m-65 1h0m4 0h0m7 0h0m4 0h0m4 0h0m1 0h0m11 0h0m1 0h0m1 0h0m17 0h0m8 0h0m9 0h0m-51 1h0m16 0h0m22 0h0m2 0h0m2 0h0m6 0h0m2 0h0m0 0h0m-49 1h0m18 0h0m7 0h0m15 0h0m2 0h0m4 0h0m1 0h0m3 0h0m4 0h0m-40 1h0m8 0h0m20 0h0m-41 1h0m1 0h0m24 0h0m6 0h0m15 0h0m1 0h0m-54 1h0m15 0h0m7 0h0m6 0h0m14 0h0m10 0h0m7 0h0m2 0h0m8 0h0m14 0h0m-69 1h0m9 0h0m5 0h0m3 0h0m3 0h0m3 0h0m1 0h0m16 0h0m6 0h0m5 0h0m6 0h0m-45 1h0m2 0h0m5 0h0m7 0h0m1 0h0m1 0h0m25 0h0m22 0h0m-100 1h0m23 0h0m4 0h0m1 0h0m7 0h0m31 0h0m4 0h0m-38 1h0m21 0h0m5 0h0m13 0h0m6 0h0m8 0h0m-67 1h0m22 0h0m5 0h0m7 0h0m11 0h0m12 0h0m10 0h0m1 0h0m-67 1h0m43 0h0m12 0h0m8 0h0m6 0h0m-73 1h0m26 0h0m2 0h0m5 0h0m19 0h0m0 0h0m2 0h0m6 0h0m18 0h0m-54 1h0m9 0h0m6 0h0m2 0h0m12 0h0m3 0h0m0 0h0m5 0h0m34 0h0m-72 1h0m1 0h0m12 0h0m18 0h0m9 0h0m1 0h0m3 0h0m-60 1h0m11 0h0m9 0h0m1 0h0m2 0h0m13 0h0m3 0h0m9 0h0m14 0h0m5 0h0m-64 1h0m10 0h0m14 0h0m4 0h0m3 0h0m5 0h0m0 0h0m5 0h0m19 0h0m2 0h0m3 0h0m-31 1h0m2 0h0m6 0h0m10 0h0m5 0h0m5 0h0m6 0h0m-70 1h0m1 0h0m31 0h0m5 0h0m4 0h0m5 0h0m1 0h0m5 0h0m-55 1h0m37 0h0m10 0h0m14 0h0m13 0h0m-55 1h0m4 0h0m1 0h0m24 0h0m14 0h0m12 0h0m-58 1h0m8 0h0m8 0h0m6 0h0m1 0h0m1 0h0m1 0h0m2 0h0m0 0h0m2 0h0m4 0h0m22 0h0m17 0h0m-91 1h0m23 0h0m8 0h0m15 0h0m26 0h0m-39 1h0m11 0h0m11 0h0m8 0h0m3 0h0m5 0h0m5 0h0m3 0h0m17 0h0m2 0h0m-87 1h0m17 0h0m3 0h0m20 0h0m4 0h0m0 0h0m3 0h0m12 0h0m7 0h0m9 0h0m-56 1h0m13 0h0m5 0h0m7 0h0m7 0h0m24 0h0m-130 1h0m74 0h0m5 0h0m1 0h0m5 0h0m11 0h0m2 0h0m18 0h0m-74 1h0m26 0h0m9 0h0m10 0h0m1 0h0m19 0h0m7 0h0m3 0h0m14 0h0m4 0h0m1 0h0m0 0h0m2 0h0m-67 1h0m16 0h0m5 0h0m14 0h0m18 0h0m0 0h0m42 0h0m-174 1h0m84 0h0m4 0h0m5 0h0m10 0h0m2 0h0m5 0h0m2 0h0m4 0h0m17 0h0m-103 1h0m59 0h0m2 0h0m8 0h0m10 0h0m5 0h0m10 0h0m1 0h0m-33 1h0m63 0h0m-70 1h0m10 0h0m10 0h0m9 0h0m5 0h0m-54 1h0m27 0h0m4 0h0m6 0h0m6 0h0m2 0h0m2 0h0m11 0h0m8 0h0m-41 1h0m6 0h0m20 0h0m2 0h0m1 0h0m1 0h0m-88 1h0m61 0h0m9 0h0m7 0h0m8 0h0m1 0h0m13 0h0m4 0h0m6 0h0m6 0h0m-73 1h0m27 0h0m18 0h0m2 0h0m15 0h0m-88 1h0m10 0h0m19 0h0m28 0h0m33 0h0m-67 1h0m14 0h0m26 0h0m10 0h0m8 0h0m-68 1h0m3 0h0m12 0h0m10 0h0m19 0h0m1 0h0m3 0h0m2 0h0m44 0h0m5 0h0m-118 1h0m32 0h0m4 0h0m3 0h0m24 0h0m2 0h0m11 0h0m10 0h0m39 0h0m-127 1h0m29 0h0m93 0h0m-99 1h0m3 0h0m8 0h0m11 0h0m1 0h0m22 0h0m5 0h0m6 0h0m-57 1h0m5 0h0m3 0h0m2 0h0m11 0h0m33 0h0m5 0h0m13 0h0m7 0h0m-82 1h0m6 0h0m9 0h0m5 0h0m6 0h0m-45 1h0m32 0h0m7 0h0m5 0h0m4 0h0m36 0h0m-78 1h0m28 0h0m2 0h0m2 0h0m8 0h0m5 0h0m1 0h0m9 0h0m25 0h0m3 0h0m-87 1h0m14 0h0m3 0h0m21 0h0m4 0h0m4 0h0m1 0h0m4 0h0m1 0h0m0 0h0m9 0h0m19 0h0m3 0h0m16 0h0m-86 1h0m17 0h0m3 0h0m13 0h0m32 0h0m-40 1h0m12 0h0m2 0h0m3 0h0m6 0h0m3 0h0m2 0h0m16 0h0m-69 1h0m20 0h0m6 0h0m24 0h0m6 0h0m31 0h0m-83 1h0m53 0h0m17 0h0m16 0h0m-101 1h0m12 0h0m2 0h0m4 0h0m1 0h0m9 0h0m1 0h0m9 0h0m12 0h0m14 0h0m6 0h0m24 0h0m3 0h0m-89 1h0m10 0h0m13 0h0m1 0h0m13 0h0m28 0h0m27 0h0m-83 1h0m3 0h0m1 0h0m4 0h0m6 0h0m5 0h0m11 0h0m20 0h0m4 0h0m31 0h0m-91 1h0m2 0h0m1 0h0m11 0h0m15 0h0m1 0h0m9 0h0m7 0h0m14 0h0m4 0h0m-75 1h0m5 0h0m2 0h0m15 0h0m6 0h0m13 0h0m18 0h0m2 0h0m1 0h0m18 0h0m24 0h0m1 0h0m3 0h0m-84 1h0m5 0h0m4 0h0m1 0h0m39 0h0m3 0h0m2 0h0m-69 1h0m8 0h0m30 0h0m11 0h0m22 0h0m31 0h0m-102 1h0m3 0h0m4 0h0m34 0h0m18 0h0m3 0h0m1 0h0m12 0h0m-64 1h0m7 0h0m0 0h0m16 0h0m12 0h0m5 0h0m2 0h0m4 0h0m3 0h0m1 0h0m4 0h0m2 0h0m8 0h0m2 0h0m27 0h0m-83 1h0m5 0h0m13 0h0m9 0h0m1 0h0m2 0h0m14 0h0m4 0h0m3 0h0m11 0h0m-97 1h0m17 0h0m21 0h0m12 0h0m15 0h0m9 0h0m8 0h0m1 0h0m12 0h0m-51 1h0m11 0h0m5 0h0m16 0h0m3 0h0m-58 1h0m14 0h0m13 0h0m25 0h0m16 0h0m9 0h0m17 0h0m-32 1h0m12 0h0m7 0h0m-5 1h0m-46 1h0m10 0h0m7 0h0m10 0h0m6 0h0m9 0h0m7 0h0m1 0h0m6 0h0m-102 1h0m55 0h0m14 0h0m11 0h0m2 0h0m-32 1h0m21 0h0m16 0h0m2 0h0m1 0h0m2 0h0m-79 1h0m55 0h0m7 0h0m5 0h0m15 0h0m-49 1h0m8 0h0m8 0h0m1 0h0m7 0h0m1 0h0m6 0h0m4 0h0m3 0h0m4 0h0m5 0h0m13 0h0m-33 1h0m6 0h0m10 0h0m10 0h0m5 0h0m36 0h0m-89 1h0m23 0h0m7 0h0m4 0h0m1 0h0m4 0h0m2 0h0m15 0h0m-29 1h0m1 0h0m21 0h0m2 0h0m-51 1h0m39 0h0m1 0h0m10 0h0m2 0h0m-10 1h0m-26 1h0m15 0h0m-24 1h0m6 0h0m15 0h0m24 1h0m-41 1h0m1 0h0m27 0h0m19 0h0m-39 1h0m12 0h0m27 1h0m-18 3h0m-7 1h0m19 1h0m11 2h0m-61 2h0m57 1h0m6 1h0m11 0h0m4 4h0m-41 3h0m44 0h0m-21 2h0m4 0h0m-20 1h0m19 2h0m-9 3h0m-9 3h0m23 0h0m-11 1h0m-1 6h0m11 0h0m-20 1h0m16 2h0"/><path stroke="#00bfff" d="M64 847h0m-5 8h0m13 4h0m20 1h0m39 0h0m4 0h0m-74 1h0m22 0h0m23 0h0m4 0h0m-28 1h0m60 0h0m-67 1h0m12 0h0m21 0h0m6 0h0m-48 1h0m30 0h0m11 0h0m13 0h0m-38 1h0m25 0h0m37 0h0m-89 1h0m37 0h0m4 0h0m10 0h0m-28 1h0m4 0h0m5 0h0m10 0h0m5 0h0m0 0h0m15 0h0m27 0h0m11 0h0m-64 1h0m3 0h0m4 0h0m58 0h0m-72 1h0m47 0h0m-45 1h0m8 0h0m26 0h0m9 0h0m-25 1h0m12 0h0m20 0h0m-44 1h0m28 0h0m2 0h0m1 0h0m-46 1h0m4 0h0m4 0h0m12 0h0m3 0h0m24 0h0m28 0h0m8 0h0m3 0h0m-78 1h0m9 0h0m8 0h0m0 0h0m3 0h0m59 0h0m-93 1h0m10 0h0m9 0h0m8 0h0m17 0h0m-33 1h0m8 0h0m19 0h0m8 0h0m0 0h0m-27 1h0m0 0h0m10 0h0m2 0h0m8 0h0m1 0h0m-22 1h0m20 0h0m40 0h0m-75 1h0m16 0h0m8 0h0m13 0h0m11 0h0m-39 1h0m2 0h0m2 0h0m9 0h0m8 0h0m1 0h0m7 0h0m8 0h0m1 0h0m0 0h0m2 0h0m6 0h0m11 0h0m8 0h0m-32 1h0m8 0h0m6 0h0m2 0h0m-70 1h0m24 0h0m21 0h0m3 0h0m12 0h0m10 0h0m16 0h0m-43 1h0m3 0h0m13 0h0m2 0h0m1 0h0m1 0h0m8 0h0m10 0h0m-49 1h0m7 0h0m14 0h0m17 0h0m2 0h0m57 0h0m-89 1h0m12 0h0m6 0h0m6 0h0m11 0h0m10 0h0m15 0h0m-71 1h0m4 0h0m4 0h0m6 0h0m12 0h0m4 0h0m9 0h0m20 0h0m-52 1h0m26 0h0m6 0h0m0 0h0m18 0h0m1 0h0m3 0h0m-41 1h0m58 0h0m-87 1h0m21 0h0m10 0h0m2 0h0m3 0h0m2 0h0m1 0h0m2 0h0m10 0h0m12 0h0m1 0h0m11 0h0m9 0h0m-78 1h0m8 0h0m16 0h0m-22 1h0m30 0h0m11 0h0m1 0h0m1 0h0m2 0h0m3 0h0m5 0h0m5 0h0m1 0h0m19 0h0m-75 1h0m3 0h0m21 0h0m6 0h0m2 0h0m2 0h0m32 0h0m2 0h0m1 0h0m-64 1h0m14 0h0m1 0h0m11 0h0m1 0h0m1 0h0m12 0h0m2 0h0m14 0h0m-39 1h0m14 0h0m5 0h0m5 0h0m15 0h0m-45 1h0m4 0h0m5 0h0m2 0h0m0 0h0m3 0h0m-13 1h0m31 0h0m4 0h0m6 0h0m6 0h0m19 0h0m-35 1h0m2 0h0m5 0h0m9 0h0m-47 1h0m13 0h0m7 0h0m10 0h0m-4 1h0m12 0h0m6 0h0m4 0h0m3 0h0m6 0h0m7 0h0m11 0h0m-71 1h0m2 0h0m1 0h0m6 0h0m5 0h0m3 0h0m36 0h0m1 0h0m-57 1h0m30 0h0m4 0h0m7 0h0m18 0h0m-64 1h0m8 0h0m5 0h0m15 0h0m4 0h0m2 0h0m14 0h0m35 0h0m-80 1h0m38 0h0m12 0h0m-66 1h0m12 0h0m32 0h0m30 0h0m3 0h0m-72 1h0m4 0h0m15 0h0m22 0h0m2 0h0m10 0h0m8 0h0m27 0h0m-107 1h0m20 0h0m28 0h0m4 0h0m27 0h0m5 0h0m2 0h0m-70 1h0m11 0h0m23 0h0m3 0h0m12 0h0m1 0h0m9 0h0m3 0h0m19 0h0m-113 1h0m34 0h0m36 0h0m5 0h0m8 0h0m2 0h0m27 0h0m-80 1h0m34 0h0m15 0h0m-43 1h0m2 0h0m16 0h0m19 0h0m3 0h0m7 0h0m12 0h0m1 0h0m-105 1h0m75 0h0m2 0h0m4 0h0m21 0h0m-80 1h0m15 0h0m3 0h0m51 0h0m3 0h0m5 0h0m-91 1h0m8 0h0m20 0h0m1 0h0m4 0h0m53 0h0m3 0h0m-55 1h0m6 0h0m43 0h0m7 0h0m-62 1h0m3 0h0m58 0h0m-68 1h0m9 0h0m57 0h0m0 1h0m-59 1h0m71 0h0m-65 1h0m17 0h0m12 0h0m-8 1h0m18 0h0m37 0h0m-74 1h0m9 0h0m26 0h0m22 0h0m1 0h0m-68 1h0m0 0h0m7 0h0m35 0h0m1 0h0m4 0h0m6 0h0m-18 1h0m0 0h0m12 0h0m5 0h0m-29 1h0m55 0h0m-87 1h0m19 0h0m29 0h0m6 0h0m-43 1h0m2 0h0m2 0h0m9 0h0m2 0h0m23 0h0m8 0h0m3 0h0m-48 1h0m5 0h0m19 0h0m9 0h0m42 0h0m-73 1h0m4 0h0m33 0h0m65 0h0m-108 1h0m13 0h0m35 0h0m17 0h0m-91 1h0m38 0h0m10 0h0m12 0h0m10 0h0m3 0h0m1 0h0m18 0h0m-63 1h0m10 0h0m1 0h0m23 0h0m3 0h0m1 0h0m5 0h0m7 0h0m1 0h0m5 0h0m8 0h0m5 0h0m-62 1h0m1 0h0m10 0h0m1 0h0m9 0h0m67 0h0m-94 1h0m1 0h0m3 0h0m8 0h0m16 0h0m0 0h0m13 0h0m4 0h0m12 0h0m5 0h0m1 0h0m8 0h0m-61 1h0m55 0h0m12 0h0m-93 1h0m45 0h0m13 0h0m5 0h0m19 0h0m-78 1h0m32 0h0m2 0h0m41 0h0m5 0h0m-60 1h0m7 0h0m16 0h0m3 0h0m13 0h0m23 0h0m-65 1h0m4 0h0m7 0h0m6 0h0m7 0h0m1 0h0m2 0h0m9 0h0m10 0h0m1 0h0m18 0h0m0 0h0m2 0h0m9 0h0m2 0h0m-68 1h0m4 0h0m16 0h0m5 0h0m7 0h0m1 0h0m1 0h0m1 0h0m12 0h0m1 0h0m4 0h0m17 0h0m-96 1h0m9 0h0m19 0h0m5 0h0m5 0h0m14 0h0m1 0h0m1 0h0m0 0h0m5 0h0m3 0h0m4 0h0m11 0h0m12 0h0m38 0h0m-129 1h0m32 0h0m7 0h0m12 0h0m9 0h0m10 0h0m4 0h0m6 0h0m4 0h0m24 0h0m-79 1h0m4 0h0m12 0h0m43 0h0m18 0h0m-70 1h0m1 0h0m3 0h0m8 0h0m17 0h0m0 0h0m33 0h0m-69 1h0m8 0h0m2 0h0m16 0h0m4 0h0m9 0h0m10 0h0m4 0h0m6 0h0m22 0h0m-69 1h0m3 0h0m16 0h0m10 0h0m5 0h0m19 0h0m5 0h0m8 0h0m0 0h0m-102 1h0m39 0h0m5 0h0m9 0h0m2 0h0m10 0h0m2 0h0m4 0h0m1 0h0m6 0h0m6 0h0m1 0h0m9 0h0m12 0h0m-70 1h0m3 0h0m34 0h0m24 0h0m5 0h0m1 0h0m5 0h0m4 0h0m-108 1h0m39 0h0m8 0h0m23 0h0m12 0h0m2 0h0m6 0h0m8 0h0m1 0h0m9 0h0m-76 1h0m19 0h0m6 0h0m6 0h0m9 0h0m2 0h0m3 0h0m10 0h0m9 0h0m-42 1h0m4 0h0m26 0h0m1 0h0m1 0h0m3 0h0m24 0h0m0 0h0m-74 1h0m20 0h0m3 0h0m0 0h0m10 0h0m3 0h0m15 0h0m1 0h0m1 0h0m1 0h0m13 0h0m-101 1h0m3 0h0m3 0h0m57 0h0m3 0h0m6 0h0m21 0h0m15 0h0m-93 1h0m35 0h0m11 0h0m1 0h0m3 0h0m18 0h0m4 0h0m1 0h0m2 0h0m7 0h0m5 0h0m2 0h0m-85 1h0m44 0h0m6 0h0m6 0h0m13 0h0m1 0h0m3 0h0m9 0h0m-79 1h0m26 0h0m12 0h0m5 0h0m5 0h0m1 0h0m22 0h0m5 0h0m35 0h0m-78 1h0m15 0h0m3 0h0m10 0h0m13 0h0m3 0h0m11 0h0m-42 1h0m14 0h0m11 0h0m5 0h0m5 0h0m-67 1h0m15 0h0m2 0h0m4 0h0m0 0h0m2 0h0m5 0h0m2 0h0m8 0h0m3 0h0m3 0h0m2 0h0m13 0h0m4 0h0m3 0h0m7 0h0m0 0h0m-73 1h0m23 0h0m2 0h0m5 0h0m5 0h0m2 0h0m10 0h0m3 0h0m7 0h0m8 0h0m-26 1h0m4 0h0m4 0h0m6 0h0m13 0h0m-75 1h0m9 0h0m34 0h0m17 0h0m21 0h0m5 0h0m-79 1h0m39 0h0m5 0h0m7 0h0m3 0h0m16 0h0m-40 1h0m6 0h0m4 0h0m1 0h0m6 0h0m1 0h0m2 0h0m16 0h0m6 0h0m-35 1h0m2 0h0m0 0h0m13 0h0m8 0h0m1 0h0m-60 1h0m62 0h0m3 0h0m13 0h0m-35 1h0m11 0h0m12 0h0m6 0h0m6 0h0m-22 1h0m15 0h0m-30 1h0m29 0h0m10 0h0m5 0h0m-26 1h0m-38 1h0m43 0h0m20 0h0m-34 1h0m9 0h0m-51 1h0m19 0h0m-10 1h0m12 0h0m32 0h0m14 0h0m5 0h0m-65 1h0m52 1h0m-1 1h0m6 0h0m7 1h0m-8 1h0m4 0h0m1 0h0m-48 1h0m48 0h0m9 0h0m-46 1h0m45 0h0m-5 1h0m7 1h0m-85 1h0m50 0h0m6 0h0m-9 1h0m1 1h0m15 0h0m20 1h0m-32 3h0m15 0h0m7 1h0m-56 1h0m67 3h0m3 1h0m-17 1h0m-6 2h0m-1 1h0m14 1h0m4 0h0m-2 1h0m10 2h0m0 1h0m-4 1h0m6 3h0m-2 1h0m-2 2h0"/><path stroke="#00d9ff" d="M62 846h0m-2 18h0m26 2h0m21 1h0m-38 2h0m9 0h0m13 0h0m-3 1h0m-34 1h0m32 0h0m5 1h0m8 0h0m8 0h0m21 0h0m11 0h0m-56 1h0m40 0h0m-45 1h0m-14 1h0m53 0h0m-37 1h0m15 0h0m4 0h0m-17 1h0m11 0h0m30 0h0m7 1h0m-61 1h0m24 1h0m1 0h0m8 1h0m3 0h0m13 0h0m4 0h0m-21 1h0m1 1h0m14 0h0m43 0h0m-104 1h0m34 1h0m11 0h0m4 0h0m15 0h0m-27 1h0m2 0h0m7 0h0m28 0h0m-33 1h0m3 0h0m15 0h0m2 0h0m-27 1h0m13 0h0m32 0h0m-36 1h0m7 0h0m10 0h0m36 0h0m-42 1h0m4 0h0m2 0h0m13 0h0m1 0h0m-45 2h0m6 0h0m5 0h0m11 0h0m27 0h0m-39 1h0m1 0h0m2 0h0m21 0h0m3 0h0m32 0h0m-51 1h0m9 0h0m3 0h0m7 0h0m5 0h0m3 0h0m-62 1h0m33 0h0m17 0h0m2 0h0m10 0h0m8 0h0m-78 2h0m14 1h0m52 0h0m2 0h0m10 0h0m-9 1h0m27 0h0m13 0h0m-75 1h0m22 0h0m2 0h0m3 0h0m-14 2h0m63 0h0m-48 1h0m7 0h0m-32 1h0m7 0h0m19 0h0m2 0h0m-71 1h0m66 0h0m3 0h0m26 0h0m-56 1h0m1 0h0m6 0h0m6 0h0m11 0h0m12 1h0m25 0h0m13 0h0m-67 1h0m41 0h0m-45 1h0m24 2h0m34 0h0m-89 1h0m-11 1h0m47 0h0m-21 2h0m20 0h0m4 0h0m-45 1h0m38 0h0m6 0h0m14 0h0m-37 1h0m16 0h0m4 0h0m-3 1h0m-12 1h0m35 0h0m9 0h0m-40 1h0m78 0h0m-97 1h0m25 0h0m17 0h0m29 0h0m-61 1h0m10 0h0m3 0h0m7 0h0m-42 2h0m22 0h0m14 0h0m-38 2h0m58 0h0m-18 1h0m6 0h0m35 0h0m8 0h0m-52 1h0m5 0h0m3 0h0m2 0h0m10 0h0m6 0h0m-18 1h0m11 0h0m-47 1h0m46 0h0m25 0h0m-38 1h0m11 0h0m6 0h0m-23 1h0m2 0h0m0 1h0m8 0h0m27 1h0m25 0h0m-56 1h0m1 0h0m2 0h0m14 0h0m5 0h0m55 0h0m-73 1h0m26 0h0m31 0h0m-53 1h0m-25 1h0m0 0h0m20 0h0m6 0h0m10 0h0m-30 1h0m48 0h0m12 0h0m-55 1h0m12 0h0m41 0h0m-35 1h0m27 0h0m6 0h0m-51 1h0m14 0h0m29 0h0m41 0h0m-52 1h0m14 0h0m-26 1h0m2 0h0m12 0h0m3 0h0m4 0h0m2 0h0m14 0h0m-28 1h0m3 0h0m12 0h0m15 0h0m-65 1h0m57 0h0m8 0h0m7 0h0m-69 1h0m12 0h0m26 0h0m4 0h0m2 0h0m31 0h0m34 0h0m-106 1h0m11 0h0m27 0h0m15 0h0m-11 1h0m4 0h0m6 0h0m-36 1h0m19 0h0m3 0h0m9 0h0m11 0h0m6 0h0m-27 1h0m6 0h0m18 0h0m-20 1h0m1 0h0m4 0h0m4 0h0m3 0h0m1 0h0m17 0h0m1 0h0m6 0h0m-29 1h0m14 0h0m1 0h0m17 0h0m-59 1h0m25 0h0m2 0h0m47 0h0m9 0h0m2 0h0m-59 1h0m3 0h0m9 0h0m-13 1h0m8 0h0m14 0h0m3 0h0m4 0h0m4 0h0m8 0h0m15 0h0m-84 1h0m6 0h0m5 0h0m4 0h0m53 0h0m5 0h0m0 0h0m4 0h0m3 0h0m-76 1h0m37 0h0m10 0h0m32 0h0m7 0h0m7 0h0m2 0h0m-92 1h0m35 0h0m1 0h0m6 0h0m2 0h0m16 0h0m31 0h0m0 0h0m-53 1h0m24 0h0m4 0h0m5 0h0m5 0h0m2 0h0m-78 1h0m41 0h0m3 0h0m1 0h0m5 0h0m9 0h0m3 0h0m2 0h0m-6 1h0m25 0h0m-76 1h0m51 0h0m11 0h0m3 0h0m3 0h0m11 0h0m8 0h0m-95 1h0m3 0h0m42 0h0m12 0h0m15 0h0m5 0h0m2 0h0m14 0h0m2 0h0m-92 1h0m61 0h0m3 0h0m1 0h0m2 0h0m6 0h0m16 0h0m0 0h0m-33 1h0m7 0h0m8 0h0m6 0h0m0 0h0m-69 1h0m5 0h0m57 0h0m13 0h0m-30 1h0m1 0h0m2 0h0m4 0h0m2 0h0m8 0h0m2 0h0m6 0h0m2 0h0m7 0h0m-63 1h0m9 0h0m24 0h0m7 0h0m15 0h0m4 0h0m-63 1h0m19 0h0m19 0h0m19 0h0m7 0h0m3 0h0m2 0h0m-19 1h0m11 0h0m1 0h0m4 0h0m8 0h0m-72 1h0m39 0h0m1 0h0m6 0h0m4 0h0m20 0h0m-58 1h0m37 0h0m4 0h0m11 0h0m-9 1h0m13 0h0m2 0h0m0 0h0m1 0h0m-40 1h0m35 0h0m6 0h0m-14 1h0m3 0h0m9 0h0m1 0h0m-49 1h0m34 0h0m4 0h0m6 0h0m2 0h0m4 0h0m1 0h0m-54 1h0m2 0h0m2 0h0m46 0h0m-60 1h0m52 0h0m9 0h0m-5 1h0m3 0h0m1 1h0m1 0h0m2 0h0m-39 1h0m5 0h0m30 0h0m2 0h0m-76 1h0m27 0h0m8 0h0m2 0h0m-3 2h0m2 0h0m21 1h0m-11 2h0m9 3h0m3 0h0m2 1h0m1 0h0m8 0h0m-28 1h0m25 0h0m-43 1h0m54 3h0m-2 2h0m2 0h0m-9 1h0m6 2h0m2 0h0m8 10h0"/><path stroke="#00f2ff" d="M102 869h0m-36 2h0m23 4h0m14 0h0m-15 4h0m10 2h0m6 3h0m4 0h0m-16 2h0m34 0h0m-41 1h0m5 0h0m22 0h0m5 1h0m8 0h0m-28 1h0m10 0h0m-43 1h0m49 1h0m6 0h0m1 0h0m-28 1h0m27 0h0m8 2h0m-66 2h0m2 1h0m7 2h0m49 0h0m-67 2h0m23 1h0m-18 1h0m37 1h0m13 0h0m-10 2h0m-20 2h0m26 0h0m81 0h0m-130 1h0m-1 1h0m79 0h0m2 0h0m-60 3h0m-17 1h0m-2 1h0m22 2h0m17 2h0m31 0h0m-41 3h0m-24 1h0m8 1h0m23 0h0m6 0h0m2 3h0m2 1h0m4 0h0m-31 3h0m-4 2h0m29 1h0m3 0h0m-24 4h0m39 4h0m0 1h0m14 0h0m-12 3h0m19 0h0m5 0h0m-5 1h0m-4 2h0m16 0h0m-52 1h0m5 1h0m44 0h0m20 1h0m24 0h0m-94 1h0m12 1h0m38 0h0m-44 1h0m82 0h0m-81 1h0m1 0h0m44 0h0m53 1h0m4 0h0m-99 1h0m1 1h0m19 1h0m44 1h0m1 0h0m18 0h0m2 0h0m7 0h0m-83 1h0m63 0h0m-20 1h0m50 0h0m-20 1h0m11 0h0m1 0h0m-81 2h0m4 0h0m57 0h0m2 0h0m11 0h0m-18 1h0m5 0h0m12 0h0m-1 1h0m15 0h0m-24 1h0m20 0h0m6 0h0m1 0h0m-11 1h0m3 0h0m-61 1h0m5 0h0m58 0h0m-74 1h0m63 0h0m5 1h0m1 0h0m-6 1h0m13 0h0m-48 1h0m45 0h0m5 0h0m-70 1h0m18 0h0m52 1h0m-45 1h0m42 0h0m0 0h0m2 0h0m7 2h0m-81 2h0m22 0h0m58 0h0m-77 2h0m40 0h0m-37 1h0m55 1h0m-2 3h0m8 3h0m-28 2h0m1 2h0m30 0h0m16 2h0m-7 3h0m-7 3h0"/><path stroke="#0dfff2" d="M82 883h0m40 8h0m-68 13h0m10 1h0m30 1h0m-16 6h0m4 7h0m-9 11h0m-4 5h0m50 25h0m-3 1h0m5 2h0m74 2h0m6 2h0m-17 1h0m-5 1h0m-31 1h0m9 0h0m49 1h0m-64 2h0m62 0h0m-9 1h0m9 0h0m-55 6h0m8 1h0m-26 3h0m30 7h0"/></g>
<ellipse cx="54.0" cy="181.3" rx="5.9" ry="9.5" transform="rotate(15 54.0 181.3)" fill="none" stroke="#e02020" stroke-width="1.5"/>
<ellipse cx="54.0" cy="319.9" rx="5.9" ry="9.5" transform="rotate(15 54.0 319.9)" fill="none" stroke="#e02020" stroke-width="1.5"/>
<ellipse cx="54.0" cy="458.5" rx="5.9" ry="9.5" transform="rotate(15 54.0 458.5)" fill="none" stroke="#e02020" stroke-width="1.5"/>
<polygon points="215.0,50.5 226.0,50.3 229.0,47.5 240.0,47.0 255.0,46.0 263.0,45.0 275.0,41.5 285.0,37.5 297.0,32.0 313.0,31.0 325.0,34.0 325.0,48.5 313.0,52.5 297.0,55.5 283.0,56.5 263.0,56.0 255.0,55.8 240.0,55.5 229.0,55.0 226.0,53.5 215.0,53.2" fill="#0000ff"/><polygon points="215.0,207.2 228.0,207.1 248.0,208.1 262.0,207.6 275.0,205.1 283.0,204.6 295.0,207.6 303.0,212.6 313.0,217.1 324.0,220.1 324.0,240.1 313.0,239.6 303.0,237.6 295.0,235.1 283.0,234.1 275.0,233.1 262.0,230.1 248.0,225.6 228.0,217.6 215.0,211.1" fill="#0000ff"/><polygon points="216.0,343.3 228.0,340.2 248.0,338.2 262.0,335.7 273.0,335.7 283.0,334.2 297.0,332.7 313.0,335.5 324.5,337.7 324.5,347.7 313.0,353.7 297.0,357.2 283.0,362.7 273.0,363.2 262.0,358.7 248.0,353.2 228.0,347.7 216.0,344.3" fill="#0000ff"/><polygon points="216.0,480.9 228.0,481.3 248.0,481.4 262.0,478.8 273.0,477.4 283.0,476.3 293.0,477.3 303.0,479.8 313.0,483.8 324.0,488.8 324.0,514.8 315.5,511.8 312.0,505.8 308.0,500.3 300.0,499.3 293.0,499.8 282.0,503.8 279.5,512.8 270.3,512.8 268.0,497.8 262.0,495.3 248.0,491.3 228.0,488.3 216.0,482.3" fill="#0000ff"/>
<g transform="scale(0.5)" stroke-width="1.6" stroke-linecap="square" fill="none" opacity="1.0"><path stroke="#0000ff" d="M629 40h0m-34 2h0m49 3h0m-17 1h0m-34 2h0m29 1h0m16 0h0m-37 2h0m17 1h0m6 0h0m2 0h0m3 0h0m8 0h0m-47 1h0m12 0h0m4 0h0m1 0h0m2 0h0m2 0h0m2 0h0m2 0h0m3 0h0m1 0h0m7 0h0m1 0h0m-33 1h0m4 0h0m2 0h0m7 0h0m1 0h0m1 0h0m4 0h0m5 0h0m4 0h0m1 0h0m6 0h0m6 0h0m-41 1h0m1 0h0m4 0h0m8 0h0m2 0h0m1 0h0m1 0h0m3 0h0m3 0h0m3 0h0m2 0h0m3 0h0m2 0h0m1 0h0m1 0h0m3 0h0m2 0h0m2 0h0m1 0h0m-48 1h0m2 0h0m1 0h0m4 0h0m11 0h0m1 0h0m1 0h0m1 0h0m2 0h0m3 0h0m2 0h0m4 0h0m3 0h0m2 0h0m3 0h0m1 0h0m1 0h0m5 0h0m5 0h0m6 0h0m-57 1h0m1 0h0m1 0h0m2 0h0m5 0h0m1 0h0m2 0h0m1 0h0m2 0h0m2 0h0m9 0h0m2 0h0m3 0h0m2 0h0m4 0h0m1 0h0m1 0h0m1 0h0m2 0h0m1 0h0m3 0h0m4 0h0m3 0h0m-70 1h0m12 0h0m1 0h0m1 0h0m2 0h0m5 0h0m2 0h0m3 0h0m3 0h0m1 0h0m1 0h0m2 0h0m3 0h0m1 0h0m1 0h0m1 0h0m8 0h0m4 0h0m1 0h0m2 0h0m3 0h0m3 0h0m1 0h0m2 0h0m6 0h0m-67 1h0m8 0h0m6 0h0m2 0h0m1 0h0m1 0h0m1 0h0m1 0h0m1 0h0m3 0h0m4 0h0m1 0h0m1 0h0m4 0h0m4 0h0m3 0h0m2 0h0m2 0h0m1 0h0m2 0h0m2 0h0m1 0h0m1 0h0m4 0h0m1 0h0m1 0h0m1 0h0m1 0h0m1 0h0m2 0h0m1 0h0m1 0h0m1 0h0m6 0h0m1 0h0m-66 1h0m1 0h0m3 0h0m1 0h0m3 0h0m2 0h0m2 0h0m2 0h0m2 0h0m1 0h0m5 0h0m1 0h0m3 0h0m1 0h0m1 0h0m1 0h0m1 0h0m2 0h0m1 0h0m3 0h0m1 0h0m1 0h0m2 0h0m3 0h0m1 0h0m1 0h0m1 0h0m1 0h0m1 0h0m1 0h0m1 0h0m1 0h0m1 0h0m2 0h0m2 0h0m2 0h0m3 0h0m1 0h0m1 0h0m3 0h0m4 0h0m1 0h0m-65 1h0m2 0h0m2 0h0m1 0h0m3 0h0m1 0h0m2 0h0m2 0h0m2 0h0m2 0h0m2 0h0m2 0h0m1 0h0m1 0h0m3 0h0m1 0h0m1 0h0m2 0h0m1 0h0m1 0h0m1 0h0m1 0h0m1 0h0m3 0h0m1 0h0m1 0h0m2 0h0m1 0h0m6 0h0m3 0h0m1 0h0m3 0h0m6 0h0m2 0h0m-69 1h0m1 0h0m1 0h0m2 0h0m5 0h0m3 0h0m3 0h0m1 0h0m1 0h0m1 0h0m2 0h0m2 0h0m2 0h0m2 0h0m1 0h0m2 0h0m1 0h0m2 0h0m1 0h0m1 0h0m1 0h0m2 0h0m3 0h0m1 0h0m1 0h0m2 0h0m1 0h0m1 0h0m1 0h0m1 0h0m1 0h0m1 0h0m1 0h0m2 0h0m1 0h0m3 0h0m2 0h0m1 0h0m1 0h0m1 0h0m3 0h0m1 0h0m1 0h0m1 0h0m1 0h0m1 0h0m-74 1h0m1 0h0m3 0h0m5 0h0m2 0h0m1 0h0m2 0h0m2 0h0m2 0h0m1 0h0m2 0h0m1 0h0m2 0h0m1 0h0m2 0h0m1 0h0m2 0h0m1 0h0m21 0h0m2 0h0m1 0h0m2 0h0m1 0h0m1 0h0m1 0h0m1 0h0m1 0h0m1 0h0m2 0h0m1 0h0m1 0h0m1 0h0m1 0h0m1 0h0m1 0h0m-74 1h0m1 0h0m5 0h0m1 0h0m4 0h0m1 0h0m2 0h0m1 0h0m1 0h0m1 0h0m1 0h0m41 0h0m1 0h0m1 0h0m1 0h0m1 0h0m1 0h0m1 0h0m1 0h0m1 0h0m1 0h0m1 0h0m2 0h0m3 0h0m3 0h0m-79 1h0m1 0h0m6 0h0m3 0h0m3 0h0m3 0h0m1 0h0m48 0h0m1 0h0m2 0h0m1 0h0m1 0h0m2 0h0m2 0h0m1 0h0m1 0h0m3 0h0m-100 1h0m22 0h0m2 0h0m1 0h0m2 0h0m1 0h0m1 0h0m1 0h0m2 0h0m1 0h0m1 0h0m1 0h0m55 0h0m3 0h0m4 0h0m1 0h0m2 0h0m-79 1h0m2 0h0m1 0h0m1 0h0m2 0h0m2 0h0m1 0h0m2 0h0m1 0h0m1 0h0m60 0h0m4 0h0m1 0h0m1 0h0m-84 1h0m1 0h0m1 0h0m2 0h0m5 0h0m1 0h0m1 0h0m2 0h0m1 0h0m2 0h0m66 0h0m1 0h0m1 0h0m-85 1h0m1 0h0m1 0h0m3 0h0m4 0h0m1 0h0m2 0h0m71 0h0m-101 1h0m18 0h0m3 0h0m2 0h0m1 0h0m1 0h0m2 0h0m2 0h0m72 0h0m1 0h0m-90 1h0m5 0h0m1 0h0m2 0h0m6 0h0m1 0h0m74 0h0m-91 1h0m1 0h0m1 0h0m2 0h0m2 0h0m3 0h0m1 0h0m2 0h0m1 0h0m1 0h0m1 0h0m1 0h0m-18 1h0m2 0h0m1 0h0m6 0h0m1 0h0m2 0h0m1 0h0m80 0h0m2 0h0m-198 1h0m31 0h0m70 0h0m1 0h0m3 0h0m2 0h0m2 0h0m4 0h0m1 0h0m1 0h0m1 0h0m80 0h0m1 0h0m-195 1h0m96 0h0m1 0h0m7 0h0m1 0h0m1 0h0m3 0h0m1 0h0m2 0h0m83 0h0m1 0h0m-98 1h0m2 0h0m1 0h0m1 0h0m2 0h0m2 0h0m1 0h0m2 0h0m1 0h0m84 0h0m-101 1h0m3 0h0m2 0h0m2 0h0m2 0h0m3 0h0m3 0h0m87 0h0m-197 1h0m94 0h0m4 0h0m2 0h0m1 0h0m1 0h0m5 0h0m89 0h0m1 0h0m-108 1h0m4 0h0m1 0h0m3 0h0m2 0h0m2 0h0m1 0h0m2 0h0m1 0h0m92 0h0m-195 1h0m75 0h0m3 0h0m7 0h0m1 0h0m1 0h0m2 0h0m1 0h0m1 0h0m1 0h0m2 0h0m1 0h0m3 0h0m96 0h0m1 0h0m1 0h0m-198 1h0m56 0h0m15 0h0m15 0h0m5 0h0m1 0h0m2 0h0m1 0h0m1 0h0m2 0h0m1 0h0m98 0h0m-196 1h0m80 0h0m1 0h0m1 0h0m3 0h0m2 0h0m2 0h0m1 0h0m1 0h0m1 0h0m2 0h0m1 0h0m100 0h0m2 0h0m-196 1h0m46 0h0m35 0h0m3 0h0m2 0h0m2 0h0m1 0h0m2 0h0m1 0h0m1 0h0m102 0h0m1 0h0m-197 1h0m73 0h0m1 0h0m5 0h0m1 0h0m1 0h0m1 0h0m3 0h0m1 0h0m1 0h0m2 0h0m107 0h0m1 0h0m-198 1h0m32 0h0m40 0h0m6 0h0m2 0h0m1 0h0m4 0h0m1 0h0m110 0h0m1 0h0m-195 1h0m40 0h0m23 0h0m1 0h0m4 0h0m3 0h0m1 0h0m5 0h0m1 0h0m1 0h0m115 0h0m1 0h0m1 0h0m-198 1h0m58 0h0m3 0h0m3 0h0m1 0h0m5 0h0m1 0h0m1 0h0m4 0h0m2 0h0m120 0h0m-198 1h0m52 0h0m3 0h0m1 0h0m6 0h0m3 0h0m1 0h0m1 0h0m2 0h0m1 0h0m1 0h0m1 0h0m1 0h0m1 0h0m1 0h0m1 0h0m1 0h0m119 0h0m1 0h0m-195 1h0m21 0h0m5 0h0m3 0h0m6 0h0m4 0h0m1 0h0m2 0h0m6 0h0m1 0h0m3 0h0m1 0h0m2 0h0m2 0h0m1 0h0m1 0h0m1 0h0m1 0h0m1 0h0m1 0h0m1 0h0m1 0h0m1 0h0m2 0h0m1 0h0m1 0h0m1 0h0m1 0h0m123 0h0m1 0h0m-197 1h0m7 0h0m1 0h0m2 0h0m9 0h0m2 0h0m1 0h0m2 0h0m2 0h0m4 0h0m3 0h0m2 0h0m2 0h0m1 0h0m2 0h0m1 0h0m5 0h0m4 0h0m2 0h0m2 0h0m3 0h0m1 0h0m2 0h0m1 0h0m1 0h0m1 0h0m2 0h0m2 0h0m1 0h0m128 0h0m1 0h0m-196 1h0m0 0h0m2 0h0m8 0h0m4 0h0m3 0h0m2 0h0m2 0h0m6 0h0m3 0h0m1 0h0m3 0h0m1 0h0m3 0h0m3 0h0m1 0h0m2 0h0m1 0h0m2 0h0m4 0h0m5 0h0m1 0h0m1 0h0m1 0h0m1 0h0m1 0h0m133 0h0m2 0h0m-195 1h0m3 0h0m1 0h0m1 0h0m1 0h0m1 0h0m1 0h0m2 0h0m2 0h0m2 0h0m2 0h0m1 0h0m1 0h0m1 0h0m2 0h0m1 0h0m1 0h0m6 0h0m1 0h0m1 0h0m1 0h0m2 0h0m1 0h0m1 0h0m1 0h0m2 0h0m2 0h0m3 0h0m1 0h0m1 0h0m2 0h0m2 0h0m1 0h0m144 0h0m-203 1h0m7 0h0m1 0h0m2 0h0m2 0h0m1 0h0m2 0h0m4 0h0m1 0h0m1 0h0m1 0h0m3 0h0m1 0h0m1 0h0m1 0h0m1 0h0m2 0h0m1 0h0m6 0h0m1 0h0m1 0h0m2 0h0m3 0h0m156 0h0m1 0h0m1 0h0m-197 1h0m0 0h0m2 0h0m1 0h0m1 0h0m1 0h0m1 0h0m1 0h0m3 0h0m1 0h0m1 0h0m1 0h0m1 0h0m2 0h0m1 0h0m1 0h0m1 0h0m1 0h0m1 0h0m2 0h0m173 0h0m1 0h0m-195 1h0m193 0h0m2 0h0m-222 1h0m26 0h0m194 0h0m1 0h0m1 0h0m-198 1h0m1 0h0m195 0h0m1 0h0m1 0h0m-198 1h0m194 0h0m2 0h0m1 0h0m-201 1h0m5 0h0m195 0h0m1 0h0m1 0h0m-222 1h0m5 0h0m2 0h0m3 0h0m1 0h0m1 0h0m1 0h0m1 0h0m1 0h0m1 0h0m1 0h0m2 0h0m193 0h0m3 0h0m7 0h0m-224 1h0m27 0h0m189 0h0m2 0h0m1 0h0m4 0h0m-224 1h0m1 0h0m26 0h0m181 0h0m8 0h0m1 0h0m-216 1h0m206 0h0m1 0h0m1 0h0m5 0h0m-214 1h0m27 0h0m185 0h0m1 0h0m1 0h0m2 0h0m-187 1h0m170 0h0m2 0h0m1 0h0m4 0h0m2 0h0m-208 1h0m1 0h0m28 0h0m167 0h0m1 0h0m3 0h0m3 0h0m4 0h0m3 0h0m-209 1h0m8 0h0m5 0h0m1 0h0m1 0h0m3 0h0m4 0h0m4 0h0m161 0h0m1 0h0m3 0h0m1 0h0m5 0h0m1 0h0m1 0h0m1 0h0m3 0h0m-197 1h0m10 0h0m2 0h0m4 0h0m4 0h0m157 0h0m5 0h0m3 0h0m2 0h0m5 0h0m1 0h0m4 0h0m-199 1h0m23 0h0m0 0h0m149 0h0m6 0h0m13 0h0m5 0h0m1 0h0m-198 1h0m21 0h0m3 0h0m2 0h0m144 0h0m10 0h0m3 0h0m13 0h0m1 0h0m-175 1h0m2 0h0m2 0h0m2 0h0m1 0h0m1 0h0m7 0h0m4 0h0m1 0h0m1 0h0m3 0h0m119 0h0m2 0h0m1 0h0m1 0h0m1 0h0m9 0h0m1 0h0m4 0h0m2 0h0m5 0h0m10 0h0m-179 1h0m1 0h0m1 0h0m1 0h0m15 0h0m1 0h0m1 0h0m8 0h0m4 0h0m3 0h0m4 0h0m1 0h0m1 0h0m5 0h0m1 0h0m1 0h0m1 0h0m7 0h0m2 0h0m1 0h0m3 0h0m3 0h0m1 0h0m62 0h0m1 0h0m1 0h0m3 0h0m1 0h0m7 0h0m5 0h0m1 0h0m4 0h0m3 0h0m2 0h0m5 0h0m2 0h0m-162 1h0m6 0h0m1 0h0m3 0h0m2 0h0m2 0h0m4 0h0m12 0h0m3 0h0m1 0h0m4 0h0m2 0h0m6 0h0m1 0h0m5 0h0m10 0h0m3 0h0m5 0h0m3 0h0m3 0h0m1 0h0m5 0h0m5 0h0m2 0h0m5 0h0m2 0h0m7 0h0m5 0h0m1 0h0m1 0h0m1 0h0m2 0h0m3 0h0m24 0h0m2 0h0m7 0h0m1 0h0m7 0h0m6 0h0m-159 1h0m1 0h0m1 0h0m7 0h0m2 0h0m9 0h0m2 0h0m6 0h0m3 0h0m1 0h0m3 0h0m3 0h0m2 0h0m12 0h0m1 0h0m2 0h0m5 0h0m5 0h0m4 0h0m1 0h0m2 0h0m2 0h0m2 0h0m4 0h0m21 0h0m1 0h0m3 0h0m4 0h0m1 0h0m2 0h0m1 0h0m2 0h0m1 0h0m1 0h0m1 0h0m5 0h0m2 0h0m4 0h0m2 0h0m1 0h0m2 0h0m2 0h0m2 0h0m4 0h0m3 0h0m1 0h0m3 0h0m3 0h0m4 0h0m-160 1h0m16 0h0m11 0h0m3 0h0m2 0h0m2 0h0m7 0h0m1 0h0m1 0h0m2 0h0m4 0h0m1 0h0m5 0h0m3 0h0m2 0h0m2 0h0m1 0h0m6 0h0m2 0h0m4 0h0m2 0h0m19 0h0m5 0h0m6 0h0m9 0h0m11 0h0m9 0h0m1 0h0m1 0h0m7 0h0m-140 1h0m65 0h0m2 0h0m1 0h0m2 0h0m3 0h0m6 0h0m2 0h0m1 0h0m3 0h0m2 0h0m4 0h0m2 0h0m4 0h0m3 0h0m3 0h0m3 0h0m3 0h0m2 0h0m2 0h0m6 0h0m6 0h0m1 0h0m5 0h0m2 0h0m-137 1h0m30 0h0m30 0h0m19 0h0m2 0h0m3 0h0m2 0h0m3 0h0m5 0h0m2 0h0m16 0h0m7 0h0m1 0h0m4 0h0m3 0h0m6 0h0m11 0h0m-144 1h0m99 0h0m4 0h0m2 0h0m11 0h0m-117 1h0m102 0h0m12 0h0m-113 1h0m109 0h0m-108 1h0m138 0h0m-139 1h0m106 0h0m-42 2h0m-64 1h0m116 0h0m-61 2h0m-56 2h0m1 1h0m0 1h0m1 1h0m-1 3h0m1 1h0m119 4h0m-28 4h0m23 249h0m-115 1h0m109 0h0m-110 1h0m-21 1h0m23 0h0m-2 1h0m0 2h0m96 0h0m7 0h0m-102 1h0m106 0h0m-76 1h0m94 0h0m-120 1h0m1 0h0m14 0h0m6 0h0m76 0h0m-100 1h0m94 0h0m2 0h0m3 0h0m5 0h0m1 0h0m3 0h0m-108 1h0m90 0h0m5 0h0m1 0h0m5 0h0m4 0h0m7 0h0m2 0h0m13 0h0m9 0h0m-138 1h0m7 0h0m25 0h0m49 0h0m14 0h0m1 0h0m1 0h0m2 0h0m2 0h0m1 0h0m3 0h0m2 0h0m1 0h0m3 0h0m1 0h0m2 0h0m2 0h0m1 0h0m1 0h0m1 0h0m1 0h0m2 0h0m-130 1h0m31 0h0m11 0h0m45 0h0m6 0h0m2 0h0m2 0h0m4 0h0m2 0h0m1 0h0m2 0h0m5 0h0m3 0h0m1 0h0m1 0h0m1 0h0m1 0h0m1 0h0m2 0h0m1 0h0m1 0h0m7 0h0m2 0h0m1 0h0m1 0h0m-149 1h0m25 0h0m0 0h0m2 0h0m18 0h0m24 0h0m26 0h0m4 0h0m8 0h0m8 0h0m1 0h0m2 0h0m1 0h0m2 0h0m2 0h0m1 0h0m3 0h0m1 0h0m1 0h0m2 0h0m1 0h0m7 0h0m1 0h0m1 0h0m1 0h0m1 0h0m1 0h0m5 0h0m-130 1h0m10 0h0m5 0h0m67 0h0m3 0h0m2 0h0m1 0h0m1 0h0m3 0h0m1 0h0m1 0h0m1 0h0m2 0h0m2 0h0m2 0h0m1 0h0m1 0h0m1 0h0m3 0h0m1 0h0m3 0h0m1 0h0m5 0h0m1 0h0m2 0h0m1 0h0m3 0h0m1 0h0m2 0h0m4 0h0m1 0h0m3 0h0m-129 1h0m2 0h0m1 0h0m1 0h0m1 0h0m2 0h0m3 0h0m2 0h0m6 0h0m2 0h0m4 0h0m1 0h0m13 0h0m1 0h0m5 0h0m6 0h0m28 0h0m2 0h0m4 0h0m1 0h0m4 0h0m1 0h0m1 0h0m1 0h0m1 0h0m2 0h0m2 0h0m2 0h0m2 0h0m1 0h0m1 0h0m1 0h0m2 0h0m2 0h0m1 0h0m1 0h0m2 0h0m2 0h0m1 0h0m1 0h0m1 0h0m2 0h0m3 0h0m2 0h0m5 0h0m1 0h0m2 0h0m2 0h0m-138 1h0m4 0h0m3 0h0m7 0h0m2 0h0m2 0h0m1 0h0m3 0h0m1 0h0m1 0h0m6 0h0m3 0h0m1 0h0m6 0h0m7 0h0m7 0h0m1 0h0m4 0h0m2 0h0m2 0h0m11 0h0m2 0h0m2 0h0m1 0h0m3 0h0m1 0h0m1 0h0m2 0h0m1 0h0m3 0h0m4 0h0m1 0h0m1 0h0m23 0h0m1 0h0m1 0h0m1 0h0m1 0h0m1 0h0m1 0h0m9 0h0m1 0h0m3 0h0m3 0h0m-161 1h0m2 0h0m6 0h0m5 0h0m4 0h0m2 0h0m2 0h0m2 0h0m1 0h0m2 0h0m5 0h0m2 0h0m2 0h0m4 0h0m4 0h0m2 0h0m1 0h0m3 0h0m1 0h0m4 0h0m6 0h0m2 0h0m10 0h0m9 0h0m2 0h0m5 0h0m2 0h0m1 0h0m1 0h0m2 0h0m2 0h0m1 0h0m1 0h0m1 0h0m3 0h0m2 0h0m1 0h0m1 0h0m1 0h0m1 0h0m1 0h0m2 0h0m32 0h0m1 0h0m1 0h0m2 0h0m1 0h0m1 0h0m1 0h0m2 0h0m1 0h0m1 0h0m1 0h0m2 0h0m2 0h0m-164 1h0m1 0h0m2 0h0m1 0h0m1 0h0m1 0h0m2 0h0m1 0h0m2 0h0m1 0h0m3 0h0m3 0h0m2 0h0m1 0h0m3 0h0m3 0h0m3 0h0m2 0h0m1 0h0m1 0h0m3 0h0m4 0h0m1 0h0m1 0h0m2 0h0m5 0h0m1 0h0m5 0h0m4 0h0m1 0h0m1 0h0m4 0h0m1 0h0m1 0h0m2 0h0m1 0h0m1 0h0m1 0h0m4 0h0m2 0h0m1 0h0m3 0h0m2 0h0m1 0h0m5 0h0m4 0h0m1 0h0m1 0h0m1 0h0m1 0h0m3 0h0m1 0h0m1 0h0m1 0h0m1 0h0m4 0h0m41 0h0m3 0h0m2 0h0m1 0h0m2 0h0m2 0h0m7 0h0m-168 1h0m2 0h0m2 0h0m2 0h0m1 0h0m1 0h0m3 0h0m2 0h0m4 0h0m1 0h0m1 0h0m1 0h0m3 0h0m1 0h0m4 0h0m2 0h0m1 0h0m3 0h0m2 0h0m4 0h0m12 0h0m5 0h0m1 0h0m2 0h0m3 0h0m4 0h0m2 0h0m1 0h0m2 0h0m4 0h0m5 0h0m1 0h0m4 0h0m1 0h0m3 0h0m3 0h0m2 0h0m1 0h0m1 0h0m4 0h0m1 0h0m3 0h0m50 0h0m2 0h0m1 0h0m1 0h0m1 0h0m2 0h0m2 0h0m1 0h0m1 0h0m-164 1h0m1 0h0m3 0h0m1 0h0m2 0h0m1 0h0m1 0h0m2 0h0m1 0h0m1 0h0m2 0h0m1 0h0m1 0h0m1 0h0m1 0h0m1 0h0m1 0h0m1 0h0m3 0h0m2 0h0m1 0h0m1 0h0m1 0h0m1 0h0m1 0h0m1 0h0m1 0h0m1 0h0m1 0h0m2 0h0m2 0h0m1 0h0m5 0h0m1 0h0m2 0h0m2 0h0m1 0h0m2 0h0m2 0h0m2 0h0m1 0h0m1 0h0m1 0h0m2 0h0m1 0h0m1 0h0m1 0h0m1 0h0m2 0h0m1 0h0m1 0h0m1 0h0m1 0h0m2 0h0m1 0h0m2 0h0m3 0h0m1 0h0m10 0h0m1 0h0m2 0h0m3 0h0m59 0h0m1 0h0m1 0h0m1 0h0m1 0h0m1 0h0m3 0h0m1 0h0m-169 1h0m2 0h0m48 0h0m1 0h0m2 0h0m1 0h0m1 0h0m1 0h0m1 0h0m2 0h0m3 0h0m1 0h0m1 0h0m1 0h0m1 0h0m1 0h0m1 0h0m1 0h0m1 0h0m2 0h0m2 0h0m1 0h0m1 0h0m2 0h0m2 0h0m1 0h0m2 0h0m4 0h0m3 0h0m1 0h0m2 0h0m1 0h0m1 0h0m2 0h0m68 0h0m1 0h0m1 0h0m25 0h0m-191 1h0m165 0h0m3 0h0m2 0h0m2 0h0m-171 1h0m165 0h0m1 0h0m1 0h0m2 0h0m4 0h0m-175 1h0m1 0h0m1 0h0m166 0h0m1 0h0m1 0h0m3 0h0m-173 1h0m171 0h0m1 0h0m2 0h0m-174 1h0m172 0h0m1 0h0m1 0h0m2 0h0m-176 1h0m2 0h0m171 0h0m1 0h0m1 0h0m1 0h0m1 0h0m3 0h0m3 0h0m-182 1h0m1 0h0m173 0h0m1 0h0m3 0h0m1 0h0m1 0h0m9 0h0m-190 1h0m5 0h0m173 0h0m3 0h0m1 0h0m2 0h0m3 0h0m3 0h0m-189 1h0m1 0h0m1 0h0m1 0h0m2 0h0m172 0h0m4 0h0m2 0h0m2 0h0m3 0h0m-188 1h0m2 0h0m2 0h0m2 0h0m175 0h0m2 0h0m1 0h0m1 0h0m5 0h0m3 0h0m8 0h0m-202 1h0m8 0h0m3 0h0m171 0h0m1 0h0m1 0h0m4 0h0m1 0h0m2 0h0m5 0h0m-188 1h0m1 0h0m3 0h0m1 0h0m171 0h0m3 0h0m3 0h0m1 0h0m-184 1h0m6 0h0m2 0h0m172 0h0m1 0h0m2 0h0m1 0h0m1 0h0m4 0h0m13 0h0m-198 1h0m5 0h0m172 0h0m1 0h0m2 0h0m1 0h0m1 0h0m1 0h0m1 0h0m-180 1h0m2 0h0m176 0h0m2 0h0m2 0h0m2 0h0m10 0h0m-194 1h0m4 0h0m175 0h0m2 0h0m1 0h0m1 0h0m8 0h0m-199 1h0m14 0h0m1 0h0m1 0h0m172 0h0m3 0h0m3 0h0m1 0h0m5 0h0m-194 1h0m2 0h0m1 0h0m8 0h0m174 0h0m1 0h0m1 0h0m4 0h0m1 0h0m2 0h0m2 0h0m4 0h0m6 0h0m3 0h0m-198 1h0m2 0h0m174 0h0m1 0h0m1 0h0m3 0h0m4 0h0m3 0h0m1 0h0m2 0h0m-201 1h0m7 0h0m8 0h0m174 0h0m1 0h0m1 0h0m4 0h0m1 0h0m2 0h0m4 0h0m1 0h0m3 0h0m-197 1h0m2 0h0m1 0h0m4 0h0m1 0h0m176 0h0m3 0h0m2 0h0m4 0h0m2 0h0m5 0h0m-12 1h0m2 0h0m1 0h0m4 0h0m2 0h0m4 0h0m-197 1h0m4 0h0m1 0h0m4 0h0m178 0h0m1 0h0m1 0h0m1 0h0m1 0h0m1 0h0m1 0h0m2 0h0m1 0h0m-195 1h0m3 0h0m4 0h0m2 0h0m2 0h0m179 0h0m1 0h0m2 0h0m1 0h0m1 0h0m1 0h0m2 0h0m-193 1h0m6 0h0m1 0h0m1 0h0m182 0h0m-186 1h0m3 0h0m1 0h0m182 0h0m2 0h0m-186 1h0m1 0h0m4 0h0m180 0h0m1 0h0m-185 1h0m9 0h0m173 0h0m1 0h0m3 0h0m-207 1h0m28 0h0m3 0h0m172 0h0m1 0h0m-191 1h0m9 0h0m6 0h0m2 0h0m173 0h0m2 0h0m1 0h0m1 0h0m-182 1h0m1 0h0m5 0h0m5 0h0m1 0h0m167 0h0m1 0h0m-175 1h0m4 0h0m2 0h0m171 0h0m-170 1h0m166 0h0m1 0h0m2 0h0m-172 1h0m1 0h0m5 0h0m1 0h0m162 0h0m1 0h0m1 0h0m-168 1h0m5 0h0m161 0h0m3 0h0m1 0h0m-168 1h0m3 0h0m7 0h0m155 0h0m-165 1h0m1 0h0m2 0h0m4 0h0m3 0h0m3 0h0m151 0h0m1 0h0m-162 1h0m1 0h0m1 0h0m7 0h0m153 0h0m2 0h0m1 0h0m-164 1h0m4 0h0m2 0h0m1 0h0m1 0h0m6 0h0m146 0h0m1 0h0m1 0h0m1 0h0m1 0h0m-157 1h0m6 0h0m4 0h0m2 0h0m141 0h0m1 0h0m2 0h0m-180 1h0m18 0h0m8 0h0m5 0h0m4 0h0m2 0h0m2 0h0m138 0h0m3 0h0m1 0h0m-153 1h0m4 0h0m5 0h0m4 0h0m1 0h0m-23 1h0m12 0h0m3 0h0m1 0h0m4 0h0m2 0h0m3 0h0m134 0h0m1 0h0m1 0h0m1 0h0m-150 1h0m10 0h0m1 0h0m2 0h0m133 0h0m1 0h0m1 0h0m-145 1h0m10 0h0m2 0h0m2 0h0m129 0h0m1 0h0m1 0h0m2 0h0m-146 1h0m2 0h0m7 0h0m1 0h0m3 0h0m3 0h0m3 0h0m2 0h0m123 0h0m1 0h0m1 0h0m-134 1h0m3 0h0m6 0h0m1 0h0m121 0h0m1 0h0m2 0h0m-144 1h0m6 0h0m2 0h0m4 0h0m1 0h0m1 0h0m1 0h0m1 0h0m4 0h0m121 0h0m1 0h0m-136 1h0m7 0h0m1 0h0m1 0h0m3 0h0m8 0h0m1 0h0m1 0h0m2 0h0m112 0h0m1 0h0m1 0h0m-135 1h0m7 0h0m15 0h0m109 0h0m1 0h0m1 0h0m1 0h0m-144 1h0m10 0h0m1 0h0m3 0h0m8 0h0m5 0h0m1 0h0m2 0h0m2 0h0m10 0h0m99 0h0m3 0h0m-127 1h0m6 0h0m11 0h0m10 0h0m-32 1h0m2 0h0m10 0h0m6 0h0m5 0h0m1 0h0m3 0h0m2 0h0m3 0h0m8 0h0m2 0h0m87 0h0m3 0h0m-142 1h0m31 0h0m1 0h0m7 0h0m8 0h0m1 0h0m1 0h0m3 0h0m2 0h0m1 0h0m4 0h0m1 0h0m4 0h0m3 0h0m1 0h0m72 0h0m2 0h0m1 0h0m-142 1h0m21 0h0m18 0h0m6 0h0m2 0h0m5 0h0m11 0h0m79 0h0m-117 1h0m10 0h0m8 0h0m1 0h0m2 0h0m2 0h0m1 0h0m5 0h0m4 0h0m2 0h0m11 0h0m9 0h0m58 0h0m1 0h0m1 0h0m-120 1h0m8 0h0m14 0h0m2 0h0m1 0h0m2 0h0m5 0h0m2 0h0m2 0h0m3 0h0m1 0h0m2 0h0m2 0h0m4 0h0m7 0h0m2 0h0m4 0h0m58 0h0m1 0h0m-112 1h0m2 0h0m3 0h0m6 0h0m1 0h0m1 0h0m1 0h0m1 0h0m1 0h0m4 0h0m1 0h0m4 0h0m3 0h0m1 0h0m2 0h0m1 0h0m4 0h0m8 0h0m3 0h0m7 0h0m5 0h0m51 0h0m-105 1h0m10 0h0m1 0h0m1 0h0m5 0h0m2 0h0m2 0h0m1 0h0m1 0h0m3 0h0m1 0h0m3 0h0m3 0h0m5 0h0m3 0h0m1 0h0m13 0h0m1 0h0m49 0h0m1 0h0m1 0h0m-106 1h0m1 0h0m5 0h0m10 0h0m2 0h0m1 0h0m1 0h0m3 0h0m4 0h0m2 0h0m2 0h0m4 0h0m3 0h0m9 0h0m4 0h0m7 0h0m2 0h0m44 0h0m1 0h0m2 0h0m1 0h0m-104 1h0m1 0h0m5 0h0m1 0h0m1 0h0m7 0h0m4 0h0m11 0h0m1 0h0m5 0h0m5 0h0m2 0h0m1 0h0m1 0h0m7 0h0m1 0h0m3 0h0m1 0h0m43 0h0m1 0h0m1 0h0m1 0h0m1 0h0m-102 1h0m1 0h0m1 0h0m1 0h0m4 0h0m6 0h0m1 0h0m2 0h0m3 0h0m2 0h0m2 0h0m1 0h0m4 0h0m7 0h0m3 0h0m8 0h0m8 0h0m45 0h0m1 0h0m2 0h0m-88 1h0m2 0h0m17 0h0m1 0h0m6 0h0m1 0h0m1 0h0m2 0h0m1 0h0m10 0h0m4 0h0m1 0h0m-46 1h0m2 0h0m10 0h0m1 0h0m2 0h0m2 0h0m3 0h0m7 0h0m1 0h0m6 0h0m4 0h0m1 0h0m2 0h0m2 0h0m3 0h0m9 0h0m1 0h0m2 0h0m26 0h0m2 0h0m1 0h0m1 0h0m-99 1h0m2 0h0m24 0h0m1 0h0m2 0h0m6 0h0m2 0h0m2 0h0m2 0h0m1 0h0m3 0h0m1 0h0m3 0h0m2 0h0m5 0h0m2 0h0m3 0h0m1 0h0m5 0h0m1 0h0m1 0h0m1 0h0m2 0h0m1 0h0m2 0h0m4 0h0m14 0h0m2 0h0m1 0h0m3 0h0m-83 1h0m21 0h0m4 0h0m1 0h0m3 0h0m3 0h0m4 0h0m1 0h0m1 0h0m2 0h0m2 0h0m10 0h0m1 0h0m5 0h0m6 0h0m5 0h0m2 0h0m3 0h0m5 0h0m1 0h0m2 0h0m-73 1h0m8 0h0m5 0h0m7 0h0m4 0h0m6 0h0m1 0h0m11 0h0m3 0h0m1 0h0m7 0h0m6 0h0m3 0h0m7 0h0m1 0h0m1 0h0m3 0h0m-62 1h0m1 0h0m7 0h0m15 0h0m5 0h0m5 0h0m4 0h0m7 0h0m1 0h0m5 0h0m1 0h0m1 0h0m3 0h0m4 0h0m3 0h0m-62 1h0m4 0h0m4 0h0m10 0h0m1 0h0m1 0h0m5 0h0m5 0h0m10 0h0m7 0h0m9 0h0m1 0h0m2 0h0m1 0h0m2 0h0m-85 1h0m38 0h0m31 0h0m1 0h0m1 0h0m1 0h0m3 0h0m3 0h0m4 0h0m2 0h0m-84 1h0m41 0h0m17 0h0m-100 137h0m35 24h0m34 1h0m1 0h0m-10 3h0m8 3h0m5 0h0m-17 2h0m37 1h0m-49 1h0m19 0h0m5 0h0m8 0h0m-63 1h0m3 0h0m27 0h0m-35 1h0m21 0h0m24 0h0m1 0h0m4 0h0m1 0h0m2 0h0m1 0h0m2 0h0m5 0h0m6 0h0m-67 1h0m9 0h0m33 0h0m6 0h0m3 0h0m1 0h0m1 0h0m1 0h0m2 0h0m1 0h0m6 0h0m5 0h0m4 0h0m4 0h0m-51 1h0m14 0h0m2 0h0m1 0h0m1 0h0m3 0h0m1 0h0m5 0h0m1 0h0m1 0h0m3 0h0m1 0h0m2 0h0m1 0h0m1 0h0m6 0h0m2 0h0m5 0h0m-76 1h0m28 0h0m2 0h0m5 0h0m1 0h0m1 0h0m1 0h0m1 0h0m3 0h0m1 0h0m1 0h0m1 0h0m2 0h0m1 0h0m4 0h0m1 0h0m1 0h0m2 0h0m2 0h0m2 0h0m3 0h0m1 0h0m1 0h0m1 0h0m1 0h0m1 0h0m1 0h0m2 0h0m6 0h0m1 0h0m1 0h0m3 0h0m16 0h0m-68 1h0m3 0h0m2 0h0m1 0h0m1 0h0m2 0h0m2 0h0m2 0h0m4 0h0m1 0h0m1 0h0m1 0h0m2 0h0m1 0h0m3 0h0m1 0h0m2 0h0m1 0h0m1 0h0m1 0h0m1 0h0m1 0h0m2 0h0m1 0h0m2 0h0m2 0h0m3 0h0m2 0h0m2 0h0m1 0h0m1 0h0m2 0h0m4 0h0m5 0h0m2 0h0m1 0h0m-108 1h0m14 0h0m16 0h0m6 0h0m1 0h0m12 0h0m2 0h0m1 0h0m1 0h0m2 0h0m1 0h0m1 0h0m1 0h0m1 0h0m1 0h0m1 0h0m1 0h0m3 0h0m3 0h0m1 0h0m1 0h0m3 0h0m3 0h0m1 0h0m1 0h0m1 0h0m2 0h0m4 0h0m3 0h0m1 0h0m3 0h0m1 0h0m1 0h0m4 0h0m2 0h0m3 0h0m1 0h0m1 0h0m17 0h0m-116 1h0m1 0h0m12 0h0m5 0h0m4 0h0m2 0h0m1 0h0m1 0h0m1 0h0m2 0h0m2 0h0m2 0h0m1 0h0m2 0h0m1 0h0m1 0h0m4 0h0m2 0h0m1 0h0m3 0h0m2 0h0m1 0h0m2 0h0m1 0h0m1 0h0m1 0h0m1 0h0m1 0h0m1 0h0m16 0h0m2 0h0m1 0h0m2 0h0m2 0h0m4 0h0m1 0h0m2 0h0m1 0h0m1 0h0m2 0h0m2 0h0m2 0h0m1 0h0m2 0h0m1 0h0m1 0h0m-138 1h0m32 0h0m8 0h0m3 0h0m4 0h0m1 0h0m1 0h0m2 0h0m1 0h0m11 0h0m3 0h0m1 0h0m1 0h0m1 0h0m1 0h0m1 0h0m1 0h0m1 0h0m1 0h0m1 0h0m1 0h0m1 0h0m1 0h0m1 0h0m1 0h0m3 0h0m1 0h0m1 0h0m1 0h0m31 0h0m1 0h0m1 0h0m1 0h0m2 0h0m1 0h0m1 0h0m4 0h0m2 0h0m1 0h0m1 0h0m1 0h0m2 0h0m3 0h0m4 0h0m1 0h0m1 0h0m2 0h0m-119 1h0m6 0h0m5 0h0m4 0h0m1 0h0m3 0h0m3 0h0m10 0h0m5 0h0m1 0h0m1 0h0m1 0h0m1 0h0m1 0h0m1 0h0m1 0h0m1 0h0m3 0h0m1 0h0m1 0h0m46 0h0m1 0h0m1 0h0m1 0h0m2 0h0m1 0h0m4 0h0m2 0h0m4 0h0m3 0h0m3 0h0m3 0h0m5 0h0m-132 1h0m3 0h0m1 0h0m1 0h0m1 0h0m3 0h0m5 0h0m1 0h0m1 0h0m3 0h0m2 0h0m1 0h0m1 0h0m4 0h0m1 0h0m1 0h0m3 0h0m3 0h0m2 0h0m1 0h0m1 0h0m1 0h0m3 0h0m2 0h0m1 0h0m1 0h0m1 0h0m1 0h0m58 0h0m1 0h0m1 0h0m2 0h0m1 0h0m1 0h0m1 0h0m1 0h0m2 0h0m1 0h0m1 0h0m2 0h0m1 0h0m2 0h0m1 0h0m2 0h0m5 0h0m-147 1h0m15 0h0m3 0h0m1 0h0m3 0h0m3 0h0m4 0h0m1 0h0m2 0h0m2 0h0m1 0h0m1 0h0m2 0h0m1 0h0m3 0h0m2 0h0m1 0h0m1 0h0m2 0h0m1 0h0m2 0h0m2 0h0m1 0h0m1 0h0m2 0h0m71 0h0m1 0h0m2 0h0m1 0h0m1 0h0m1 0h0m1 0h0m2 0h0m1 0h0m1 0h0m1 0h0m1 0h0m2 0h0m1 0h0m3 0h0m3 0h0m2 0h0m5 0h0m-152 1h0m5 0h0m4 0h0m2 0h0m5 0h0m2 0h0m1 0h0m2 0h0m1 0h0m1 0h0m106 0h0m1 0h0m1 0h0m1 0h0m5 0h0m1 0h0m1 0h0m5 0h0m5 0h0m1 0h0m1 0h0m-178 1h0m24 0h0m2 0h0m5 0h0m8 0h0m1 0h0m1 0h0m1 0h0m1 0h0m118 0h0m4 0h0m1 0h0m2 0h0m2 0h0m2 0h0m1 0h0m2 0h0m1 0h0m1 0h0m1 0h0m1 0h0m1 0h0m-174 1h0m16 0h0m1 0h0m2 0h0m2 0h0m3 0h0m2 0h0m1 0h0m3 0h0m2 0h0m1 0h0m127 0h0m2 0h0m2 0h0m1 0h0m2 0h0m1 0h0m1 0h0m1 0h0m2 0h0m1 0h0m1 0h0m-176 1h0m14 0h0m3 0h0m1 0h0m2 0h0m3 0h0m1 0h0m3 0h0m1 0h0m1 0h0m140 0h0m3 0h0m1 0h0m1 0h0m1 0h0m-174 1h0m4 0h0m2 0h0m4 0h0m2 0h0m1 0h0m1 0h0m5 0h0m3 0h0m-35 1h0m1 0h0m1 0h0m7 0h0m1 0h0m1 0h0m2 0h0m1 0h0m5 0h0m2 0h0m1 0h0m4 0h0m2 0h0m2 0h0m1 0h0m155 0h0m-213 1h0m6 0h0m15 0h0m1 0h0m6 0h0m2 0h0m7 0h0m4 0h0m1 0h0m1 0h0m3 0h0m1 0h0m165 0h0m1 0h0m2 0h0m-201 1h0m5 0h0m2 0h0m2 0h0m1 0h0m1 0h0m2 0h0m2 0h0m4 0h0m1 0h0m1 0h0m1 0h0m2 0h0m177 0h0m-204 1h0m2 0h0m5 0h0m1 0h0m1 0h0m1 0h0m3 0h0m1 0h0m1 0h0m1 0h0m1 0h0m184 0h0m3 0h0m-203 1h0m1 0h0m1 0h0m1 0h0m1 0h0m1 0h0m13 0h0m184 0h0m1 0h0m-218 1h0m3 0h0m5 0h0m2 0h0m2 0h0m1 0h0m1 0h0m2 0h0m1 0h0m198 0h0m3 0h0m-225 1h0m10 0h0m3 0h0m1 0h0m4 0h0m1 0h0m203 0h0m1 0h0m-216 1h0m3 0h0m2 0h0m4 0h0m207 0h0m-217 1h0m1 0h0m1 0h0m1 0h0m1 0h0m1 0h0m1 0h0m212 0h0m1 0h0m-226 1h0m2 0h0m6 0h0m1 0h0m214 0h0m1 0h0m1 0h0m1 0h0m-222 1h0m1 0h0m218 0h0m3 0h0m-226 1h0m3 0h0m1 0h0m219 0h0m2 0h0m-222 1h0m1 0h0m221 0h0m1 0h0m-226 1h0m2 0h0m4 0h0m217 0h0m2 0h0m1 0h0m-225 1h0m1 0h0m1 0h0m1 0h0m222 0h0m-214 1h0m211 0h0m2 0h0m1 0h0m-218 1h0m1 0h0m8 0h0m1 0h0m206 0h0m1 0h0m1 0h0m-215 1h0m7 0h0m206 0h0m-206 1h0m2 0h0m2 0h0m45 0h0m157 0h0m1 0h0m-225 1h0m3 0h0m15 0h0m1 0h0m2 0h0m2 0h0m1 0h0m2 0h0m1 0h0m196 0h0m1 0h0m-201 1h0m5 0h0m1 0h0m2 0h0m190 0h0m3 0h0m1 0h0m-200 1h0m1 0h0m4 0h0m6 0h0m185 0h0m-199 1h0m9 0h0m1 0h0m4 0h0m2 0h0m180 0h0m8 0h0m-194 1h0m8 0h0m2 0h0m175 0h0m7 0h0m-188 1h0m2 0h0m6 0h0m1 0h0m173 0h0m-175 1h0m2 0h0m2 0h0m1 0h0m164 0h0m4 0h0m4 0h0m5 0h0m-182 1h0m2 0h0m1 0h0m1 0h0m3 0h0m1 0h0m3 0h0m155 0h0m2 0h0m2 0h0m1 0h0m-171 1h0m166 0h0m1 0h0m-184 1h0m11 0h0m8 0h0m6 0h0m156 0h0m4 0h0m1 0h0m-169 1h0m1 0h0m4 0h0m1 0h0m15 0h0m141 0h0m1 0h0m4 0h0m-158 1h0m3 0h0m1 0h0m5 0h0m3 0h0m2 0h0m1 0h0m2 0h0m133 0h0m1 0h0m3 0h0m5 0h0m-166 1h0m9 0h0m1 0h0m6 0h0m5 0h0m1 0h0m139 0h0m1 0h0m1 0h0m1 0h0m3 0h0m-174 1h0m19 0h0m4 0h0m4 0h0m3 0h0m130 0h0m1 0h0m4 0h0m5 0h0m4 0h0m-168 1h0m6 0h0m11 0h0m3 0h0m2 0h0m2 0h0m2 0h0m1 0h0m1 0h0m3 0h0m119 0h0m7 0h0m1 0h0m2 0h0m19 0h0m-159 1h0m4 0h0m2 0h0m5 0h0m3 0h0m113 0h0m4 0h0m1 0h0m-137 1h0m7 0h0m2 0h0m9 0h0m104 0h0m2 0h0m1 0h0m2 0h0m10 0h0m-125 1h0m2 0h0m2 0h0m4 0h0m3 0h0m2 0h0m95 0h0m18 0h0m2 0h0m-121 1h0m2 0h0m4 0h0m2 0h0m102 0h0m3 0h0m3 0h0m3 0h0m-151 1h0m20 0h0m10 0h0m2 0h0m2 0h0m1 0h0m4 0h0m84 0h0m2 0h0m6 0h0m4 0h0m2 0h0m3 0h0m9 0h0m1 0h0m-156 1h0m8 0h0m32 0h0m1 0h0m8 0h0m1 0h0m75 0h0m8 0h0m1 0h0m5 0h0m2 0h0m4 0h0m1 0h0m-111 1h0m5 0h0m4 0h0m5 0h0m73 0h0m2 0h0m4 0h0m1 0h0m1 0h0m2 0h0m15 0h0m-106 1h0m2 0h0m1 0h0m2 0h0m2 0h0m5 0h0m1 0h0m66 0h0m12 0h0m10 0h0m-108 1h0m14 0h0m72 0h0m1 0h0m8 0h0m7 0h0m9 0h0m-100 1h0m5 0h0m6 0h0m1 0h0m4 0h0m70 0h0m-93 1h0m19 0h0m1 0h0m2 0h0m56 0h0m5 0h0m2 0h0m-69 1h0m12 0h0m47 0h0m3 0h0m2 0h0m1 0h0m1 0h0m4 0h0m3 0h0m1 0h0m-80 1h0m4 0h0m3 0h0m2 0h0m6 0h0m6 0h0m39 0h0m1 0h0m2 0h0m2 0h0m5 0h0m1 0h0m2 0h0m2 0h0m2 0h0m15 0h0m-89 1h0m13 0h0m2 0h0m2 0h0m1 0h0m2 0h0m34 0h0m1 0h0m4 0h0m8 0h0m2 0h0m1 0h0m-81 1h0m17 0h0m11 0h0m1 0h0m2 0h0m1 0h0m33 0h0m2 0h0m4 0h0m5 0h0m2 0h0m1 0h0m4 0h0m-61 1h0m10 0h0m4 0h0m25 0h0m3 0h0m3 0h0m3 0h0m6 0h0m1 0h0m5 0h0m-57 1h0m2 0h0m3 0h0m8 0h0m1 0h0m1 0h0m3 0h0m1 0h0m2 0h0m1 0h0m1 0h0m2 0h0m4 0h0m4 0h0m1 0h0m6 0h0m1 0h0m1 0h0m2 0h0m2 0h0m1 0h0m2 0h0m2 0h0m-51 1h0m1 0h0m2 0h0m2 0h0m6 0h0m1 0h0m4 0h0m2 0h0m1 0h0m3 0h0m4 0h0m2 0h0m9 0h0m9 0h0m22 0h0m-128 1h0m58 0h0m4 0h0m2 0h0m1 0h0m3 0h0m2 0h0m1 0h0m6 0h0m2 0h0m1 0h0m9 0h0m6 0h0m1 0h0m1 0h0m2 0h0m2 0h0m1 0h0m5 0h0m-43 1h0m6 0h0m4 0h0m4 0h0m1 0h0m2 0h0m2 0h0m6 0h0m4 0h0m1 0h0m8 0h0m1 0h0m-55 1h0m30 0h0m1 0h0m1 0h0m7 0h0m2 0h0m2 0h0m2 0h0m2 0h0m5 0h0m5 0h0m-53 1h0m9 0h0m1 0h0m3 0h0m1 0h0m4 0h0m5 0h0m1 0h0m3 0h0m7 0h0m5 0h0m4 0h0m2 0h0m4 0h0m6 0h0m-24 1h0m7 0h0m3 0h0m4 0h0m1 0h0m2 0h0m4 0h0m-41 1h0m7 0h0m5 0h0m7 0h0m5 0h0m10 0h0m2 0h0m-25 1h0m4 0h0m2 0h0m12 0h0m7 0h0m-27 1h0m1 0h0m11 0h0m4 0h0m4 0h0m1 0h0m3 0h0m10 0h0m-120 1h0m88 0h0m4 0h0m3 0h0m2 0h0m2 0h0m3 0h0m3 0h0m-25 1h0m8 0h0m4 0h0m1 0h0m3 0h0m3 0h0m4 0h0m18 0h0m-33 1h0m7 0h0m-13 2h0m28 3h0m-20 2h0m-9 2h0m8 3h0m27 146h0m-8 22h0m-50 14h0m46 1h0m47 6h0m-46 2h0m10 1h0m-55 1h0m-27 2h0m91 0h0m-14 1h0m15 0h0m18 0h0m-71 1h0m-56 1h0m24 0h0m61 0h0m2 0h0m4 0h0m4 0h0m1 0h0m2 0h0m1 0h0m1 0h0m11 0h0m-31 1h0m9 0h0m3 0h0m3 0h0m3 0h0m6 0h0m28 0h0m-144 1h0m75 0h0m18 0h0m1 0h0m4 0h0m2 0h0m2 0h0m3 0h0m2 0h0m3 0h0m2 0h0m1 0h0m1 0h0m1 0h0m2 0h0m2 0h0m3 0h0m3 0h0m3 0h0m33 0h0m-114 1h0m27 0h0m4 0h0m2 0h0m1 0h0m3 0h0m1 0h0m1 0h0m2 0h0m5 0h0m1 0h0m2 0h0m4 0h0m1 0h0m1 0h0m1 0h0m2 0h0m3 0h0m2 0h0m1 0h0m1 0h0m1 0h0m1 0h0m2 0h0m2 0h0m1 0h0m1 0h0m5 0h0m2 0h0m1 0h0m1 0h0m-79 1h0m25 0h0m2 0h0m2 0h0m5 0h0m1 0h0m1 0h0m1 0h0m2 0h0m1 0h0m2 0h0m1 0h0m1 0h0m2 0h0m1 0h0m3 0h0m1 0h0m1 0h0m2 0h0m1 0h0m2 0h0m2 0h0m1 0h0m3 0h0m1 0h0m3 0h0m1 0h0m2 0h0m1 0h0m1 0h0m1 0h0m3 0h0m1 0h0m3 0h0m2 0h0m-68 1h0m1 0h0m2 0h0m3 0h0m5 0h0m1 0h0m1 0h0m2 0h0m4 0h0m1 0h0m1 0h0m1 0h0m3 0h0m1 0h0m1 0h0m3 0h0m1 0h0m2 0h0m1 0h0m2 0h0m1 0h0m1 0h0m1 0h0m1 0h0m1 0h0m1 0h0m2 0h0m2 0h0m3 0h0m1 0h0m1 0h0m1 0h0m1 0h0m2 0h0m2 0h0m1 0h0m1 0h0m1 0h0m1 0h0m1 0h0m6 0h0m1 0h0m2 0h0m1 0h0m-139 1h0m24 0h0m23 0h0m16 0h0m4 0h0m6 0h0m1 0h0m2 0h0m4 0h0m2 0h0m1 0h0m1 0h0m1 0h0m1 0h0m1 0h0m1 0h0m2 0h0m3 0h0m1 0h0m1 0h0m1 0h0m22 0h0m1 0h0m2 0h0m1 0h0m2 0h0m2 0h0m3 0h0m3 0h0m1 0h0m2 0h0m2 0h0m1 0h0m2 0h0m1 0h0m2 0h0m2 0h0m1 0h0m-160 1h0m52 0h0m15 0h0m3 0h0m2 0h0m6 0h0m1 0h0m3 0h0m1 0h0m1 0h0m3 0h0m2 0h0m2 0h0m1 0h0m1 0h0m1 0h0m2 0h0m1 0h0m1 0h0m2 0h0m2 0h0m40 0h0m1 0h0m1 0h0m2 0h0m1 0h0m6 0h0m1 0h0m1 0h0m1 0h0m4 0h0m1 0h0m-161 1h0m30 0h0m17 0h0m11 0h0m3 0h0m10 0h0m1 0h0m1 0h0m5 0h0m1 0h0m2 0h0m1 0h0m1 0h0m2 0h0m1 0h0m1 0h0m1 0h0m1 0h0m1 0h0m1 0h0m1 0h0m1 0h0m1 0h0m53 0h0m2 0h0m1 0h0m1 0h0m1 0h0m3 0h0m2 0h0m1 0h0m2 0h0m3 0h0m10 0h0m-113 1h0m2 0h0m2 0h0m2 0h0m2 0h0m1 0h0m1 0h0m1 0h0m1 0h0m1 0h0m2 0h0m1 0h0m2 0h0m1 0h0m2 0h0m2 0h0m1 0h0m1 0h0m65 0h0m2 0h0m2 0h0m1 0h0m1 0h0m1 0h0m2 0h0m2 0h0m2 0h0m11 0h0m-190 1h0m21 0h0m23 0h0m32 0h0m2 0h0m3 0h0m1 0h0m3 0h0m3 0h0m1 0h0m2 0h0m2 0h0m1 0h0m1 0h0m75 0h0m2 0h0m5 0h0m1 0h0m1 0h0m2 0h0m4 0h0m-155 1h0m19 0h0m9 0h0m1 0h0m1 0h0m5 0h0m1 0h0m2 0h0m1 0h0m2 0h0m4 0h0m4 0h0m5 0h0m2 0h0m1 0h0m1 0h0m86 0h0m1 0h0m4 0h0m1 0h0m1 0h0m4 0h0m3 0h0m4 0h0m-174 1h0m1 0h0m5 0h0m7 0h0m7 0h0m6 0h0m1 0h0m2 0h0m1 0h0m3 0h0m2 0h0m9 0h0m9 0h0m1 0h0m1 0h0m1 0h0m1 0h0m4 0h0m1 0h0m1 0h0m1 0h0m2 0h0m95 0h0m1 0h0m2 0h0m5 0h0m8 0h0m-192 1h0m3 0h0m1 0h0m1 0h0m1 0h0m1 0h0m2 0h0m1 0h0m5 0h0m3 0h0m5 0h0m2 0h0m1 0h0m3 0h0m1 0h0m6 0h0m1 0h0m1 0h0m1 0h0m3 0h0m2 0h0m2 0h0m6 0h0m1 0h0m1 0h0m4 0h0m4 0h0m1 0h0m5 0h0m2 0h0m2 0h0m1 0h0m1 0h0m103 0h0m1 0h0m1 0h0m1 0h0m3 0h0m5 0h0m-193 1h0m3 0h0m1 0h0m1 0h0m1 0h0m1 0h0m1 0h0m2 0h0m1 0h0m1 0h0m1 0h0m2 0h0m2 0h0m1 0h0m3 0h0m2 0h0m1 0h0m1 0h0m2 0h0m1 0h0m1 0h0m3 0h0m1 0h0m1 0h0m4 0h0m1 0h0m1 0h0m1 0h0m1 0h0m4 0h0m1 0h0m1 0h0m5 0h0m2 0h0m1 0h0m1 0h0m1 0h0m1 0h0m1 0h0m1 0h0m1 0h0m1 0h0m1 0h0m1 0h0m1 0h0m2 0h0m3 0h0m2 0h0m1 0h0m113 0h0m2 0h0m2 0h0m1 0h0m2 0h0m-194 1h0m1 0h0m2 0h0m28 0h0m1 0h0m1 0h0m2 0h0m1 0h0m1 0h0m1 0h0m2 0h0m1 0h0m2 0h0m1 0h0m2 0h0m1 0h0m1 0h0m1 0h0m1 0h0m2 0h0m1 0h0m1 0h0m1 0h0m1 0h0m2 0h0m2 0h0m1 0h0m2 0h0m1 0h0m2 0h0m1 0h0m120 0h0m4 0h0m-191 1h0m1 0h0m3 0h0m186 0h0m1 0h0m3 0h0m3 0h0m2 0h0m4 0h0m-201 1h0m190 0h0m1 0h0m1 0h0m1 0h0m2 0h0m3 0h0m-198 1h0m2 0h0m3 0h0m188 0h0m1 0h0m1 0h0m3 0h0m2 0h0m1 0h0m1 0h0m1 0h0m-204 1h0m3 0h0m1 0h0m3 0h0m189 0h0m1 0h0m1 0h0m1 0h0m3 0h0m3 0h0m14 0h0m-217 1h0m1 0h0m3 0h0m1 0h0m192 0h0m3 0h0m1 0h0m3 0h0m5 0h0m-205 1h0m2 0h0m193 0h0m3 0h0m1 0h0m3 0h0m-202 1h0m7 0h0m192 0h0m1 0h0m4 0h0m3 0h0m12 0h0m-221 1h0m6 0h0m5 0h0m191 0h0m1 0h0m1 0h0m1 0h0m2 0h0m1 0h0m1 0h0m-201 1h0m6 0h0m189 0h0m1 0h0m1 0h0m2 0h0m3 0h0m1 0h0m-200 1h0m1 0h0m2 0h0m1 0h0m194 0h0m4 0h0m-196 1h0m191 0h0m3 0h0m1 0h0m1 0h0m1 0h0m-202 1h0m5 0h0m2 0h0m1 0h0m192 0h0m3 0h0m2 0h0m2 0h0m2 0h0m-205 1h0m2 0h0m4 0h0m190 0h0m1 0h0m6 0h0m-221 1h0m25 0h0m1 0h0m191 0h0m2 0h0m1 0h0m1 0h0m1 0h0m1 0h0m-198 1h0m5 0h0m189 0h0m1 0h0m-197 1h0m13 0h0m2 0h0m1 0h0m180 0h0m1 0h0m-190 1h0m2 0h0m6 0h0m1 0h0m1 0h0m3 0h0m3 0h0m174 0h0m1 0h0m1 0h0m1 0h0m-198 1h0m2 0h0m3 0h0m1 0h0m1 0h0m5 0h0m9 0h0m1 0h0m4 0h0m168 0h0m2 0h0m2 0h0m-200 1h0m12 0h0m12 0h0m3 0h0m2 0h0m6 0h0m162 0h0m2 0h0m1 0h0m-182 1h0m6 0h0m1 0h0m1 0h0m9 0h0m2 0h0m160 0h0m1 0h0m-174 1h0m1 0h0m1 0h0m14 0h0m2 0h0m154 0h0m-191 1h0m27 0h0m6 0h0m4 0h0m4 0h0m1 0h0m2 0h0m1 0h0m146 0h0m1 0h0m1 0h0m2 0h0m-169 1h0m12 0h0m3 0h0m2 0h0m1 0h0m147 0h0m4 0h0m-180 1h0m16 0h0m11 0h0m1 0h0m1 0h0m1 0h0m3 0h0m145 0h0m2 0h0m-160 1h0m12 0h0m3 0h0m3 0h0m1 0h0m1 0h0m136 0h0m3 0h0m1 0h0m-149 1h0m1 0h0m6 0h0m5 0h0m1 0h0m133 0h0m2 0h0m1 0h0m-179 1h0m4 0h0m28 0h0m1 0h0m1 0h0m1 0h0m3 0h0m7 0h0m132 0h0m1 0h0m1 0h0m-193 1h0m31 0h0m20 0h0m1 0h0m1 0h0m2 0h0m1 0h0m6 0h0m127 0h0m2 0h0m1 0h0m-139 1h0m6 0h0m3 0h0m4 0h0m125 0h0m1 0h0m1 0h0m-137 1h0m1 0h0m5 0h0m1 0h0m1 0h0m4 0h0m121 0h0m3 0h0m-132 1h0m10 0h0m120 0h0m1 0h0m1 0h0m1 0h0m-175 1h0m51 0h0m120 0h0m-124 1h0m6 0h0m1 0h0m3 0h0m116 0h0m2 0h0m-125 1h0m4 0h0m117 0h0m-185 1h0m67 0h0m118 0h0m1 0h0m3 0h0m-154 1h0m151 0h0m2 0h0m1 0h0m-126 1h0m64 0h0m1 0h0m6 0h0m1 0h0m1 0h0m4 0h0m1 0h0m44 0h0m3 0h0m-143 1h0m75 0h0m6 0h0m3 0h0m6 0h0m5 0h0m4 0h0m2 0h0m3 0h0m1 0h0m35 0h0m1 0h0m1 0h0m1 0h0m1 0h0m-124 1h0m54 0h0m6 0h0m6 0h0m2 0h0m3 0h0m1 0h0m5 0h0m2 0h0m1 0h0m40 0h0m1 0h0m1 0h0m-63 1h0m4 0h0m1 0h0m4 0h0m3 0h0m4 0h0m5 0h0m1 0h0m1 0h0m3 0h0m3 0h0m33 0h0m2 0h0m1 0h0m-129 1h0m13 0h0m39 0h0m17 0h0m17 0h0m2 0h0m5 0h0m33 0h0m1 0h0m1 0h0m1 0h0m-80 1h0m9 0h0m1 0h0m8 0h0m26 0h0m32 0h0m1 0h0m1 0h0m1 0h0m1 0h0m-79 1h0m1 0h0m42 0h0m33 0h0m1 0h0m1 0h0m1 0h0m-86 1h0m3 0h0m1 0h0m7 0h0m42 0h0m31 0h0m1 0h0m-83 1h0m1 0h0m1 0h0m38 0h0m11 0h0m29 0h0m1 0h0m1 0h0m2 0h0m-84 1h0m1 0h0m5 0h0m32 0h0m13 0h0m29 0h0m2 0h0m1 0h0m1 0h0m-88 1h0m2 0h0m2 0h0m1 0h0m81 0h0m1 0h0m1 0h0m-89 1h0m3 0h0m2 0h0m80 0h0m3 0h0m1 0h0m-121 1h0m34 0h0m52 0h0m33 0h0m1 0h0m1 0h0m-89 1h0m2 0h0m58 0h0m26 0h0m1 0h0m2 0h0m-85 1h0m81 0h0m1 0h0m1 0h0m1 0h0m-28 1h0m1 0h0m25 0h0m3 0h0m-181 1h0m90 0h0m2 0h0m-25 1h0m25 0h0m62 0h0m23 0h0m3 0h0m-90 1h0m1 0h0m87 0h0m-111 1h0m22 0h0m3 0h0m1 0h0m58 0h0m4 0h0m1 0h0m21 0h0m1 0h0m3 0h0m-88 1h0m87 0h0m-3 1h0m3 0h0m-113 1h0m24 0h0m86 0h0m2 0h0m1 0h0m-92 1h0m3 0h0m65 0h0m23 0h0m1 0h0m-91 1h0m70 0h0m18 0h0m3 0h0m-89 1h0m1 0h0m1 0h0m66 0h0m2 0h0m16 0h0m1 0h0m-111 1h0m96 0h0m1 0h0m13 0h0m1 0h0m2 0h0m1 0h0m-109 1h0m1 0h0m1 0h0m6 0h0m1 0h0m1 0h0m3 0h0m1 0h0m3 0h0m1 0h0m1 0h0m1 0h0m65 0h0m4 0h0m2 0h0m2 0h0m1 0h0m11 0h0m3 0h0m-113 1h0m1 0h0m2 0h0m1 0h0m5 0h0m1 0h0m2 0h0m2 0h0m3 0h0m2 0h0m1 0h0m69 0h0m4 0h0m7 0h0m1 0h0m2 0h0m7 0h0m1 0h0m2 0h0m-98 1h0m2 0h0m1 0h0m3 0h0m2 0h0m1 0h0m66 0h0m7 0h0m6 0h0m7 0h0m2 0h0m-109 1h0m2 0h0m2 0h0m4 0h0m8 0h0m3 0h0m2 0h0m1 0h0m1 0h0m67 0h0m6 0h0m2 0h0m4 0h0m1 0h0m1 0h0m3 0h0m2 0h0m2 0h0m-112 1h0m6 0h0m82 0h0m3 0h0m3 0h0m3 0h0m5 0h0m1 0h0m2 0h0m2 0h0m1 0h0m2 0h0m1 0h0m1 0h0m-112 1h0m3 0h0m5 0h0m1 0h0m2 0h0m2 0h0m2 0h0m8 0h0m68 0h0m12 0h0m3 0h0m6 0h0m-110 1h0m3 0h0m1 0h0m1 0h0m3 0h0m5 0h0m1 0h0m3 0h0m2 0h0m2 0h0m75 0h0m6 0h0m4 0h0m1 0h0m2 0h0m1 0h0m-196 1h0m86 0h0m3 0h0m3 0h0m4 0h0m1 0h0m7 0h0m4 0h0m75 0h0m1 0h0m5 0h0m3 0h0m1 0h0m1 0h0m2 0h0m-112 1h0m21 0h0m1 0h0m83 0h0m3 0h0m1 0h0m3 0h0m-113 1h0m3 0h0m2 0h0m5 0h0m4 0h0m7 0h0m88 0h0m2 0h0m1 0h0m-112 1h0m3 0h0m9 0h0m4 0h0m2 0h0m2 0h0m-16 1h0m10 0h0m3 0h0m6 0h0m-12 1h0m7 0h0m1 0h0m3 0h0m75 0h0m3 0h0m-79 1h0m-15 1h0"/></g>
<g transform="scale(0.5)" stroke-width="1.2" stroke-linecap="square" fill="none" opacity="0.6"><path stroke="#ffffff" d="M616 63h0m9 0h0m9 1h0m8 2h0m-7 2h0m-36 2h0m35 0h0m-51 1h0m32 0h0m13 0h0m19 0h0m-68 1h0m39 0h0m25 0h0m-30 1h0m-10 1h0m47 0h0m-72 1h0m22 0h0m-30 1h0m27 0h0m5 1h0m5 0h0m1 0h0m7 0h0m35 0h0m-65 1h0m12 0h0m-5 1h0m20 0h0m28 0h0m-24 1h0m2 0h0m-55 1h0m58 0h0m-64 1h0m21 0h0m24 0h0m35 0h0m-36 1h0m9 0h0m11 0h0m14 0h0m-74 1h0m53 0h0m4 0h0m3 0h0m20 0h0m9 0h0m-91 1h0m-10 1h0m34 0h0m42 0h0m8 0h0m14 0h0m-104 1h0m89 0h0m-96 1h0m83 0h0m2 0h0m-72 1h0m28 0h0m61 0h0m-106 1h0m21 0h0m62 0h0m2 0h0m3 0h0m1 0h0m-96 1h0m53 0h0m1 0h0m5 0h0m7 0h0m24 0h0m17 0h0m-68 1h0m27 0h0m6 0h0m2 0h0m3 0h0m10 0h0m18 0h0m15 0h0m-114 1h0m12 0h0m7 0h0m59 0h0m-118 1h0m14 0h0m62 0h0m-98 1h0m34 0h0m9 0h0m4 0h0m41 0h0m28 0h0m44 0h0m-139 1h0m52 0h0m100 0h0m-131 1h0m38 0h0m89 0h0m-148 1h0m7 0h0m46 0h0m55 0h0m8 0h0m-152 1h0m46 0h0m15 0h0m40 0h0m5 0h0m4 0h0m22 0h0m48 0h0m-177 1h0m23 0h0m22 0h0m6 0h0m26 0h0m40 0h0m63 0h0m-201 1h0m4 0h0m2 0h0m14 0h0m19 0h0m5 0h0m53 0h0m31 0h0m61 0h0m1 0h0m-174 1h0m4 0h0m74 0h0m6 0h0m2 0h0m6 0h0m52 0h0m14 0h0m22 0h0m3 0h0m-199 1h0m72 0h0m16 0h0m19 0h0m58 0h0m-136 1h0m27 0h0m4 0h0m2 0h0m15 0h0m16 0h0m27 0h0m40 0h0m22 0h0m-173 1h0m34 0h0m29 0h0m85 0h0m13 0h0m8 0h0m-180 1h0m33 0h0m3 0h0m1 0h0m6 0h0m31 0h0m3 0h0m55 0h0m1 0h0m39 0h0m-105 1h0m50 0h0m7 0h0m3 0h0m14 0h0m21 0h0m7 1h0m1 0h0m3 0h0m-147 1h0m23 0h0m91 0h0m-107 1h0m29 0h0m6 0h0m47 0h0m-42 1h0m32 0h0m6 0h0m-4 1h0m1 0h0m12 0h0m-8 299h0m-7 2h0m-5 1h0m48 0h0m-133 1h0m-1 1h0m3 0h0m4 0h0m19 0h0m2 0h0m9 0h0m19 0h0m2 0h0m23 0h0m42 0h0m2 0h0m-95 1h0m47 0h0m25 0h0m-56 1h0m90 0h0m9 0h0m-92 1h0m4 0h0m22 0h0m44 0h0m-140 1h0m21 0h0m56 0h0m30 0h0m45 0h0m-76 1h0m13 0h0m4 0h0m36 0h0m14 0h0m8 0h0m12 0h0m-159 1h0m70 0h0m5 0h0m21 0h0m5 0h0m35 0h0m-122 1h0m60 0h0m13 0h0m3 0h0m48 0h0m-126 1h0m12 0h0m23 0h0m11 0h0m38 0h0m1 0h0m5 0h0m50 0h0m-115 1h0m2 0h0m67 0h0m53 0h0m-141 1h0m15 0h0m11 0h0m9 0h0m16 0h0m79 0h0m13 0h0m-93 1h0m35 0h0m15 0h0m18 0h0m-69 1h0m20 0h0m50 0h0m17 0h0m18 0h0m-142 1h0m19 0h0m81 0h0m39 0h0m-153 1h0m94 0h0m24 0h0m13 0h0m-68 1h0m9 0h0m13 0h0m13 0h0m27 0h0m16 0h0m17 0h0m-144 1h0m45 0h0m8 0h0m14 0h0m23 0h0m4 0h0m9 0h0m32 0h0m-141 1h0m20 0h0m5 0h0m26 0h0m23 0h0m16 0h0m19 0h0m46 0h0m-117 1h0m20 0h0m34 0h0m13 0h0m13 0h0m-105 1h0m28 0h0m61 0h0m18 0h0m-70 1h0m27 0h0m18 0h0m12 0h0m7 0h0m-101 1h0m15 0h0m18 0h0m19 0h0m8 0h0m31 0h0m-96 1h0m19 0h0m51 0h0m12 0h0m31 0h0m3 0h0m39 0h0m17 0h0m-166 1h0m21 0h0m86 0h0m2 0h0m37 0h0m7 0h0m3 0h0m14 0h0m-174 1h0m65 0h0m11 0h0m52 0h0m9 0h0m-127 1h0m5 0h0m7 0h0m20 0h0m-34 1h0m8 0h0m40 0h0m26 0h0m59 0h0m14 0h0m-133 1h0m22 0h0m60 0h0m12 0h0m38 0h0m10 0h0m3 0h0m-157 1h0m42 0h0m32 0h0m83 0h0m-134 1h0m-17 1h0m1 0h0m55 0h0m23 0h0m71 0h0m-138 1h0m8 0h0m16 0h0m10 0h0m91 0h0m14 0h0m-124 1h0m18 0h0m8 0h0m44 0h0m57 0h0m3 0h0m-126 1h0m17 0h0m35 0h0m9 0h0m8 0h0m19 0h0m-105 1h0m67 0h0m34 0h0m19 0h0m15 0h0m12 0h0m-132 1h0m30 0h0m5 0h0m77 0h0m12 0h0m-132 1h0m24 0h0m80 0h0m-88 1h0m14 0h0m19 0h0m42 0h0m29 0h0m8 0h0m-116 1h0m20 0h0m20 0h0m4 0h0m86 0h0m-138 1h0m58 0h0m8 0h0m2 0h0m4 0h0m38 0h0m-81 1h0m55 0h0m-76 1h0m69 0h0m40 0h0m-86 1h0m19 0h0m47 0h0m-66 1h0m5 0h0m8 0h0m10 0h0m74 0h0m-28 1h0m1 0h0m-58 1h0m15 1h0m22 0h0m39 0h0m-68 1h0m63 0h0m18 0h0m-91 1h0m82 0h0m-72 1h0m14 0h0m6 0h0m29 0h0m11 0h0m20 0h0m-70 1h0m4 0h0m6 0h0m0 1h0m2 0h0m7 0h0m30 0h0m-38 1h0m2 0h0m37 0h0m2 1h0m3 0h0m0 1h0m22 1h0m-48 1h0m3 1h0m4 0h0m24 1h0m11 0h0m1 0h0m-58 193h0m9 1h0m1 0h0m-30 1h0m11 0h0m17 0h0m7 0h0m-40 1h0m40 0h0m-72 1h0m22 0h0m29 0h0m16 0h0m14 0h0m13 0h0m11 1h0m-79 1h0m-39 1h0m-6 1h0m85 0h0m1 0h0m33 0h0m-112 1h0m12 0h0m18 0h0m11 0h0m6 0h0m15 0h0m-85 1h0m18 0h0m8 0h0m121 0h0m-77 1h0m1 0h0m78 0h0m-174 1h0m57 0h0m35 0h0m13 0h0m31 0h0m18 0h0m-138 1h0m70 0h0m-90 1h0m39 0h0m8 0h0m1 0h0m14 0h0m41 0h0m34 0h0m9 0h0m3 0h0m9 0h0m-126 1h0m77 0h0m62 0h0m-173 1h0m78 0h0m7 0h0m67 0h0m17 0h0m-110 1h0m33 0h0m5 0h0m23 0h0m-139 1h0m21 0h0m13 0h0m32 0h0m1 0h0m60 0h0m9 0h0m22 0h0m9 0h0m9 0h0m-176 1h0m15 0h0m45 0h0m13 0h0m70 0h0m-117 1h0m81 0h0m-109 1h0m50 0h0m104 0h0m11 0h0m30 0h0m-190 1h0m5 0h0m70 0h0m6 0h0m71 0h0m18 0h0m-176 1h0m14 0h0m80 0h0m34 0h0m29 0h0m31 0h0m8 0h0m-105 1h0m6 0h0m13 0h0m69 0h0m16 0h0m4 0h0m-63 1h0m35 0h0m20 0h0m-159 1h0m109 0h0m12 0h0m50 0h0m5 0h0m-190 1h0m3 0h0m25 0h0m24 0h0m9 0h0m23 0h0m45 0h0m59 0h0m-138 1h0m48 0h0m23 0h0m69 0h0m-143 1h0m59 0h0m21 0h0m20 0h0m2 0h0m22 0h0m14 0h0m-154 1h0m8 0h0m37 0h0m20 0h0m10 0h0m4 0h0m6 0h0m-65 1h0m2 0h0m5 0h0m33 0h0m21 0h0m27 0h0m22 0h0m13 0h0m-154 1h0m31 0h0m11 0h0m21 0h0m10 0h0m51 0h0m-113 1h0m26 0h0m26 0h0m21 0h0m69 0h0m-149 1h0m3 0h0m53 0h0m51 0h0m1 0h0m1 0h0m-69 1h0m61 0h0m9 0h0m26 1h0m-113 1h0m15 0h0m67 0h0m32 0h0m2 0h0m7 0h0m2 0h0m-134 1h0m28 0h0m80 0h0m-95 1h0m75 0h0m-78 1h0m88 0h0m12 0h0m3 1h0m-104 1h0m75 0h0m-20 1h0m2 0h0m6 0h0m24 0h0m-45 1h0m7 0h0m46 0h0m-66 1h0m9 0h0m7 0h0m-36 1h0m13 0h0m27 0h0m11 0h0m21 0h0m-32 1h0m-27 1h0m6 0h0m26 0h0m29 1h0m-5 1h0m-26 1h0m8 0h0m5 0h0m7 0h0m-26 2h0m-10 2h0m28 0h0m-4 2h0m2 231h0m0 1h0m-21 1h0m15 0h0m-23 1h0m43 0h0m-50 1h0m25 0h0m14 0h0m-20 1h0m28 0h0m17 0h0m11 0h0m-78 1h0m27 0h0m14 0h0m7 0h0m15 0h0m-52 1h0m50 0h0m-155 1h0m69 0h0m39 0h0m13 0h0m18 0h0m-108 1h0m8 0h0m37 0h0m32 0h0m15 0h0m20 0h0m-97 1h0m37 0h0m71 0h0m1 0h0m18 0h0m-103 1h0m23 0h0m19 0h0m10 0h0m51 0h0m-139 1h0m45 0h0m-59 1h0m35 0h0m24 0h0m1 0h0m-70 1h0m22 0h0m7 0h0m62 0h0m10 0h0m3 0h0m41 0h0m32 0h0m-142 1h0m13 0h0m17 0h0m36 0h0m54 0h0m11 0h0m1 0h0m19 0h0m-181 1h0m17 0h0m4 0h0m11 0h0m16 0h0m3 0h0m29 0h0m44 0h0m5 0h0m24 0h0m21 1h0m4 0h0m-128 1h0m13 0h0m10 0h0m39 0h0m-101 1h0m47 0h0m25 0h0m42 0h0m15 0h0m18 0h0m5 0h0m8 0h0m-109 1h0m5 0h0m106 0h0m3 0h0m-131 1h0m64 0h0m8 0h0m9 0h0m32 0h0m32 0h0m1 0h0m-181 1h0m13 0h0m78 0h0m8 0h0m67 0h0m-118 1h0m38 0h0m-53 1h0m93 0h0m10 0h0m15 0h0m5 0h0m20 0h0m-104 1h0m9 0h0m10 0h0m22 0h0m22 0h0m16 0h0m19 0h0m-57 1h0m46 0h0m-126 1h0m5 0h0m35 0h0m3 0h0m25 0h0m57 0h0m17 0h0m5 0h0m1 0h0m-133 1h0m39 0h0m19 0h0m42 0h0m-75 1h0m19 0h0m21 0h0m20 0h0m20 0h0m1 0h0m-78 1h0m75 0h0m36 0h0m2 0h0m-81 1h0m37 0h0m25 0h0m-101 1h0m51 0h0m25 0h0m28 0h0m-105 1h0m68 0h0m1 0h0m2 0h0m25 0h0m-93 1h0m4 0h0m6 0h0m9 1h0m35 0h0m26 0h0m3 0h0m31 0h0m-72 1h0m25 0h0m38 0h0m-74 1h0m29 0h0m29 0h0m26 0h0m3 0h0m-115 1h0m17 0h0m51 0h0m-59 1h0m26 0h0m37 0h0m9 0h0m-65 1h0m27 0h0m31 0h0m-27 1h0m55 0h0m-88 1h0m26 0h0m2 0h0m34 0h0m30 0h0m-32 1h0m-55 1h0m11 0h0m1 0h0m6 0h0m5 0h0m63 0h0m-96 1h0m89 0h0m-92 1h0m24 0h0m-13 1h0m14 1h0m6 0h0m-12 1h0m65 0h0m21 0h0m-98 1h0m-2 1h0m10 1h0m87 0h0m-88 1h0m7 0h0m70 0h0m-91 1h0m17 0h0m-10 3h0m99 0h0m-14 3h0m14 0h0m1 0h0m-2 1h0m-6 2h0m-92 1h0m98 0h0m-1 3h0m-102 2h0m12 0h0m-7 2h0"/></g>
<rect x="22.50" y="5.00" width="109.00" height="98.40" fill="none" stroke="#8a8a8a" stroke-width="0.9"/><path d="M49.75 103.40v-1.3M49.75 5.00v1.3M77.00 103.40v-1.3M77.00 5.00v1.3M104.25 103.40v-1.3M104.25 5.00v1.3M22.50 81.53h1.3M131.50 81.53h-1.3M22.50 59.67h1.3M131.50 59.67h-1.3M22.50 37.80h1.3M131.50 37.80h-1.3M22.50 15.93h1.3M131.50 15.93h-1.3" stroke="#8a8a8a" stroke-width="0.8" fill="none"/><text x="22.50" y="110.40" font-size="6.4" text-anchor="middle" fill="#333" stroke="#333" stroke-width="0.16">-40</text><text x="49.75" y="110.40" font-size="6.4" text-anchor="middle" fill="#333" stroke="#333" stroke-width="0.16">-20</text><text x="77.00" y="110.40" font-size="6.4" text-anchor="middle" fill="#333" stroke="#333" stroke-width="0.16">0</text><text x="104.25" y="110.40" font-size="6.4" text-anchor="middle" fill="#333" stroke="#333" stroke-width="0.16">20</text><text x="131.50" y="110.40" font-size="6.4" text-anchor="middle" fill="#333" stroke="#333" stroke-width="0.16">40</text><text x="21.20" y="105.50" font-size="6.4" text-anchor="end" fill="#333" stroke="#333" stroke-width="0.16">400</text><text x="21.20" y="83.63" font-size="6.4" text-anchor="end" fill="#333" stroke="#333" stroke-width="0.16">500</text><text x="21.20" y="61.77" font-size="6.4" text-anchor="end" fill="#333" stroke="#333" stroke-width="0.16">600</text><text x="21.20" y="39.90" font-size="6.4" text-anchor="end" fill="#333" stroke="#333" stroke-width="0.16">700</text><text x="21.20" y="18.03" font-size="6.4" text-anchor="end" fill="#333" stroke="#333" stroke-width="0.16">800</text><text x="76.70" y="118.80" font-size="6.5" text-anchor="middle" fill="#333" stroke="#333" stroke-width="0.16">Azimuth angle (<tspan font-size="4.1" dy="-2.3">o</tspan><tspan dy="2.3">)</tspan></text><text x="8.30" y="53.60" font-size="6.6" text-anchor="middle" transform="rotate(-90 8.30 53.60)" fill="#333" stroke="#333" stroke-width="0.16">Slant range (m)</text><text x="75.50" y="131.20" font-size="7.6" text-anchor="middle" font-weight="bold" fill="#222" stroke="#222" stroke-width="0.16">(a)</text><rect x="138.3" y="5.00" width="7.60" height="98.60" fill="url(#jetg)"/><rect x="138.3" y="5.00" width="7.60" height="98.60" fill="none" stroke="#8a8a8a" stroke-width="0.7"/><text x="146.80" y="103.48" font-size="6.4" text-anchor="start" fill="#333" stroke="#333" stroke-width="0.16">-3</text><text x="146.80" y="87.79" font-size="6.4" text-anchor="start" fill="#333" stroke="#333" stroke-width="0.16">-2</text><text x="146.80" y="72.09" font-size="6.4" text-anchor="start" fill="#333" stroke="#333" stroke-width="0.16">-1</text><text x="146.80" y="56.40" font-size="6.4" text-anchor="start" fill="#333" stroke="#333" stroke-width="0.16">0</text><text x="146.80" y="40.71" font-size="6.4" text-anchor="start" fill="#333" stroke="#333" stroke-width="0.16">1</text><text x="146.80" y="25.01" font-size="6.4" text-anchor="start" fill="#333" stroke="#333" stroke-width="0.16">2</text><text x="146.80" y="9.32" font-size="6.4" text-anchor="start" fill="#333" stroke="#333" stroke-width="0.16">3</text><path d="M145.90 101.38h-1.2M145.90 85.69h-1.2M145.90 69.99h-1.2M145.90 54.30h-1.2M145.90 38.61h-1.2M145.90 22.91h-1.2M145.90 7.22h-1.2" stroke="#8a8a8a" stroke-width="0.6"/><text x="135.40" y="111.10" font-size="7.0" text-anchor="start" fill="#333" stroke="#333" stroke-width="0.16">(rad)</text><rect x="198.40" y="4.90" width="131.00" height="100.50" fill="none" stroke="#8a8a8a" stroke-width="0.9"/><path d="M226.93 105.40v-1.3M226.93 4.90v1.3M255.46 105.40v-1.3M255.46 4.90v1.3M283.99 105.40v-1.3M283.99 4.90v1.3M312.52 105.40v-1.3M312.52 4.90v1.3M198.40 88.65h1.3M329.40 88.65h-1.3M198.40 71.90h1.3M329.40 71.90h-1.3M198.40 55.15h1.3M329.40 55.15h-1.3M198.40 38.40h1.3M329.40 38.40h-1.3M198.40 21.65h1.3M329.40 21.65h-1.3" stroke="#8a8a8a" stroke-width="0.8" fill="none"/><text x="198.40" y="111.60" font-size="6.4" text-anchor="middle" fill="#333" stroke="#333" stroke-width="0.16">400</text><text x="226.93" y="111.60" font-size="6.4" text-anchor="middle" fill="#333" stroke="#333" stroke-width="0.16">500</text><text x="255.46" y="111.60" font-size="6.4" text-anchor="middle" fill="#333" stroke="#333" stroke-width="0.16">600</text><text x="283.99" y="111.60" font-size="6.4" text-anchor="middle" fill="#333" stroke="#333" stroke-width="0.16">700</text><text x="312.52" y="111.60" font-size="6.4" text-anchor="middle" fill="#333" stroke="#333" stroke-width="0.16">800</text><text x="197.10" y="107.50" font-size="6.4" text-anchor="end" fill="#333" stroke="#333" stroke-width="0.16">-3</text><text x="197.10" y="90.75" font-size="6.4" text-anchor="end" fill="#333" stroke="#333" stroke-width="0.16">-2</text><text x="197.10" y="74.00" font-size="6.4" text-anchor="end" fill="#333" stroke="#333" stroke-width="0.16">-1</text><text x="197.10" y="57.25" font-size="6.4" text-anchor="end" fill="#333" stroke="#333" stroke-width="0.16">0</text><text x="197.10" y="40.50" font-size="6.4" text-anchor="end" fill="#333" stroke="#333" stroke-width="0.16">1</text><text x="197.10" y="23.75" font-size="6.4" text-anchor="end" fill="#333" stroke="#333" stroke-width="0.16">2</text><text x="197.10" y="7.00" font-size="6.4" text-anchor="end" fill="#333" stroke="#333" stroke-width="0.16">3</text><text x="263.40" y="120.00" font-size="6.5" text-anchor="middle" fill="#333" stroke="#333" stroke-width="0.16">Slant range (m)</text><text x="188.30" y="57.15" font-size="6.4" text-anchor="middle" transform="rotate(-90 188.30 57.15)" fill="#333" stroke="#333" stroke-width="0.16">Phase (rad)</text><text x="251.50" y="130.90" font-size="7.6" text-anchor="middle" font-weight="bold" fill="#222" stroke="#222" stroke-width="0.16">(b)</text><rect x="22.50" y="143.60" width="109.00" height="98.40" fill="none" stroke="#8a8a8a" stroke-width="0.9"/><path d="M49.75 242.00v-1.3M49.75 143.60v1.3M77.00 242.00v-1.3M77.00 143.60v1.3M104.25 242.00v-1.3M104.25 143.60v1.3M22.50 220.13h1.3M131.50 220.13h-1.3M22.50 198.27h1.3M131.50 198.27h-1.3M22.50 176.40h1.3M131.50 176.40h-1.3M22.50 154.53h1.3M131.50 154.53h-1.3" stroke="#8a8a8a" stroke-width="0.8" fill="none"/><text x="22.50" y="249.00" font-size="6.4" text-anchor="middle" fill="#333" stroke="#333" stroke-width="0.16">-40</text><text x="49.75" y="249.00" font-size="6.4" text-anchor="middle" fill="#333" stroke="#333" stroke-width="0.16">-20</text><text x="77.00" y="249.00" font-size="6.4" text-anchor="middle" fill="#333" stroke="#333" stroke-width="0.16">0</text><text x="104.25" y="249.00" font-size="6.4" text-anchor="middle" fill="#333" stroke="#333" stroke-width="0.16">20</text><text x="131.50" y="249.00" font-size="6.4" text-anchor="middle" fill="#333" stroke="#333" stroke-width="0.16">40</text><text x="21.20" y="244.10" font-size="6.4" text-anchor="end" fill="#333" stroke="#333" stroke-width="0.16">400</text><text x="21.20" y="222.23" font-size="6.4" text-anchor="end" fill="#333" stroke="#333" stroke-width="0.16">500</text><text x="21.20" y="200.37" font-size="6.4" text-anchor="end" fill="#333" stroke="#333" stroke-width="0.16">600</text><text x="21.20" y="178.50" font-size="6.4" text-anchor="end" fill="#333" stroke="#333" stroke-width="0.16">700</text><text x="21.20" y="156.63" font-size="6.4" text-anchor="end" fill="#333" stroke="#333" stroke-width="0.16">800</text><text x="76.70" y="257.40" font-size="6.5" text-anchor="middle" fill="#333" stroke="#333" stroke-width="0.16">Azimuth angle (<tspan font-size="4.1" dy="-2.3">o</tspan><tspan dy="2.3">)</tspan></text><text x="8.30" y="192.20" font-size="6.6" text-anchor="middle" transform="rotate(-90 8.30 192.20)" fill="#333" stroke="#333" stroke-width="0.16">Slant range (m)</text><text x="75.50" y="269.80" font-size="7.6" text-anchor="middle" font-weight="bold" fill="#222" stroke="#222" stroke-width="0.16">(c)</text><rect x="138.3" y="143.60" width="7.60" height="98.60" fill="url(#jetg)"/><rect x="138.3" y="143.60" width="7.60" height="98.60" fill="none" stroke="#8a8a8a" stroke-width="0.7"/><text x="146.80" y="242.08" font-size="6.4" text-anchor="start" fill="#333" stroke="#333" stroke-width="0.16">-3</text><text x="146.80" y="226.39" font-size="6.4" text-anchor="start" fill="#333" stroke="#333" stroke-width="0.16">-2</text><text x="146.80" y="210.69" font-size="6.4" text-anchor="start" fill="#333" stroke="#333" stroke-width="0.16">-1</text><text x="146.80" y="195.00" font-size="6.4" text-anchor="start" fill="#333" stroke="#333" stroke-width="0.16">0</text><text x="146.80" y="179.31" font-size="6.4" text-anchor="start" fill="#333" stroke="#333" stroke-width="0.16">1</text><text x="146.80" y="163.61" font-size="6.4" text-anchor="start" fill="#333" stroke="#333" stroke-width="0.16">2</text><text x="146.80" y="147.92" font-size="6.4" text-anchor="start" fill="#333" stroke="#333" stroke-width="0.16">3</text><path d="M145.90 239.98h-1.2M145.90 224.29h-1.2M145.90 208.59h-1.2M145.90 192.90h-1.2M145.90 177.21h-1.2M145.90 161.51h-1.2M145.90 145.82h-1.2" stroke="#8a8a8a" stroke-width="0.6"/><text x="135.40" y="249.70" font-size="7.0" text-anchor="start" fill="#333" stroke="#333" stroke-width="0.16">(rad)</text><rect x="198.40" y="143.50" width="131.00" height="100.50" fill="none" stroke="#8a8a8a" stroke-width="0.9"/><path d="M226.93 244.00v-1.3M226.93 143.50v1.3M255.46 244.00v-1.3M255.46 143.50v1.3M283.99 244.00v-1.3M283.99 143.50v1.3M312.52 244.00v-1.3M312.52 143.50v1.3M198.40 227.25h1.3M329.40 227.25h-1.3M198.40 210.50h1.3M329.40 210.50h-1.3M198.40 193.75h1.3M329.40 193.75h-1.3M198.40 177.00h1.3M329.40 177.00h-1.3M198.40 160.25h1.3M329.40 160.25h-1.3" stroke="#8a8a8a" stroke-width="0.8" fill="none"/><text x="198.40" y="250.20" font-size="6.4" text-anchor="middle" fill="#333" stroke="#333" stroke-width="0.16">400</text><text x="226.93" y="250.20" font-size="6.4" text-anchor="middle" fill="#333" stroke="#333" stroke-width="0.16">500</text><text x="255.46" y="250.20" font-size="6.4" text-anchor="middle" fill="#333" stroke="#333" stroke-width="0.16">600</text><text x="283.99" y="250.20" font-size="6.4" text-anchor="middle" fill="#333" stroke="#333" stroke-width="0.16">700</text><text x="312.52" y="250.20" font-size="6.4" text-anchor="middle" fill="#333" stroke="#333" stroke-width="0.16">800</text><text x="197.10" y="246.10" font-size="6.4" text-anchor="end" fill="#333" stroke="#333" stroke-width="0.16">-3</text><text x="197.10" y="229.35" font-size="6.4" text-anchor="end" fill="#333" stroke="#333" stroke-width="0.16">-2</text><text x="197.10" y="212.60" font-size="6.4" text-anchor="end" fill="#333" stroke="#333" stroke-width="0.16">-1</text><text x="197.10" y="195.85" font-size="6.4" text-anchor="end" fill="#333" stroke="#333" stroke-width="0.16">0</text><text x="197.10" y="179.10" font-size="6.4" text-anchor="end" fill="#333" stroke="#333" stroke-width="0.16">1</text><text x="197.10" y="162.35" font-size="6.4" text-anchor="end" fill="#333" stroke="#333" stroke-width="0.16">2</text><text x="197.10" y="145.60" font-size="6.4" text-anchor="end" fill="#333" stroke="#333" stroke-width="0.16">3</text><text x="263.40" y="258.60" font-size="6.5" text-anchor="middle" fill="#333" stroke="#333" stroke-width="0.16">Slant range (m)</text><text x="188.30" y="195.75" font-size="6.4" text-anchor="middle" transform="rotate(-90 188.30 195.75)" fill="#333" stroke="#333" stroke-width="0.16">Phase (rad)</text><text x="251.50" y="269.50" font-size="7.6" text-anchor="middle" font-weight="bold" fill="#222" stroke="#222" stroke-width="0.16">(d)</text><rect x="22.50" y="282.20" width="109.00" height="98.40" fill="none" stroke="#8a8a8a" stroke-width="0.9"/><path d="M49.75 380.60v-1.3M49.75 282.20v1.3M77.00 380.60v-1.3M77.00 282.20v1.3M104.25 380.60v-1.3M104.25 282.20v1.3M22.50 358.73h1.3M131.50 358.73h-1.3M22.50 336.87h1.3M131.50 336.87h-1.3M22.50 315.00h1.3M131.50 315.00h-1.3M22.50 293.13h1.3M131.50 293.13h-1.3" stroke="#8a8a8a" stroke-width="0.8" fill="none"/><text x="22.50" y="387.60" font-size="6.4" text-anchor="middle" fill="#333" stroke="#333" stroke-width="0.16">-40</text><text x="49.75" y="387.60" font-size="6.4" text-anchor="middle" fill="#333" stroke="#333" stroke-width="0.16">-20</text><text x="77.00" y="387.60" font-size="6.4" text-anchor="middle" fill="#333" stroke="#333" stroke-width="0.16">0</text><text x="104.25" y="387.60" font-size="6.4" text-anchor="middle" fill="#333" stroke="#333" stroke-width="0.16">20</text><text x="131.50" y="387.60" font-size="6.4" text-anchor="middle" fill="#333" stroke="#333" stroke-width="0.16">40</text><text x="21.20" y="382.70" font-size="6.4" text-anchor="end" fill="#333" stroke="#333" stroke-width="0.16">400</text><text x="21.20" y="360.83" font-size="6.4" text-anchor="end" fill="#333" stroke="#333" stroke-width="0.16">500</text><text x="21.20" y="338.97" font-size="6.4" text-anchor="end" fill="#333" stroke="#333" stroke-width="0.16">600</text><text x="21.20" y="317.10" font-size="6.4" text-anchor="end" fill="#333" stroke="#333" stroke-width="0.16">700</text><text x="21.20" y="295.23" font-size="6.4" text-anchor="end" fill="#333" stroke="#333" stroke-width="0.16">800</text><text x="76.70" y="396.00" font-size="6.5" text-anchor="middle" fill="#333" stroke="#333" stroke-width="0.16">Azimuth angle (<tspan font-size="4.1" dy="-2.3">o</tspan><tspan dy="2.3">)</tspan></text><text x="8.30" y="330.80" font-size="6.6" text-anchor="middle" transform="rotate(-90 8.30 330.80)" fill="#333" stroke="#333" stroke-width="0.16">Slant range (m)</text><text x="75.50" y="408.40" font-size="7.6" text-anchor="middle" font-weight="bold" fill="#222" stroke="#222" stroke-width="0.16">(e)</text><rect x="138.3" y="282.20" width="7.60" height="98.60" fill="url(#jetg)"/><rect x="138.3" y="282.20" width="7.60" height="98.60" fill="none" stroke="#8a8a8a" stroke-width="0.7"/><text x="146.80" y="380.68" font-size="6.4" text-anchor="start" fill="#333" stroke="#333" stroke-width="0.16">-3</text><text x="146.80" y="364.99" font-size="6.4" text-anchor="start" fill="#333" stroke="#333" stroke-width="0.16">-2</text><text x="146.80" y="349.29" font-size="6.4" text-anchor="start" fill="#333" stroke="#333" stroke-width="0.16">-1</text><text x="146.80" y="333.60" font-size="6.4" text-anchor="start" fill="#333" stroke="#333" stroke-width="0.16">0</text><text x="146.80" y="317.91" font-size="6.4" text-anchor="start" fill="#333" stroke="#333" stroke-width="0.16">1</text><text x="146.80" y="302.21" font-size="6.4" text-anchor="start" fill="#333" stroke="#333" stroke-width="0.16">2</text><text x="146.80" y="286.52" font-size="6.4" text-anchor="start" fill="#333" stroke="#333" stroke-width="0.16">3</text><path d="M145.90 378.58h-1.2M145.90 362.89h-1.2M145.90 347.19h-1.2M145.90 331.50h-1.2M145.90 315.81h-1.2M145.90 300.11h-1.2M145.90 284.42h-1.2" stroke="#8a8a8a" stroke-width="0.6"/><text x="135.40" y="388.30" font-size="7.0" text-anchor="start" fill="#333" stroke="#333" stroke-width="0.16">(rad)</text><rect x="198.40" y="282.10" width="131.00" height="100.50" fill="none" stroke="#8a8a8a" stroke-width="0.9"/><path d="M226.93 382.60v-1.3M226.93 282.10v1.3M255.46 382.60v-1.3M255.46 282.10v1.3M283.99 382.60v-1.3M283.99 282.10v1.3M312.52 382.60v-1.3M312.52 282.10v1.3M198.40 365.85h1.3M329.40 365.85h-1.3M198.40 349.10h1.3M329.40 349.10h-1.3M198.40 332.35h1.3M329.40 332.35h-1.3M198.40 315.60h1.3M329.40 315.60h-1.3M198.40 298.85h1.3M329.40 298.85h-1.3" stroke="#8a8a8a" stroke-width="0.8" fill="none"/><text x="198.40" y="388.80" font-size="6.4" text-anchor="middle" fill="#333" stroke="#333" stroke-width="0.16">400</text><text x="226.93" y="388.80" font-size="6.4" text-anchor="middle" fill="#333" stroke="#333" stroke-width="0.16">500</text><text x="255.46" y="388.80" font-size="6.4" text-anchor="middle" fill="#333" stroke="#333" stroke-width="0.16">600</text><text x="283.99" y="388.80" font-size="6.4" text-anchor="middle" fill="#333" stroke="#333" stroke-width="0.16">700</text><text x="312.52" y="388.80" font-size="6.4" text-anchor="middle" fill="#333" stroke="#333" stroke-width="0.16">800</text><text x="197.10" y="384.70" font-size="6.4" text-anchor="end" fill="#333" stroke="#333" stroke-width="0.16">-3</text><text x="197.10" y="367.95" font-size="6.4" text-anchor="end" fill="#333" stroke="#333" stroke-width="0.16">-2</text><text x="197.10" y="351.20" font-size="6.4" text-anchor="end" fill="#333" stroke="#333" stroke-width="0.16">-1</text><text x="197.10" y="334.45" font-size="6.4" text-anchor="end" fill="#333" stroke="#333" stroke-width="0.16">0</text><text x="197.10" y="317.70" font-size="6.4" text-anchor="end" fill="#333" stroke="#333" stroke-width="0.16">1</text><text x="197.10" y="300.95" font-size="6.4" text-anchor="end" fill="#333" stroke="#333" stroke-width="0.16">2</text><text x="197.10" y="284.20" font-size="6.4" text-anchor="end" fill="#333" stroke="#333" stroke-width="0.16">3</text><text x="263.40" y="397.20" font-size="6.5" text-anchor="middle" fill="#333" stroke="#333" stroke-width="0.16">Slant range (m)</text><text x="188.30" y="334.35" font-size="6.4" text-anchor="middle" transform="rotate(-90 188.30 334.35)" fill="#333" stroke="#333" stroke-width="0.16">Phase (rad)</text><text x="251.50" y="408.10" font-size="7.6" text-anchor="middle" font-weight="bold" fill="#222" stroke="#222" stroke-width="0.16">(f)</text><rect x="22.50" y="420.80" width="109.00" height="98.40" fill="none" stroke="#8a8a8a" stroke-width="0.9"/><path d="M49.75 519.20v-1.3M49.75 420.80v1.3M77.00 519.20v-1.3M77.00 420.80v1.3M104.25 519.20v-1.3M104.25 420.80v1.3M22.50 497.33h1.3M131.50 497.33h-1.3M22.50 475.47h1.3M131.50 475.47h-1.3M22.50 453.60h1.3M131.50 453.60h-1.3M22.50 431.73h1.3M131.50 431.73h-1.3" stroke="#8a8a8a" stroke-width="0.8" fill="none"/><text x="22.50" y="526.20" font-size="6.4" text-anchor="middle" fill="#333" stroke="#333" stroke-width="0.16">-40</text><text x="49.75" y="526.20" font-size="6.4" text-anchor="middle" fill="#333" stroke="#333" stroke-width="0.16">-20</text><text x="77.00" y="526.20" font-size="6.4" text-anchor="middle" fill="#333" stroke="#333" stroke-width="0.16">0</text><text x="104.25" y="526.20" font-size="6.4" text-anchor="middle" fill="#333" stroke="#333" stroke-width="0.16">20</text><text x="131.50" y="526.20" font-size="6.4" text-anchor="middle" fill="#333" stroke="#333" stroke-width="0.16">40</text><text x="21.20" y="521.30" font-size="6.4" text-anchor="end" fill="#333" stroke="#333" stroke-width="0.16">400</text><text x="21.20" y="499.43" font-size="6.4" text-anchor="end" fill="#333" stroke="#333" stroke-width="0.16">500</text><text x="21.20" y="477.57" font-size="6.4" text-anchor="end" fill="#333" stroke="#333" stroke-width="0.16">600</text><text x="21.20" y="455.70" font-size="6.4" text-anchor="end" fill="#333" stroke="#333" stroke-width="0.16">700</text><text x="21.20" y="433.83" font-size="6.4" text-anchor="end" fill="#333" stroke="#333" stroke-width="0.16">800</text><text x="76.70" y="534.60" font-size="6.5" text-anchor="middle" fill="#333" stroke="#333" stroke-width="0.16">Azimuth angle (<tspan font-size="4.1" dy="-2.3">o</tspan><tspan dy="2.3">)</tspan></text><text x="8.30" y="469.40" font-size="6.6" text-anchor="middle" transform="rotate(-90 8.30 469.40)" fill="#333" stroke="#333" stroke-width="0.16">Slant range (m)</text><text x="75.50" y="547.00" font-size="7.6" text-anchor="middle" font-weight="bold" fill="#222" stroke="#222" stroke-width="0.16">(g)</text><rect x="138.3" y="420.80" width="7.60" height="98.60" fill="url(#jetg)"/><rect x="138.3" y="420.80" width="7.60" height="98.60" fill="none" stroke="#8a8a8a" stroke-width="0.7"/><text x="146.80" y="519.28" font-size="6.4" text-anchor="start" fill="#333" stroke="#333" stroke-width="0.16">-3</text><text x="146.80" y="503.59" font-size="6.4" text-anchor="start" fill="#333" stroke="#333" stroke-width="0.16">-2</text><text x="146.80" y="487.89" font-size="6.4" text-anchor="start" fill="#333" stroke="#333" stroke-width="0.16">-1</text><text x="146.80" y="472.20" font-size="6.4" text-anchor="start" fill="#333" stroke="#333" stroke-width="0.16">0</text><text x="146.80" y="456.51" font-size="6.4" text-anchor="start" fill="#333" stroke="#333" stroke-width="0.16">1</text><text x="146.80" y="440.81" font-size="6.4" text-anchor="start" fill="#333" stroke="#333" stroke-width="0.16">2</text><text x="146.80" y="425.12" font-size="6.4" text-anchor="start" fill="#333" stroke="#333" stroke-width="0.16">3</text><path d="M145.90 517.18h-1.2M145.90 501.49h-1.2M145.90 485.79h-1.2M145.90 470.10h-1.2M145.90 454.41h-1.2M145.90 438.71h-1.2M145.90 423.02h-1.2" stroke="#8a8a8a" stroke-width="0.6"/><text x="135.40" y="526.90" font-size="7.0" text-anchor="start" fill="#333" stroke="#333" stroke-width="0.16">(rad)</text><rect x="198.40" y="420.70" width="131.00" height="100.50" fill="none" stroke="#8a8a8a" stroke-width="0.9"/><path d="M226.93 521.20v-1.3M226.93 420.70v1.3M255.46 521.20v-1.3M255.46 420.70v1.3M283.99 521.20v-1.3M283.99 420.70v1.3M312.52 521.20v-1.3M312.52 420.70v1.3M198.40 504.45h1.3M329.40 504.45h-1.3M198.40 487.70h1.3M329.40 487.70h-1.3M198.40 470.95h1.3M329.40 470.95h-1.3M198.40 454.20h1.3M329.40 454.20h-1.3M198.40 437.45h1.3M329.40 437.45h-1.3" stroke="#8a8a8a" stroke-width="0.8" fill="none"/><text x="198.40" y="527.40" font-size="6.4" text-anchor="middle" fill="#333" stroke="#333" stroke-width="0.16">400</text><text x="226.93" y="527.40" font-size="6.4" text-anchor="middle" fill="#333" stroke="#333" stroke-width="0.16">500</text><text x="255.46" y="527.40" font-size="6.4" text-anchor="middle" fill="#333" stroke="#333" stroke-width="0.16">600</text><text x="283.99" y="527.40" font-size="6.4" text-anchor="middle" fill="#333" stroke="#333" stroke-width="0.16">700</text><text x="312.52" y="527.40" font-size="6.4" text-anchor="middle" fill="#333" stroke="#333" stroke-width="0.16">800</text><text x="197.10" y="523.30" font-size="6.4" text-anchor="end" fill="#333" stroke="#333" stroke-width="0.16">-3</text><text x="197.10" y="506.55" font-size="6.4" text-anchor="end" fill="#333" stroke="#333" stroke-width="0.16">-2</text><text x="197.10" y="489.80" font-size="6.4" text-anchor="end" fill="#333" stroke="#333" stroke-width="0.16">-1</text><text x="197.10" y="473.05" font-size="6.4" text-anchor="end" fill="#333" stroke="#333" stroke-width="0.16">0</text><text x="197.10" y="456.30" font-size="6.4" text-anchor="end" fill="#333" stroke="#333" stroke-width="0.16">1</text><text x="197.10" y="439.55" font-size="6.4" text-anchor="end" fill="#333" stroke="#333" stroke-width="0.16">2</text><text x="197.10" y="422.80" font-size="6.4" text-anchor="end" fill="#333" stroke="#333" stroke-width="0.16">3</text><text x="263.40" y="535.80" font-size="6.5" text-anchor="middle" fill="#333" stroke="#333" stroke-width="0.16">Slant range (m)</text><text x="188.30" y="472.95" font-size="6.4" text-anchor="middle" transform="rotate(-90 188.30 472.95)" fill="#333" stroke="#333" stroke-width="0.16">Phase (rad)</text><text x="251.50" y="546.70" font-size="7.6" text-anchor="middle" font-weight="bold" fill="#222" stroke="#222" stroke-width="0.16">(h)</text>
</svg>
</body></html>
